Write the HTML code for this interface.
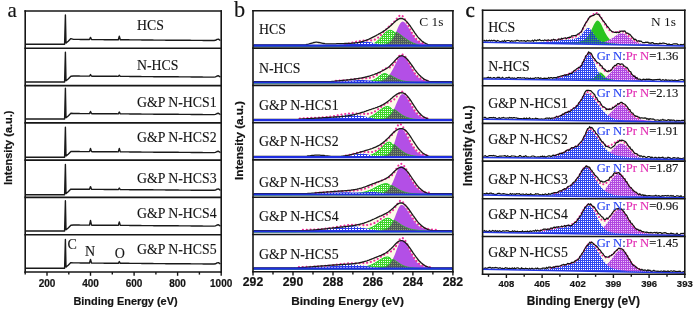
<!DOCTYPE html>
<html><head><meta charset="utf-8"><style>html,body{margin:0;padding:0;background:#fff;overflow:hidden;}svg{display:block;will-change:transform;}</style></head>
<body>
<svg width="695" height="310" viewBox="0 0 695 310">
<defs>
<pattern id="pb" width="3" height="2" patternUnits="userSpaceOnUse"><rect width="3" height="2" fill="#2a3cec"/><rect x="1" y="1" width="2" height="1" fill="#ffffff"/></pattern>
<pattern id="pbc" width="2" height="2" patternUnits="userSpaceOnUse"><rect width="2" height="2" fill="#3048f0"/><rect x="1" y="1" width="1" height="1" fill="#ffffff"/></pattern>
<pattern id="pm" width="2" height="2" patternUnits="userSpaceOnUse"><rect width="2" height="2" fill="#b048e0"/><rect x="1" y="1" width="1" height="1" fill="#f0c4f8"/></pattern>
<pattern id="pg" width="2" height="2" patternUnits="userSpaceOnUse"><rect width="2" height="2" fill="#3cd428"/><rect x="1" y="1" width="1" height="1" fill="#f4fff0"/></pattern>
<pattern id="pk" width="2" height="2" patternUnits="userSpaceOnUse"><rect width="2" height="2" fill="#4e5a5a"/><rect x="1" y="1" width="1" height="1" fill="#8aa070"/></pattern>
<pattern id="pgo" width="2" height="2" patternUnits="userSpaceOnUse"><rect width="2" height="2" fill="#1f4fb0"/><rect x="1" y="1" width="1" height="1" fill="#3fc03a"/></pattern>
</defs>
<rect width="695" height="310" fill="#ffffff"/>
<path d="M26.0,44.3 L64.6,44.3 L65.4,14.9 L66.0,43.1 L66.7,42.5 L68.2,41.3 L70.9,38.6 L73.5,39.4 L74.5,39.4 L76.0,39.4 L77.5,39.4 L79.0,39.4 L80.5,39.5 L82.0,39.5 L83.5,39.5 L85.0,39.5 L86.5,39.5 L88.0,39.5 L89.5,39.5 L89.5,39.5 L90.5,37.4 L91.5,39.5 L92.5,39.6 L94.0,39.6 L95.5,39.6 L97.0,39.6 L98.5,39.6 L100.0,39.6 L101.5,39.6 L103.0,39.6 L104.5,39.7 L106.0,39.7 L107.5,39.7 L109.0,39.7 L110.5,39.7 L112.0,39.7 L113.5,39.7 L115.0,39.7 L116.5,39.7 L118.0,39.8 L118.3,39.8 L119.3,36.2 L120.3,39.8 L121.0,39.8 L122.5,39.8 L124.0,39.8 L125.5,39.8 L127.0,39.8 L128.5,39.8 L130.0,39.9 L131.5,39.9 L133.0,39.9 L134.5,39.9 L136.0,39.9 L137.5,39.9 L139.0,39.9 L140.5,39.9 L142.0,40.0 L143.5,40.0 L145.0,40.0 L146.5,40.0 L148.0,40.0 L149.5,40.0 L151.0,40.0 L152.5,40.0 L154.0,40.1 L155.5,40.1 L157.0,40.1 L158.5,40.1 L160.0,40.1 L161.5,40.1 L163.0,40.1 L164.5,40.1 L166.0,40.2 L167.5,40.2 L169.0,40.2 L170.5,40.2 L172.0,40.2 L173.5,40.2 L175.0,40.2 L176.5,40.2 L178.0,40.2 L179.5,40.3 L181.0,40.3 L182.5,40.3 L184.0,40.3 L185.5,40.3 L187.0,40.3 L188.5,40.3 L190.0,40.3 L191.5,40.4 L193.0,40.4 L194.5,40.4 L196.0,40.4 L197.5,40.4 L199.0,40.4 L200.5,40.4 L202.0,40.4 L203.5,40.5 L205.0,40.5 L206.5,40.5 L208.0,40.5 L209.5,40.5 L211.0,40.5 L212.5,40.5 L214.0,40.5 L215.5,40.3 L217.0,39.4 L218.5,39.1 L220.0,40.2 L220.4,40.6" fill="none" stroke="#1a1a1a" stroke-width="1.4" stroke-linejoin="round"/>
<path d="M26.0,82.0 L64.6,82.0 L65.4,52.2 L66.0,80.8 L66.7,80.2 L68.2,79.0 L70.9,76.3 L73.5,76.0 L74.5,76.0 L76.0,76.0 L77.5,76.0 L79.0,76.0 L80.5,76.1 L82.0,76.1 L83.5,76.1 L85.0,76.1 L86.5,76.1 L88.0,76.1 L89.5,76.1 L89.5,76.1 L90.5,74.6 L91.5,76.1 L92.5,76.2 L94.0,76.2 L95.5,76.2 L97.0,76.2 L98.5,76.2 L100.0,76.2 L101.5,76.2 L103.0,76.2 L104.5,76.3 L106.0,76.3 L107.5,76.3 L109.0,76.3 L110.5,76.3 L112.0,76.3 L113.5,76.3 L115.0,76.3 L116.5,76.3 L118.0,76.4 L118.3,76.4 L119.3,75.2 L120.3,76.4 L121.0,76.4 L122.5,76.4 L124.0,76.4 L125.5,76.4 L127.0,76.4 L128.5,76.4 L130.0,76.5 L131.5,76.5 L133.0,76.5 L134.5,76.5 L136.0,76.5 L137.5,76.5 L139.0,76.5 L140.5,76.5 L142.0,76.6 L143.5,76.6 L145.0,76.6 L146.5,76.6 L148.0,76.6 L149.5,76.6 L151.0,76.6 L152.5,76.6 L154.0,76.7 L155.5,76.7 L157.0,76.7 L158.5,76.7 L160.0,76.7 L161.5,76.7 L163.0,76.7 L164.5,76.7 L166.0,76.8 L167.5,76.8 L169.0,76.8 L170.5,76.8 L172.0,76.8 L173.5,76.8 L175.0,76.8 L176.5,76.8 L178.0,76.8 L179.5,76.9 L181.0,76.9 L182.5,76.9 L184.0,76.9 L185.5,76.9 L187.0,76.9 L188.5,76.9 L190.0,76.9 L191.5,77.0 L193.0,77.0 L194.5,77.0 L196.0,77.0 L197.5,77.0 L199.0,77.0 L200.5,77.0 L202.0,77.0 L203.5,77.1 L205.0,77.1 L206.5,77.1 L208.0,77.1 L209.5,77.1 L211.0,77.1 L212.5,77.1 L214.0,77.1 L215.5,76.9 L217.0,76.0 L218.5,75.7 L220.0,76.8 L220.4,77.2" fill="none" stroke="#1a1a1a" stroke-width="1.4" stroke-linejoin="round"/>
<path d="M26.0,119.0 L64.6,119.0 L65.4,88.2 L66.0,117.8 L66.7,117.2 L68.2,116.0 L70.9,113.3 L73.5,113.5 L74.5,113.5 L76.0,113.5 L77.5,113.5 L79.0,113.5 L80.5,113.6 L82.0,113.6 L83.5,113.6 L85.0,113.6 L86.5,113.6 L88.0,113.6 L89.5,113.6 L89.5,113.6 L90.5,111.5 L91.5,113.6 L92.5,113.7 L94.0,113.7 L95.5,113.7 L97.0,113.7 L98.5,113.7 L100.0,113.7 L101.5,113.7 L103.0,113.7 L104.5,113.8 L106.0,113.8 L107.5,113.8 L109.0,113.8 L110.5,113.8 L112.0,113.8 L113.5,113.8 L115.0,113.8 L116.5,113.8 L118.0,113.9 L118.3,113.9 L119.3,112.0 L120.3,113.9 L121.0,113.9 L122.5,113.9 L124.0,113.9 L125.5,113.9 L127.0,113.9 L128.5,113.9 L130.0,114.0 L131.5,114.0 L133.0,114.0 L134.5,114.0 L136.0,114.0 L137.5,114.0 L139.0,114.0 L140.5,114.0 L142.0,114.1 L143.5,114.1 L145.0,114.1 L146.5,114.1 L148.0,114.1 L149.5,114.1 L151.0,114.1 L152.5,114.1 L154.0,114.2 L155.5,114.2 L157.0,114.2 L158.5,114.2 L160.0,114.2 L161.5,114.2 L163.0,114.2 L164.5,114.2 L166.0,114.3 L167.5,114.3 L169.0,114.3 L170.5,114.3 L172.0,114.3 L173.5,114.3 L175.0,114.3 L176.5,114.3 L178.0,114.3 L179.5,114.4 L181.0,114.4 L182.5,114.4 L184.0,114.4 L185.5,114.4 L187.0,114.4 L188.5,114.4 L190.0,114.4 L191.5,114.5 L193.0,114.5 L194.5,114.5 L196.0,114.5 L197.5,114.5 L199.0,114.5 L200.5,114.5 L202.0,114.5 L203.5,114.6 L205.0,114.6 L206.5,114.6 L208.0,114.6 L209.5,114.6 L211.0,114.6 L212.5,114.6 L214.0,114.6 L215.5,114.4 L217.0,113.5 L218.5,113.2 L220.0,114.3 L220.4,114.7" fill="none" stroke="#1a1a1a" stroke-width="1.4" stroke-linejoin="round"/>
<path d="M26.0,157.2 L64.6,157.2 L65.4,127.2 L66.0,156.0 L66.7,155.4 L68.2,154.2 L70.9,151.5 L73.5,151.5 L74.5,151.5 L76.0,151.5 L77.5,151.5 L79.0,151.5 L80.5,151.6 L82.0,151.6 L83.5,151.6 L85.0,151.6 L86.5,151.6 L88.0,151.6 L89.5,151.6 L89.5,151.6 L90.5,148.5 L91.5,151.6 L92.5,151.7 L94.0,151.7 L95.5,151.7 L97.0,151.7 L98.5,151.7 L100.0,151.7 L101.5,151.7 L103.0,151.7 L104.5,151.8 L106.0,151.8 L107.5,151.8 L109.0,151.8 L110.5,151.8 L112.0,151.8 L113.5,151.8 L115.0,151.8 L116.5,151.8 L118.0,151.9 L118.3,151.9 L119.3,148.5 L120.3,151.9 L121.0,151.9 L122.5,151.9 L124.0,151.9 L125.5,151.9 L127.0,151.9 L128.5,151.9 L130.0,152.0 L131.5,152.0 L133.0,152.0 L134.5,152.0 L136.0,152.0 L137.5,152.0 L139.0,152.0 L140.5,152.0 L142.0,152.1 L143.5,152.1 L145.0,152.1 L146.5,152.1 L148.0,152.1 L149.5,152.1 L151.0,152.1 L152.5,152.1 L154.0,152.2 L155.5,152.2 L157.0,152.2 L158.5,152.2 L160.0,152.2 L161.5,152.2 L163.0,152.2 L164.5,152.2 L166.0,152.3 L167.5,152.3 L169.0,152.3 L170.5,152.3 L172.0,152.3 L173.5,152.3 L175.0,152.3 L176.5,152.3 L178.0,152.3 L179.5,152.4 L181.0,152.4 L182.5,152.4 L184.0,152.4 L185.5,152.4 L187.0,152.4 L188.5,152.4 L190.0,152.4 L191.5,152.5 L193.0,152.5 L194.5,152.5 L196.0,152.5 L197.5,152.5 L199.0,152.5 L200.5,152.5 L202.0,152.5 L203.5,152.6 L205.0,152.6 L206.5,152.6 L208.0,152.6 L209.5,152.6 L211.0,152.6 L212.5,152.6 L214.0,152.6 L215.5,152.4 L217.0,151.5 L218.5,151.2 L220.0,152.3 L220.4,152.7" fill="none" stroke="#1a1a1a" stroke-width="1.4" stroke-linejoin="round"/>
<path d="M26.0,194.8 L64.6,194.8 L65.4,164.4 L66.0,193.6 L66.7,193.0 L68.2,191.8 L70.9,189.1 L73.5,189.2 L74.5,189.2 L76.0,189.2 L77.5,189.2 L79.0,189.2 L80.5,189.3 L82.0,189.3 L83.5,189.3 L85.0,189.3 L86.5,189.3 L88.0,189.3 L89.5,189.3 L89.5,189.3 L90.5,186.6 L91.5,189.3 L92.5,189.4 L94.0,189.4 L95.5,189.4 L97.0,189.4 L98.5,189.4 L100.0,189.4 L101.5,189.4 L103.0,189.4 L104.5,189.5 L106.0,189.5 L107.5,189.5 L109.0,189.5 L110.5,189.5 L112.0,189.5 L113.5,189.5 L115.0,189.5 L116.5,189.5 L118.0,189.6 L118.3,189.6 L119.3,188.0 L120.3,189.6 L121.0,189.6 L122.5,189.6 L124.0,189.6 L125.5,189.6 L127.0,189.6 L128.5,189.6 L130.0,189.7 L131.5,189.7 L133.0,189.7 L134.5,189.7 L136.0,189.7 L137.5,189.7 L139.0,189.7 L140.5,189.7 L142.0,189.8 L143.5,189.8 L145.0,189.8 L146.5,189.8 L148.0,189.8 L149.5,189.8 L151.0,189.8 L152.5,189.8 L154.0,189.9 L155.5,189.9 L157.0,189.9 L158.5,189.9 L160.0,189.9 L161.5,189.9 L163.0,189.9 L164.5,189.9 L166.0,190.0 L167.5,190.0 L169.0,190.0 L170.5,190.0 L172.0,190.0 L173.5,190.0 L175.0,190.0 L176.5,190.0 L178.0,190.0 L179.5,190.1 L181.0,190.1 L182.5,190.1 L184.0,190.1 L185.5,190.1 L187.0,190.1 L188.5,190.1 L190.0,190.1 L191.5,190.2 L193.0,190.2 L194.5,190.2 L196.0,190.2 L197.5,190.2 L199.0,190.2 L200.5,190.2 L202.0,190.2 L203.5,190.3 L205.0,190.3 L206.5,190.3 L208.0,190.3 L209.5,190.3 L211.0,190.3 L212.5,190.3 L214.0,190.3 L215.5,190.1 L217.0,189.2 L218.5,188.9 L220.0,190.0 L220.4,190.4" fill="none" stroke="#1a1a1a" stroke-width="1.4" stroke-linejoin="round"/>
<path d="M26.0,231.0 L64.6,231.0 L65.4,200.7 L66.0,229.8 L66.7,229.2 L68.2,228.0 L70.9,225.3 L73.5,225.0 L74.5,225.0 L76.0,225.0 L77.5,225.0 L79.0,225.0 L80.5,225.1 L82.0,225.1 L83.5,225.1 L85.0,225.1 L86.5,225.1 L88.0,225.1 L89.5,225.1 L89.5,225.1 L90.5,220.5 L91.5,225.1 L92.5,225.2 L94.0,225.2 L95.5,225.2 L97.0,225.2 L98.5,225.2 L100.0,225.2 L101.5,225.2 L103.0,225.2 L104.5,225.3 L106.0,225.3 L107.5,225.3 L109.0,225.3 L110.5,225.3 L112.0,225.3 L113.5,225.3 L115.0,225.3 L116.5,225.3 L118.0,225.4 L118.3,225.4 L119.3,222.0 L120.3,225.4 L121.0,225.4 L122.5,225.4 L124.0,225.4 L125.5,225.4 L127.0,225.4 L128.5,225.4 L130.0,225.5 L131.5,225.5 L133.0,225.5 L134.5,225.5 L136.0,225.5 L137.5,225.5 L139.0,225.5 L140.5,225.5 L142.0,225.6 L143.5,225.6 L145.0,225.6 L146.5,225.6 L148.0,225.6 L149.5,225.6 L151.0,225.6 L152.5,225.6 L154.0,225.7 L155.5,225.7 L157.0,225.7 L158.5,225.7 L160.0,225.7 L161.5,225.7 L163.0,225.7 L164.5,225.7 L166.0,225.8 L167.5,225.8 L169.0,225.8 L170.5,225.8 L172.0,225.8 L173.5,225.8 L175.0,225.8 L176.5,225.8 L178.0,225.8 L179.5,225.9 L181.0,225.9 L182.5,225.9 L184.0,225.9 L185.5,225.9 L187.0,225.9 L188.5,225.9 L190.0,225.9 L191.5,226.0 L193.0,226.0 L194.5,226.0 L196.0,226.0 L197.5,226.0 L199.0,226.0 L200.5,226.0 L202.0,226.0 L203.5,226.1 L205.0,226.1 L206.5,226.1 L208.0,226.1 L209.5,226.1 L211.0,226.1 L212.5,226.1 L214.0,226.1 L215.5,225.9 L217.0,225.0 L218.5,224.7 L220.0,225.8 L220.4,226.2" fill="none" stroke="#1a1a1a" stroke-width="1.4" stroke-linejoin="round"/>
<path d="M26.0,268.3 L64.6,268.3 L65.4,239.4 L66.0,267.1 L66.7,266.5 L68.2,265.3 L70.9,262.6 L73.5,262.9 L74.5,262.9 L76.0,262.9 L77.5,262.9 L79.0,262.9 L80.5,263.0 L82.0,263.0 L83.5,263.0 L85.0,263.0 L86.5,263.0 L88.0,263.0 L89.5,263.0 L89.5,263.0 L90.5,259.5 L91.5,263.0 L92.5,263.1 L94.0,263.1 L95.5,263.1 L97.0,263.1 L98.5,263.1 L100.0,263.1 L101.5,263.1 L103.0,263.1 L104.5,263.2 L106.0,263.2 L107.5,263.2 L109.0,263.2 L110.5,263.2 L112.0,263.2 L113.5,263.2 L115.0,263.2 L116.5,263.2 L118.0,263.3 L118.3,263.3 L119.3,261.6 L120.3,263.3 L121.0,263.3 L122.5,263.3 L124.0,263.3 L125.5,263.3 L127.0,263.3 L128.5,263.3 L130.0,263.4 L131.5,263.4 L133.0,263.4 L134.5,263.4 L136.0,263.4 L137.5,263.4 L139.0,263.4 L140.5,263.4 L142.0,263.5 L143.5,263.5 L145.0,263.5 L146.5,263.5 L148.0,263.5 L149.5,263.5 L151.0,263.5 L152.5,263.5 L154.0,263.6 L155.5,263.6 L157.0,263.6 L158.5,263.6 L160.0,263.6 L161.5,263.6 L163.0,263.6 L164.5,263.6 L166.0,263.7 L167.5,263.7 L169.0,263.7 L170.5,263.7 L172.0,263.7 L173.5,263.7 L175.0,263.7 L176.5,263.7 L178.0,263.7 L179.5,263.8 L181.0,263.8 L182.5,263.8 L184.0,263.8 L185.5,263.8 L187.0,263.8 L188.5,263.8 L190.0,263.8 L191.5,263.9 L193.0,263.9 L194.5,263.9 L196.0,263.9 L197.5,263.9 L199.0,263.9 L200.5,263.9 L202.0,263.9 L203.5,264.0 L205.0,264.0 L206.5,264.0 L208.0,264.0 L209.5,264.0 L211.0,264.0 L212.5,264.0 L214.0,264.0 L215.5,263.8 L217.0,262.9 L218.5,262.6 L220.0,263.7 L220.4,264.1" fill="none" stroke="#1a1a1a" stroke-width="1.4" stroke-linejoin="round"/>
<path d="M253.8,46.0 L253.8,44.9 L254.8,44.9 L255.8,44.9 L256.8,44.9 L257.8,44.9 L258.8,44.9 L259.8,44.9 L260.8,44.9 L261.8,44.9 L262.8,44.9 L263.8,44.9 L264.8,44.9 L265.8,44.9 L266.8,44.9 L267.8,44.9 L268.8,44.9 L269.8,44.9 L270.8,44.9 L271.8,44.9 L272.8,44.9 L273.8,44.9 L274.8,44.9 L275.8,44.9 L276.8,44.9 L277.8,44.9 L278.8,44.9 L279.8,44.9 L280.8,44.9 L281.8,44.9 L282.8,44.9 L283.8,44.9 L284.8,44.9 L285.8,44.9 L286.9,44.9 L287.9,44.9 L288.9,44.9 L289.9,44.9 L290.9,44.9 L291.9,44.9 L292.9,44.9 L293.9,44.9 L294.9,44.9 L295.9,44.9 L296.9,44.9 L297.9,44.9 L298.9,44.9 L299.9,44.9 L300.9,44.9 L301.9,44.9 L302.9,44.9 L303.9,44.9 L304.9,44.8 L305.9,44.7 L306.9,44.5 L307.9,44.3 L308.9,44.0 L309.9,43.7 L310.9,43.4 L311.9,43.1 L312.9,42.8 L313.9,42.5 L314.9,42.3 L315.9,42.2 L316.9,42.2 L317.9,42.3 L318.9,42.5 L319.9,42.7 L320.9,42.9 L321.9,43.1 L322.9,43.3 L323.9,43.5 L324.9,43.7 L325.9,43.8 L326.9,43.9 L327.9,43.9 L328.9,43.9 L329.9,43.9 L330.9,43.9 L331.9,43.9 L332.9,43.9 L333.9,43.8 L334.9,43.8 L335.9,43.8 L336.9,43.7 L337.9,43.7 L338.9,43.7 L339.9,43.7 L340.9,43.6 L341.9,43.6 L342.9,43.6 L343.9,43.6 L344.9,43.5 L345.9,43.5 L346.9,43.5 L347.9,43.4 L348.9,43.4 L349.9,43.3 L350.9,43.3 L351.9,43.2 L352.9,43.1 L354.0,43.0 L355.0,42.9 L356.0,42.8 L357.0,42.6 L358.0,42.5 L359.0,42.3 L360.0,42.1 L361.0,41.9 L362.0,41.6 L363.0,41.3 L364.0,41.0 L365.0,40.7 L366.0,40.3 L367.0,39.9 L368.0,39.5 L369.0,39.1 L370.0,38.6 L371.0,38.2 L372.0,37.7 L373.0,37.2 L374.0,36.7 L375.0,36.1 L376.0,35.6 L377.0,35.0 L378.0,34.5 L379.0,33.9 L380.0,33.4 L381.0,32.8 L382.0,32.2 L383.0,31.6 L384.0,30.9 L385.0,30.3 L386.0,29.6 L387.0,28.8 L388.0,28.0 L389.0,27.2 L390.0,26.3 L391.0,25.4 L392.0,24.5 L393.0,23.6 L394.0,22.6 L395.0,21.7 L396.0,20.8 L397.0,20.1 L398.0,19.4 L399.0,18.9 L400.0,18.5 L401.0,18.4 L402.0,18.5 L403.0,18.8 L404.0,19.3 L405.0,20.0 L406.0,20.9 L407.0,21.9 L408.0,23.1 L409.0,24.3 L410.0,25.7 L411.0,27.2 L412.0,28.6 L413.0,30.1 L414.0,31.6 L415.0,33.1 L416.0,34.5 L417.0,35.8 L418.0,37.1 L419.0,38.2 L420.1,39.3 L421.1,40.3 L422.1,41.2 L423.1,41.9 L424.1,42.6 L425.1,43.2 L426.1,43.7 L427.1,44.1 L428.1,44.5 L429.1,44.8 L430.1,44.9 L431.1,44.9 L432.1,44.9 L433.1,44.9 L434.1,44.9 L435.1,44.9 L436.1,44.9 L437.1,44.9 L438.1,44.9 L439.1,44.9 L440.1,44.9 L441.1,44.9 L442.1,44.9 L443.1,44.9 L444.1,44.9 L445.1,44.9 L446.1,44.9 L447.1,44.9 L448.1,44.9 L449.1,44.9 L450.1,44.9 L451.1,44.9 L452.1,44.9 L452.1,46.0 Z" fill="#fcfae8"/>
<path d="M253.8,46.0 L253.8,46.0 L254.8,46.0 L255.8,46.0 L256.8,46.0 L257.8,46.0 L258.8,46.0 L259.8,46.0 L260.8,46.0 L261.8,46.0 L262.8,46.0 L263.8,46.0 L264.8,46.0 L265.8,46.0 L266.8,46.0 L267.8,46.0 L268.8,46.0 L269.8,46.0 L270.8,46.0 L271.8,46.0 L272.8,46.0 L273.8,46.0 L274.8,46.0 L275.8,46.0 L276.8,46.0 L277.8,46.0 L278.8,46.0 L279.8,46.0 L280.8,46.0 L281.8,46.0 L282.8,46.0 L283.8,46.0 L284.8,46.0 L285.8,46.0 L286.9,46.0 L287.9,46.0 L288.9,46.0 L289.9,46.0 L290.9,46.0 L291.9,46.0 L292.9,46.0 L293.9,46.0 L294.9,46.0 L295.9,45.9 L296.9,45.9 L297.9,45.9 L298.9,45.9 L299.9,45.9 L300.9,45.9 L301.9,45.9 L302.9,45.9 L303.9,45.9 L304.9,45.9 L305.9,45.9 L306.9,45.9 L307.9,45.9 L308.9,45.9 L309.9,45.9 L310.9,45.9 L311.9,45.9 L312.9,45.9 L313.9,45.9 L314.9,45.9 L315.9,45.9 L316.9,45.9 L317.9,45.9 L318.9,45.9 L319.9,45.9 L320.9,45.9 L321.9,45.9 L322.9,45.9 L323.9,45.9 L324.9,45.9 L325.9,45.9 L326.9,45.9 L327.9,45.9 L328.9,45.9 L329.9,45.9 L330.9,45.9 L331.9,45.9 L332.9,45.9 L333.9,45.9 L334.9,45.9 L335.9,45.9 L336.9,45.9 L337.9,45.9 L338.9,45.9 L339.9,45.9 L340.9,45.8 L341.9,45.8 L342.9,45.8 L343.9,45.8 L344.9,45.8 L345.9,45.8 L346.9,45.8 L347.9,45.8 L348.9,45.8 L349.9,45.8 L350.9,45.8 L351.9,45.8 L352.9,45.8 L354.0,45.8 L355.0,45.8 L356.0,45.7 L357.0,45.7 L358.0,45.7 L359.0,45.7 L360.0,45.7 L361.0,45.7 L362.0,45.7 L363.0,45.6 L364.0,45.6 L365.0,45.6 L366.0,45.6 L367.0,45.6 L368.0,45.5 L369.0,45.5 L370.0,45.5 L371.0,45.5 L372.0,45.4 L373.0,45.4 L374.0,45.3 L375.0,45.3 L376.0,45.2 L377.0,45.2 L378.0,45.1 L379.0,45.1 L380.0,45.0 L381.0,44.9 L382.0,44.8 L383.0,44.6 L384.0,44.5 L385.0,44.3 L386.0,44.0 L387.0,43.7 L388.0,43.2 L389.0,42.6 L390.0,41.8 L391.0,40.8 L392.0,39.6 L393.0,38.1 L394.0,36.4 L395.0,34.4 L396.0,32.2 L397.0,29.9 L398.0,27.6 L399.0,25.5 L400.0,23.7 L401.0,22.4 L402.0,21.7 L403.0,21.6 L404.0,22.0 L405.0,22.8 L406.0,23.9 L407.0,25.3 L408.0,26.9 L409.0,28.6 L410.0,30.3 L411.0,32.0 L412.0,33.7 L413.0,35.3 L414.0,36.7 L415.0,38.0 L416.0,39.2 L417.0,40.2 L418.0,41.0 L419.0,41.8 L420.1,42.4 L421.1,42.9 L422.1,43.3 L423.1,43.6 L424.1,43.9 L425.1,44.1 L426.1,44.3 L427.1,44.5 L428.1,44.6 L429.1,44.7 L430.1,44.8 L431.1,44.9 L432.1,45.0 L433.1,45.0 L434.1,45.1 L435.1,45.1 L436.1,45.2 L437.1,45.2 L438.1,45.3 L439.1,45.3 L440.1,45.3 L441.1,45.4 L442.1,45.4 L443.1,45.4 L444.1,45.4 L445.1,45.5 L446.1,45.5 L447.1,45.5 L448.1,45.5 L449.1,45.6 L450.1,45.6 L451.1,45.6 L452.1,45.6 L452.1,46.0 Z" fill="#b34fe6"/>
<path d="M253.8,46.0 L253.8,46.0 L254.8,46.0 L255.8,46.0 L256.8,46.0 L257.8,46.0 L258.8,46.0 L259.8,46.0 L260.8,46.0 L261.8,46.0 L262.8,46.0 L263.8,46.0 L264.8,46.0 L265.8,46.0 L266.8,46.0 L267.8,46.0 L268.8,46.0 L269.8,46.0 L270.8,46.0 L271.8,46.0 L272.8,46.0 L273.8,46.0 L274.8,46.0 L275.8,46.0 L276.8,46.0 L277.8,46.0 L278.8,46.0 L279.8,46.0 L280.8,46.0 L281.8,46.0 L282.8,46.0 L283.8,46.0 L284.8,46.0 L285.8,46.0 L286.9,46.0 L287.9,46.0 L288.9,46.0 L289.9,46.0 L290.9,46.0 L291.9,46.0 L292.9,46.0 L293.9,46.0 L294.9,46.0 L295.9,46.0 L296.9,46.0 L297.9,46.0 L298.9,46.0 L299.9,46.0 L300.9,46.0 L301.9,46.0 L302.9,46.0 L303.9,46.0 L304.9,46.0 L305.9,46.0 L306.9,46.0 L307.9,46.0 L308.9,46.0 L309.9,46.0 L310.9,46.0 L311.9,46.0 L312.9,46.0 L313.9,46.0 L314.9,46.0 L315.9,46.0 L316.9,46.0 L317.9,46.0 L318.9,46.0 L319.9,46.0 L320.9,46.0 L321.9,46.0 L322.9,46.0 L323.9,46.0 L324.9,46.0 L325.9,46.0 L326.9,46.0 L327.9,46.0 L328.9,46.0 L329.9,46.0 L330.9,46.0 L331.9,46.0 L332.9,46.0 L333.9,46.0 L334.9,46.0 L335.9,46.0 L336.9,46.0 L337.9,46.0 L338.9,46.0 L339.9,46.0 L340.9,46.0 L341.9,46.0 L342.9,46.0 L343.9,46.0 L344.9,46.0 L345.9,46.0 L346.9,46.0 L347.9,46.0 L348.9,46.0 L349.9,46.0 L350.9,46.0 L351.9,46.0 L352.9,46.0 L354.0,46.0 L355.0,46.0 L356.0,46.0 L357.0,46.0 L358.0,46.0 L359.0,46.0 L360.0,46.0 L361.0,46.0 L362.0,46.0 L363.0,45.9 L364.0,45.9 L365.0,45.8 L366.0,45.8 L367.0,45.7 L368.0,45.6 L369.0,45.4 L370.0,45.2 L371.0,44.9 L372.0,44.6 L373.0,44.2 L374.0,43.6 L375.0,43.0 L376.0,42.3 L377.0,41.5 L378.0,40.6 L379.0,39.6 L380.0,38.5 L381.0,37.4 L382.0,36.3 L383.0,35.1 L384.0,34.0 L385.0,33.0 L386.0,32.1 L387.0,31.4 L388.0,30.8 L389.0,30.5 L390.0,30.3 L391.0,30.4 L392.0,30.8 L393.0,31.3 L394.0,32.0 L395.0,32.8 L396.0,33.8 L397.0,34.8 L398.0,36.0 L399.0,37.1 L400.0,38.2 L401.0,39.3 L402.0,40.3 L403.0,41.2 L404.0,42.0 L405.0,42.7 L406.0,43.4 L407.0,43.9 L408.0,44.4 L409.0,44.7 L410.0,45.0 L411.0,45.3 L412.0,45.5 L413.0,45.6 L414.0,45.7 L415.0,45.8 L416.0,45.9 L417.0,45.9 L418.0,45.9 L419.0,46.0 L420.1,46.0 L421.1,46.0 L422.1,46.0 L423.1,46.0 L424.1,46.0 L425.1,46.0 L426.1,46.0 L427.1,46.0 L428.1,46.0 L429.1,46.0 L430.1,46.0 L431.1,46.0 L432.1,46.0 L433.1,46.0 L434.1,46.0 L435.1,46.0 L436.1,46.0 L437.1,46.0 L438.1,46.0 L439.1,46.0 L440.1,46.0 L441.1,46.0 L442.1,46.0 L443.1,46.0 L444.1,46.0 L445.1,46.0 L446.1,46.0 L447.1,46.0 L448.1,46.0 L449.1,46.0 L450.1,46.0 L451.1,46.0 L452.1,46.0 L452.1,46.0 Z" fill="url(#pg)" stroke="#22cc22" stroke-width="1.0"/>
<path d="M253.8,46.0 L253.8,46.0 L254.8,46.0 L255.8,46.0 L256.8,46.0 L257.8,46.0 L258.8,46.0 L259.8,46.0 L260.8,46.0 L261.8,46.0 L262.8,46.0 L263.8,46.0 L264.8,46.0 L265.8,46.0 L266.8,46.0 L267.8,46.0 L268.8,46.0 L269.8,46.0 L270.8,46.0 L271.8,46.0 L272.8,46.0 L273.8,46.0 L274.8,46.0 L275.8,46.0 L276.8,46.0 L277.8,46.0 L278.8,46.0 L279.8,46.0 L280.8,46.0 L281.8,46.0 L282.8,46.0 L283.8,46.0 L284.8,46.0 L285.8,46.0 L286.9,46.0 L287.9,46.0 L288.9,46.0 L289.9,46.0 L290.9,46.0 L291.9,46.0 L292.9,46.0 L293.9,46.0 L294.9,46.0 L295.9,46.0 L296.9,46.0 L297.9,46.0 L298.9,46.0 L299.9,46.0 L300.9,46.0 L301.9,46.0 L302.9,46.0 L303.9,46.0 L304.9,46.0 L305.9,46.0 L306.9,46.0 L307.9,46.0 L308.9,46.0 L309.9,46.0 L310.9,46.0 L311.9,46.0 L312.9,46.0 L313.9,46.0 L314.9,46.0 L315.9,46.0 L316.9,46.0 L317.9,46.0 L318.9,46.0 L319.9,46.0 L320.9,46.0 L321.9,46.0 L322.9,46.0 L323.9,46.0 L324.9,46.0 L325.9,46.0 L326.9,46.0 L327.9,46.0 L328.9,46.0 L329.9,46.0 L330.9,46.0 L331.9,46.0 L332.9,46.0 L333.9,46.0 L334.9,46.0 L335.9,46.0 L336.9,46.0 L337.9,46.0 L338.9,46.0 L339.9,46.0 L340.9,46.0 L341.9,46.0 L342.9,46.0 L343.9,46.0 L344.9,46.0 L345.9,46.0 L346.9,46.0 L347.9,46.0 L348.9,46.0 L349.9,46.0 L350.9,46.0 L351.9,46.0 L352.9,46.0 L354.0,46.0 L355.0,46.0 L356.0,46.0 L357.0,46.0 L358.0,46.0 L359.0,46.0 L360.0,46.0 L361.0,46.0 L362.0,46.0 L363.0,45.9 L364.0,45.9 L365.0,45.8 L366.0,45.8 L367.0,45.7 L368.0,45.6 L369.0,45.5 L370.0,45.5 L371.0,45.5 L372.0,45.4 L373.0,45.4 L374.0,45.3 L375.0,45.3 L376.0,45.2 L377.0,45.2 L378.0,45.1 L379.0,45.1 L380.0,45.0 L381.0,44.9 L382.0,44.8 L383.0,44.6 L384.0,44.5 L385.0,44.3 L386.0,44.0 L387.0,43.7 L388.0,43.2 L389.0,42.6 L390.0,41.8 L391.0,40.8 L392.0,39.6 L393.0,38.1 L394.0,36.4 L395.0,34.4 L396.0,32.2 L397.0,32.5 L398.0,33.1 L399.0,33.8 L400.0,34.5 L401.0,35.2 L402.0,36.0 L403.0,36.7 L404.0,37.5 L405.0,38.2 L406.0,38.9 L407.0,39.6 L408.0,40.3 L409.0,40.9 L410.0,41.5 L411.0,42.0 L412.0,42.5 L413.0,43.0 L414.0,43.4 L415.0,43.8 L416.0,44.1 L417.0,44.4 L418.0,44.6 L419.0,44.9 L420.1,45.0 L421.1,45.2 L422.1,45.4 L423.1,45.5 L424.1,45.6 L425.1,45.7 L426.1,45.7 L427.1,45.8 L428.1,45.8 L429.1,45.9 L430.1,45.9 L431.1,45.9 L432.1,45.9 L433.1,46.0 L434.1,46.0 L435.1,46.0 L436.1,46.0 L437.1,46.0 L438.1,46.0 L439.1,46.0 L440.1,46.0 L441.1,46.0 L442.1,46.0 L443.1,46.0 L444.1,46.0 L445.1,46.0 L446.1,46.0 L447.1,46.0 L448.1,46.0 L449.1,46.0 L450.1,46.0 L451.1,46.0 L452.1,46.0 L452.1,46.0 Z" fill="url(#pk)" stroke="#30b030" stroke-width="0.8"/>
<path d="M253.8,46.0 L253.8,46.0 L254.8,46.0 L255.8,46.0 L256.8,46.0 L257.8,46.0 L258.8,46.0 L259.8,46.0 L260.8,46.0 L261.8,46.0 L262.8,46.0 L263.8,46.0 L264.8,46.0 L265.8,46.0 L266.8,46.0 L267.8,46.0 L268.8,45.9 L269.8,45.9 L270.8,45.9 L271.8,45.9 L272.8,45.9 L273.8,45.9 L274.8,45.9 L275.8,45.9 L276.8,45.9 L277.8,45.9 L278.8,45.9 L279.8,45.9 L280.8,45.9 L281.8,45.8 L282.8,45.8 L283.8,45.8 L284.8,45.8 L285.8,45.8 L286.9,45.8 L287.9,45.8 L288.9,45.7 L289.9,45.7 L290.9,45.7 L291.9,45.7 L292.9,45.7 L293.9,45.6 L294.9,45.6 L295.9,45.6 L296.9,45.6 L297.9,45.6 L298.9,45.5 L299.9,45.5 L300.9,45.5 L301.9,45.5 L302.9,45.4 L303.9,45.4 L304.9,45.4 L305.9,45.4 L306.9,45.3 L307.9,45.3 L308.9,45.3 L309.9,45.3 L310.9,45.3 L311.9,45.2 L312.9,45.2 L313.9,45.2 L314.9,45.2 L315.9,45.1 L316.9,45.1 L317.9,45.1 L318.9,45.1 L319.9,45.1 L320.9,45.1 L321.9,45.1 L322.9,45.0 L323.9,45.0 L324.9,45.0 L325.9,45.0 L326.9,45.0 L327.9,45.0 L328.9,45.0 L329.9,45.0 L330.9,45.0 L331.9,45.0 L332.9,45.0 L333.9,45.0 L334.9,45.0 L335.9,44.9 L336.9,44.9 L337.9,44.9 L338.9,44.9 L339.9,44.8 L340.9,44.8 L341.9,44.7 L342.9,44.7 L343.9,44.6 L344.9,44.5 L345.9,44.3 L346.9,44.2 L347.9,44.0 L348.9,43.9 L349.9,43.7 L350.9,43.5 L351.9,43.2 L352.9,43.0 L354.0,42.8 L355.0,42.5 L356.0,42.3 L357.0,42.1 L358.0,41.9 L359.0,41.7 L360.0,41.5 L361.0,41.4 L362.0,41.3 L363.0,41.3 L364.0,41.3 L365.0,41.3 L366.0,41.4 L367.0,41.6 L368.0,41.7 L369.0,41.9 L370.0,42.1 L371.0,42.4 L372.0,42.6 L373.0,42.9 L374.0,43.2 L375.0,43.4 L376.0,43.7 L377.0,44.0 L378.0,44.2 L379.0,44.5 L380.0,44.7 L381.0,44.9 L382.0,45.0 L383.0,45.2 L384.0,45.3 L385.0,45.4 L386.0,45.5 L387.0,45.6 L388.0,45.7 L389.0,45.7 L390.0,45.8 L391.0,45.8 L392.0,45.9 L393.0,45.9 L394.0,45.9 L395.0,45.9 L396.0,45.9 L397.0,46.0 L398.0,46.0 L399.0,46.0 L400.0,46.0 L401.0,46.0 L402.0,46.0 L403.0,46.0 L404.0,46.0 L405.0,46.0 L406.0,46.0 L407.0,46.0 L408.0,46.0 L409.0,46.0 L410.0,46.0 L411.0,46.0 L412.0,46.0 L413.0,46.0 L414.0,46.0 L415.0,46.0 L416.0,46.0 L417.0,46.0 L418.0,46.0 L419.0,46.0 L420.1,46.0 L421.1,46.0 L422.1,46.0 L423.1,46.0 L424.1,46.0 L425.1,46.0 L426.1,46.0 L427.1,46.0 L428.1,46.0 L429.1,46.0 L430.1,46.0 L431.1,46.0 L432.1,46.0 L433.1,46.0 L434.1,46.0 L435.1,46.0 L436.1,46.0 L437.1,46.0 L438.1,46.0 L439.1,46.0 L440.1,46.0 L441.1,46.0 L442.1,46.0 L443.1,46.0 L444.1,46.0 L445.1,46.0 L446.1,46.0 L447.1,46.0 L448.1,46.0 L449.1,46.0 L450.1,46.0 L451.1,46.0 L452.1,46.0 L452.1,46.0 Z" fill="url(#pb)"/>
<path d="M344.9,44.0 L345.9,43.9 L346.9,43.7 L347.9,43.6 L348.9,43.4 L349.9,43.2 L350.9,42.9 L351.9,42.7 L352.9,42.5 L354.0,42.2 L355.0,42.0 L356.0,41.7 L357.0,41.5 L358.0,41.3 L359.0,41.1 L360.0,40.9 L361.0,40.8 L362.0,40.7 L363.0,40.6 L364.0,40.5 L365.0,40.5 L366.0,40.5 L367.0,40.5 L368.0,40.5 L369.0,40.5 L370.0,40.5 L371.0,40.4 L372.0,40.3 L373.0,40.1 L374.0,39.9 L375.0,39.5 L376.0,39.0 L377.0,38.4 L378.0,37.7 L379.0,36.8 L380.0,35.9 L381.0,34.9 L382.0,33.8 L383.0,32.7 L384.0,31.5 L385.0,30.4 L386.0,29.4 L387.0,28.3 L388.0,27.4 L389.0,26.5 L390.0,25.7 L391.0,24.8 L392.0,23.9 L393.0,23.0 L394.0,21.9 L395.0,20.8 L396.0,19.6 L397.0,18.4 L398.0,17.2 L399.0,16.2 L400.0,15.5 L401.0,15.3 L402.0,15.6 L403.0,16.5 L404.0,17.7 L405.0,19.3 L406.0,21.0 L407.0,22.9 L408.0,24.9 L409.0,27.0 L410.0,29.0 L411.0,31.0 L412.0,32.9 L413.0,34.6 L414.0,36.1 L415.0,37.5 L416.0,38.7 L417.0,39.8 L418.0,40.7 L419.0,41.4 L420.1,42.0 L421.1,42.6 L422.1,43.0 L423.1,43.3 L424.1,43.6 L425.1,43.8 L426.1,44.0" fill="none" stroke="#f0309c" stroke-width="2.1" stroke-linecap="round" stroke-dasharray="0.1,3.7"/>
<path d="M253.8,44.9 L254.8,44.9 L255.8,44.9 L256.8,44.9 L257.8,44.9 L258.8,44.9 L259.8,44.9 L260.8,44.9 L261.8,44.9 L262.8,44.9 L263.8,44.9 L264.8,44.9 L265.8,44.9 L266.8,44.9 L267.8,44.9 L268.8,44.9 L269.8,44.9 L270.8,44.9 L271.8,44.9 L272.8,44.9 L273.8,44.9 L274.8,44.9 L275.8,44.9 L276.8,44.9 L277.8,44.9 L278.8,44.9 L279.8,44.9 L280.8,44.9 L281.8,44.9 L282.8,44.9 L283.8,44.9 L284.8,44.9 L285.8,44.9 L286.9,44.9 L287.9,44.9 L288.9,44.9 L289.9,44.9 L290.9,44.9 L291.9,44.9 L292.9,44.9 L293.9,44.9 L294.9,44.9 L295.9,44.9 L296.9,44.9 L297.9,44.9 L298.9,44.9 L299.9,44.9 L300.9,44.9 L301.9,44.9 L302.9,44.9 L303.9,44.9 L304.9,44.8 L305.9,44.7 L306.9,44.5 L307.9,44.3 L308.9,44.0 L309.9,43.7 L310.9,43.4 L311.9,43.1 L312.9,42.8 L313.9,42.5 L314.9,42.3 L315.9,42.2 L316.9,42.2 L317.9,42.3 L318.9,42.5 L319.9,42.7 L320.9,42.9 L321.9,43.1 L322.9,43.3 L323.9,43.5 L324.9,43.7 L325.9,43.8 L326.9,43.9 L327.9,43.9 L328.9,43.9 L329.9,43.9 L330.9,43.9 L331.9,43.9 L332.9,43.9 L333.9,43.8 L334.9,43.8 L335.9,43.8 L336.9,43.7 L337.9,43.7 L338.9,43.7 L339.9,43.7 L340.9,43.6 L341.9,43.6 L342.9,43.6 L343.9,43.6 L344.9,43.5 L345.9,43.5 L346.9,43.5 L347.9,43.4 L348.9,43.4 L349.9,43.3 L350.9,43.3 L351.9,43.2 L352.9,43.1 L354.0,43.0 L355.0,42.9 L356.0,42.8 L357.0,42.6 L358.0,42.5 L359.0,42.3 L360.0,42.1 L361.0,41.9 L362.0,41.6 L363.0,41.3 L364.0,41.0 L365.0,40.7 L366.0,40.3 L367.0,39.9 L368.0,39.5 L369.0,39.1 L370.0,38.6 L371.0,38.2 L372.0,37.7 L373.0,37.2 L374.0,36.7 L375.0,36.1 L376.0,35.6 L377.0,35.0 L378.0,34.5 L379.0,33.9 L380.0,33.4 L381.0,32.8 L382.0,32.2 L383.0,31.6 L384.0,30.9 L385.0,30.3 L386.0,29.6 L387.0,28.8 L388.0,28.0 L389.0,27.2 L390.0,26.3 L391.0,25.4 L392.0,24.5 L393.0,23.6 L394.0,22.6 L395.0,21.7 L396.0,20.8 L397.0,20.1 L398.0,19.4 L399.0,18.9 L400.0,18.5 L401.0,18.4 L402.0,18.5 L403.0,18.8 L404.0,19.3 L405.0,20.0 L406.0,20.9 L407.0,21.9 L408.0,23.1 L409.0,24.3 L410.0,25.7 L411.0,27.2 L412.0,28.6 L413.0,30.1 L414.0,31.6 L415.0,33.1 L416.0,34.5 L417.0,35.8 L418.0,37.1 L419.0,38.2 L420.1,39.3 L421.1,40.3 L422.1,41.2 L423.1,41.9 L424.1,42.6 L425.1,43.2 L426.1,43.7 L427.1,44.1 L428.1,44.5 L429.1,44.8 L430.1,44.9 L431.1,44.9 L432.1,44.9 L433.1,44.9 L434.1,44.9 L435.1,44.9 L436.1,44.9 L437.1,44.9 L438.1,44.9 L439.1,44.9 L440.1,44.9 L441.1,44.9 L442.1,44.9 L443.1,44.9 L444.1,44.9 L445.1,44.9 L446.1,44.9 L447.1,44.9 L448.1,44.9 L449.1,44.9 L450.1,44.9 L451.1,44.9 L452.1,44.9" fill="none" stroke="#1a1a1a" stroke-width="1.3"/>
<line x1="253.0" y1="45.7" x2="452.9" y2="45.7" stroke="#1f2ee0" stroke-width="2.2"/>
<path d="M253.8,82.8 L253.8,81.7 L254.8,81.7 L255.8,81.7 L256.8,81.7 L257.8,81.7 L258.8,81.7 L259.8,81.7 L260.8,81.7 L261.8,81.7 L262.8,81.7 L263.8,81.7 L264.8,81.7 L265.8,81.7 L266.8,81.7 L267.8,81.7 L268.8,81.7 L269.8,81.7 L270.8,81.7 L271.8,81.7 L272.8,81.7 L273.8,81.7 L274.8,81.7 L275.8,81.7 L276.8,81.7 L277.8,81.7 L278.8,81.7 L279.8,81.7 L280.8,81.7 L281.8,81.7 L282.8,81.7 L283.8,81.7 L284.8,81.7 L285.8,81.7 L286.9,81.7 L287.9,81.7 L288.9,81.7 L289.9,81.7 L290.9,81.7 L291.9,81.7 L292.9,81.7 L293.9,81.7 L294.9,81.7 L295.9,81.7 L296.9,81.7 L297.9,81.7 L298.9,81.7 L299.9,81.7 L300.9,81.7 L301.9,81.7 L302.9,81.7 L303.9,81.7 L304.9,81.7 L305.9,81.7 L306.9,81.7 L307.9,81.7 L308.9,81.7 L309.9,81.7 L310.9,81.7 L311.9,81.7 L312.9,81.7 L313.9,81.7 L314.9,81.7 L315.9,81.7 L316.9,81.7 L317.9,81.7 L318.9,81.7 L319.9,81.7 L320.9,81.7 L321.9,81.7 L322.9,81.7 L323.9,81.7 L324.9,81.7 L325.9,81.7 L326.9,81.7 L327.9,81.7 L328.9,81.7 L329.9,81.6 L330.9,81.6 L331.9,81.5 L332.9,81.4 L333.9,81.3 L334.9,81.2 L335.9,81.1 L336.9,81.0 L337.9,80.9 L338.9,80.8 L339.9,80.7 L340.9,80.6 L341.9,80.5 L342.9,80.4 L343.9,80.3 L344.9,80.2 L345.9,80.1 L346.9,80.0 L347.9,79.9 L348.9,79.8 L349.9,79.6 L350.9,79.5 L351.9,79.4 L352.9,79.3 L354.0,79.1 L355.0,79.0 L356.0,78.9 L357.0,78.7 L358.0,78.6 L359.0,78.4 L360.0,78.2 L361.0,78.1 L362.0,77.9 L363.0,77.7 L364.0,77.5 L365.0,77.2 L366.0,77.0 L367.0,76.7 L368.0,76.5 L369.0,76.2 L370.0,75.9 L371.0,75.5 L372.0,75.2 L373.0,74.8 L374.0,74.5 L375.0,74.1 L376.0,73.7 L377.0,73.3 L378.0,72.8 L379.0,72.4 L380.0,72.0 L381.0,71.5 L382.0,71.0 L383.0,70.5 L384.0,70.0 L385.0,69.4 L386.0,68.8 L387.0,68.2 L388.0,67.5 L389.0,66.7 L390.0,65.8 L391.0,64.8 L392.0,63.8 L393.0,62.8 L394.0,61.6 L395.0,60.5 L396.0,59.4 L397.0,58.4 L398.0,57.5 L399.0,56.7 L400.0,56.1 L401.0,55.8 L402.0,55.7 L403.0,56.0 L404.0,56.5 L405.0,57.2 L406.0,58.1 L407.0,59.0 L408.0,60.2 L409.0,61.4 L410.0,62.7 L411.0,64.1 L412.0,65.5 L413.0,66.9 L414.0,68.4 L415.0,69.8 L416.0,71.1 L417.0,72.4 L418.0,73.6 L419.0,74.8 L420.1,75.8 L421.1,76.8 L422.1,77.6 L423.1,78.4 L424.1,79.1 L425.1,79.7 L426.1,80.2 L427.1,80.7 L428.1,81.0 L429.1,81.4 L430.1,81.6 L431.1,81.7 L432.1,81.7 L433.1,81.7 L434.1,81.7 L435.1,81.7 L436.1,81.7 L437.1,81.7 L438.1,81.7 L439.1,81.7 L440.1,81.7 L441.1,81.7 L442.1,81.7 L443.1,81.7 L444.1,81.7 L445.1,81.7 L446.1,81.7 L447.1,81.7 L448.1,81.7 L449.1,81.7 L450.1,81.7 L451.1,81.7 L452.1,81.7 L452.1,82.8 Z" fill="#fcfae8"/>
<path d="M253.8,82.8 L253.8,82.8 L254.8,82.8 L255.8,82.8 L256.8,82.8 L257.8,82.8 L258.8,82.7 L259.8,82.7 L260.8,82.7 L261.8,82.7 L262.8,82.7 L263.8,82.7 L264.8,82.7 L265.8,82.7 L266.8,82.7 L267.8,82.7 L268.8,82.7 L269.8,82.7 L270.8,82.7 L271.8,82.7 L272.8,82.7 L273.8,82.7 L274.8,82.7 L275.8,82.7 L276.8,82.7 L277.8,82.7 L278.8,82.7 L279.8,82.7 L280.8,82.7 L281.8,82.7 L282.8,82.7 L283.8,82.7 L284.8,82.7 L285.8,82.7 L286.9,82.7 L287.9,82.7 L288.9,82.7 L289.9,82.7 L290.9,82.7 L291.9,82.7 L292.9,82.7 L293.9,82.7 L294.9,82.7 L295.9,82.7 L296.9,82.7 L297.9,82.7 L298.9,82.7 L299.9,82.7 L300.9,82.7 L301.9,82.7 L302.9,82.7 L303.9,82.7 L304.9,82.7 L305.9,82.7 L306.9,82.7 L307.9,82.7 L308.9,82.7 L309.9,82.7 L310.9,82.7 L311.9,82.7 L312.9,82.7 L313.9,82.7 L314.9,82.7 L315.9,82.7 L316.9,82.7 L317.9,82.7 L318.9,82.7 L319.9,82.6 L320.9,82.6 L321.9,82.6 L322.9,82.6 L323.9,82.6 L324.9,82.6 L325.9,82.6 L326.9,82.6 L327.9,82.6 L328.9,82.6 L329.9,82.6 L330.9,82.6 L331.9,82.6 L332.9,82.6 L333.9,82.6 L334.9,82.6 L335.9,82.6 L336.9,82.6 L337.9,82.6 L338.9,82.5 L339.9,82.5 L340.9,82.5 L341.9,82.5 L342.9,82.5 L343.9,82.5 L344.9,82.5 L345.9,82.5 L346.9,82.5 L347.9,82.5 L348.9,82.4 L349.9,82.4 L350.9,82.4 L351.9,82.4 L352.9,82.4 L354.0,82.4 L355.0,82.4 L356.0,82.3 L357.0,82.3 L358.0,82.3 L359.0,82.3 L360.0,82.2 L361.0,82.2 L362.0,82.2 L363.0,82.2 L364.0,82.1 L365.0,82.1 L366.0,82.1 L367.0,82.0 L368.0,82.0 L369.0,81.9 L370.0,81.9 L371.0,81.8 L372.0,81.8 L373.0,81.7 L374.0,81.6 L375.0,81.5 L376.0,81.4 L377.0,81.3 L378.0,81.2 L379.0,81.0 L380.0,80.9 L381.0,80.6 L382.0,80.3 L383.0,80.0 L384.0,79.5 L385.0,79.0 L386.0,78.3 L387.0,77.5 L388.0,76.5 L389.0,75.4 L390.0,74.1 L391.0,72.5 L392.0,70.8 L393.0,69.0 L394.0,67.0 L395.0,65.0 L396.0,62.9 L397.0,61.0 L398.0,59.2 L399.0,57.6 L400.0,56.4 L401.0,55.6 L402.0,55.4 L403.0,55.6 L404.0,56.2 L405.0,57.2 L406.0,58.5 L407.0,60.1 L408.0,61.9 L409.0,63.7 L410.0,65.6 L411.0,67.5 L412.0,69.3 L413.0,71.0 L414.0,72.6 L415.0,74.0 L416.0,75.3 L417.0,76.4 L418.0,77.3 L419.0,78.1 L420.1,78.7 L421.1,79.3 L422.1,79.8 L423.1,80.1 L424.1,80.4 L425.1,80.7 L426.1,80.9 L427.1,81.1 L428.1,81.2 L429.1,81.3 L430.1,81.4 L431.1,81.5 L432.1,81.6 L433.1,81.7 L434.1,81.7 L435.1,81.8 L436.1,81.9 L437.1,81.9 L438.1,82.0 L439.1,82.0 L440.1,82.0 L441.1,82.1 L442.1,82.1 L443.1,82.1 L444.1,82.2 L445.1,82.2 L446.1,82.2 L447.1,82.2 L448.1,82.3 L449.1,82.3 L450.1,82.3 L451.1,82.3 L452.1,82.3 L452.1,82.8 Z" fill="#b34fe6"/>
<path d="M253.8,82.8 L253.8,82.8 L254.8,82.8 L255.8,82.8 L256.8,82.8 L257.8,82.8 L258.8,82.8 L259.8,82.8 L260.8,82.8 L261.8,82.8 L262.8,82.8 L263.8,82.8 L264.8,82.8 L265.8,82.8 L266.8,82.8 L267.8,82.8 L268.8,82.8 L269.8,82.8 L270.8,82.8 L271.8,82.8 L272.8,82.8 L273.8,82.8 L274.8,82.8 L275.8,82.8 L276.8,82.8 L277.8,82.8 L278.8,82.8 L279.8,82.8 L280.8,82.8 L281.8,82.8 L282.8,82.8 L283.8,82.8 L284.8,82.8 L285.8,82.8 L286.9,82.8 L287.9,82.8 L288.9,82.8 L289.9,82.8 L290.9,82.8 L291.9,82.8 L292.9,82.8 L293.9,82.8 L294.9,82.8 L295.9,82.8 L296.9,82.8 L297.9,82.8 L298.9,82.8 L299.9,82.7 L300.9,82.7 L301.9,82.7 L302.9,82.7 L303.9,82.7 L304.9,82.7 L305.9,82.7 L306.9,82.7 L307.9,82.7 L308.9,82.7 L309.9,82.7 L310.9,82.7 L311.9,82.7 L312.9,82.7 L313.9,82.7 L314.9,82.7 L315.9,82.7 L316.9,82.7 L317.9,82.7 L318.9,82.7 L319.9,82.7 L320.9,82.7 L321.9,82.7 L322.9,82.7 L323.9,82.7 L324.9,82.7 L325.9,82.7 L326.9,82.7 L327.9,82.7 L328.9,82.7 L329.9,82.7 L330.9,82.7 L331.9,82.7 L332.9,82.7 L333.9,82.7 L334.9,82.7 L335.9,82.6 L336.9,82.6 L337.9,82.6 L338.9,82.6 L339.9,82.6 L340.9,82.6 L341.9,82.6 L342.9,82.6 L343.9,82.6 L344.9,82.6 L345.9,82.6 L346.9,82.6 L347.9,82.5 L348.9,82.5 L349.9,82.5 L350.9,82.5 L351.9,82.5 L352.9,82.5 L354.0,82.4 L355.0,82.4 L356.0,82.4 L357.0,82.4 L358.0,82.3 L359.0,82.3 L360.0,82.3 L361.0,82.2 L362.0,82.2 L363.0,82.1 L364.0,82.1 L365.0,82.0 L366.0,81.9 L367.0,81.8 L368.0,81.7 L369.0,81.5 L370.0,81.3 L371.0,81.0 L372.0,80.7 L373.0,80.4 L374.0,79.9 L375.0,79.4 L376.0,78.8 L377.0,78.1 L378.0,77.4 L379.0,76.6 L380.0,75.9 L381.0,75.1 L382.0,74.5 L383.0,74.0 L384.0,73.7 L385.0,73.6 L386.0,73.8 L387.0,74.3 L388.0,75.0 L389.0,75.9 L390.0,76.8 L391.0,77.8 L392.0,78.6 L393.0,79.4 L394.0,80.0 L395.0,80.5 L396.0,81.0 L397.0,81.3 L398.0,81.5 L399.0,81.7 L400.0,81.9 L401.0,82.0 L402.0,82.1 L403.0,82.1 L404.0,82.2 L405.0,82.3 L406.0,82.3 L407.0,82.3 L408.0,82.4 L409.0,82.4 L410.0,82.4 L411.0,82.5 L412.0,82.5 L413.0,82.5 L414.0,82.5 L415.0,82.5 L416.0,82.6 L417.0,82.6 L418.0,82.6 L419.0,82.6 L420.1,82.6 L421.1,82.6 L422.1,82.6 L423.1,82.6 L424.1,82.6 L425.1,82.7 L426.1,82.7 L427.1,82.7 L428.1,82.7 L429.1,82.7 L430.1,82.7 L431.1,82.7 L432.1,82.7 L433.1,82.7 L434.1,82.7 L435.1,82.7 L436.1,82.7 L437.1,82.7 L438.1,82.7 L439.1,82.7 L440.1,82.7 L441.1,82.7 L442.1,82.7 L443.1,82.7 L444.1,82.7 L445.1,82.7 L446.1,82.7 L447.1,82.7 L448.1,82.7 L449.1,82.7 L450.1,82.7 L451.1,82.7 L452.1,82.7 L452.1,82.8 Z" fill="url(#pg)" stroke="#22cc22" stroke-width="1.0"/>
<path d="M253.8,82.8 L253.8,82.8 L254.8,82.8 L255.8,82.8 L256.8,82.8 L257.8,82.8 L258.8,82.8 L259.8,82.8 L260.8,82.8 L261.8,82.8 L262.8,82.8 L263.8,82.8 L264.8,82.8 L265.8,82.8 L266.8,82.8 L267.8,82.8 L268.8,82.8 L269.8,82.8 L270.8,82.8 L271.8,82.8 L272.8,82.8 L273.8,82.8 L274.8,82.8 L275.8,82.8 L276.8,82.8 L277.8,82.8 L278.8,82.8 L279.8,82.8 L280.8,82.8 L281.8,82.8 L282.8,82.8 L283.8,82.8 L284.8,82.8 L285.8,82.8 L286.9,82.8 L287.9,82.8 L288.9,82.8 L289.9,82.8 L290.9,82.8 L291.9,82.8 L292.9,82.8 L293.9,82.8 L294.9,82.8 L295.9,82.8 L296.9,82.8 L297.9,82.8 L298.9,82.8 L299.9,82.7 L300.9,82.7 L301.9,82.7 L302.9,82.7 L303.9,82.7 L304.9,82.7 L305.9,82.7 L306.9,82.7 L307.9,82.7 L308.9,82.7 L309.9,82.7 L310.9,82.7 L311.9,82.7 L312.9,82.7 L313.9,82.7 L314.9,82.7 L315.9,82.7 L316.9,82.7 L317.9,82.7 L318.9,82.7 L319.9,82.7 L320.9,82.7 L321.9,82.7 L322.9,82.7 L323.9,82.7 L324.9,82.7 L325.9,82.7 L326.9,82.7 L327.9,82.7 L328.9,82.7 L329.9,82.7 L330.9,82.7 L331.9,82.7 L332.9,82.7 L333.9,82.7 L334.9,82.7 L335.9,82.6 L336.9,82.6 L337.9,82.6 L338.9,82.6 L339.9,82.6 L340.9,82.6 L341.9,82.6 L342.9,82.6 L343.9,82.6 L344.9,82.6 L345.9,82.6 L346.9,82.6 L347.9,82.5 L348.9,82.5 L349.9,82.5 L350.9,82.5 L351.9,82.5 L352.9,82.5 L354.0,82.4 L355.0,82.4 L356.0,82.4 L357.0,82.4 L358.0,82.3 L359.0,82.3 L360.0,82.3 L361.0,82.2 L362.0,82.2 L363.0,82.2 L364.0,82.1 L365.0,82.1 L366.0,82.1 L367.0,82.0 L368.0,82.0 L369.0,81.9 L370.0,81.9 L371.0,81.8 L372.0,81.8 L373.0,81.7 L374.0,81.6 L375.0,81.5 L376.0,81.4 L377.0,81.3 L378.0,81.2 L379.0,81.0 L380.0,80.9 L381.0,80.6 L382.0,80.3 L383.0,80.0 L384.0,79.5 L385.0,79.0 L386.0,78.3 L387.0,77.5 L388.0,76.5 L389.0,75.4 L390.0,75.0 L391.0,75.5 L392.0,76.1 L393.0,76.7 L394.0,77.2 L395.0,77.8 L396.0,78.3 L397.0,78.8 L398.0,79.3 L399.0,79.7 L400.0,80.0 L401.0,80.4 L402.0,80.7 L403.0,80.9 L404.0,81.1 L405.0,81.3 L406.0,81.5 L407.0,81.6 L408.0,81.7 L409.0,81.8 L410.0,81.9 L411.0,81.9 L412.0,82.0 L413.0,82.1 L414.0,82.1 L415.0,82.2 L416.0,82.2 L417.0,82.2 L418.0,82.3 L419.0,82.3 L420.1,82.3 L421.1,82.3 L422.1,82.4 L423.1,82.4 L424.1,82.4 L425.1,82.4 L426.1,82.4 L427.1,82.5 L428.1,82.5 L429.1,82.5 L430.1,82.5 L431.1,82.5 L432.1,82.5 L433.1,82.5 L434.1,82.5 L435.1,82.5 L436.1,82.6 L437.1,82.6 L438.1,82.6 L439.1,82.6 L440.1,82.6 L441.1,82.6 L442.1,82.6 L443.1,82.6 L444.1,82.6 L445.1,82.6 L446.1,82.6 L447.1,82.6 L448.1,82.6 L449.1,82.6 L450.1,82.6 L451.1,82.7 L452.1,82.7 L452.1,82.8 Z" fill="url(#pk)" stroke="#30b030" stroke-width="0.8"/>
<path d="M253.8,82.8 L253.8,82.8 L254.8,82.8 L255.8,82.8 L256.8,82.8 L257.8,82.8 L258.8,82.7 L259.8,82.7 L260.8,82.7 L261.8,82.7 L262.8,82.7 L263.8,82.7 L264.8,82.7 L265.8,82.7 L266.8,82.7 L267.8,82.7 L268.8,82.7 L269.8,82.7 L270.8,82.7 L271.8,82.6 L272.8,82.6 L273.8,82.6 L274.8,82.6 L275.8,82.6 L276.8,82.6 L277.8,82.6 L278.8,82.5 L279.8,82.5 L280.8,82.5 L281.8,82.5 L282.8,82.5 L283.8,82.4 L284.8,82.4 L285.8,82.4 L286.9,82.4 L287.9,82.4 L288.9,82.3 L289.9,82.3 L290.9,82.3 L291.9,82.3 L292.9,82.2 L293.9,82.2 L294.9,82.2 L295.9,82.2 L296.9,82.1 L297.9,82.1 L298.9,82.1 L299.9,82.1 L300.9,82.1 L301.9,82.0 L302.9,82.0 L303.9,82.0 L304.9,82.0 L305.9,81.9 L306.9,81.9 L307.9,81.9 L308.9,81.9 L309.9,81.9 L310.9,81.9 L311.9,81.8 L312.9,81.8 L313.9,81.8 L314.9,81.8 L315.9,81.8 L316.9,81.8 L317.9,81.8 L318.9,81.8 L319.9,81.8 L320.9,81.8 L321.9,81.8 L322.9,81.8 L323.9,81.8 L324.9,81.7 L325.9,81.7 L326.9,81.7 L327.9,81.7 L328.9,81.7 L329.9,81.7 L330.9,81.7 L331.9,81.7 L332.9,81.6 L333.9,81.6 L334.9,81.6 L335.9,81.5 L336.9,81.5 L337.9,81.5 L338.9,81.4 L339.9,81.4 L340.9,81.3 L341.9,81.2 L342.9,81.2 L343.9,81.1 L344.9,81.0 L345.9,80.9 L346.9,80.8 L347.9,80.8 L348.9,80.7 L349.9,80.6 L350.9,80.5 L351.9,80.4 L352.9,80.4 L354.0,80.3 L355.0,80.2 L356.0,80.2 L357.0,80.1 L358.0,80.1 L359.0,80.1 L360.0,80.0 L361.0,80.0 L362.0,80.1 L363.0,80.1 L364.0,80.1 L365.0,80.2 L366.0,80.2 L367.0,80.3 L368.0,80.4 L369.0,80.4 L370.0,80.5 L371.0,80.6 L372.0,80.7 L373.0,80.9 L374.0,81.0 L375.0,81.1 L376.0,81.2 L377.0,81.3 L378.0,81.4 L379.0,81.5 L380.0,81.6 L381.0,81.8 L382.0,81.9 L383.0,81.9 L384.0,82.0 L385.0,82.1 L386.0,82.2 L387.0,82.3 L388.0,82.3 L389.0,82.4 L390.0,82.4 L391.0,82.5 L392.0,82.5 L393.0,82.6 L394.0,82.6 L395.0,82.6 L396.0,82.7 L397.0,82.7 L398.0,82.7 L399.0,82.7 L400.0,82.7 L401.0,82.7 L402.0,82.8 L403.0,82.8 L404.0,82.8 L405.0,82.8 L406.0,82.8 L407.0,82.8 L408.0,82.8 L409.0,82.8 L410.0,82.8 L411.0,82.8 L412.0,82.8 L413.0,82.8 L414.0,82.8 L415.0,82.8 L416.0,82.8 L417.0,82.8 L418.0,82.8 L419.0,82.8 L420.1,82.8 L421.1,82.8 L422.1,82.8 L423.1,82.8 L424.1,82.8 L425.1,82.8 L426.1,82.8 L427.1,82.8 L428.1,82.8 L429.1,82.8 L430.1,82.8 L431.1,82.8 L432.1,82.8 L433.1,82.8 L434.1,82.8 L435.1,82.8 L436.1,82.8 L437.1,82.8 L438.1,82.8 L439.1,82.8 L440.1,82.8 L441.1,82.8 L442.1,82.8 L443.1,82.8 L444.1,82.8 L445.1,82.8 L446.1,82.8 L447.1,82.8 L448.1,82.8 L449.1,82.8 L450.1,82.8 L451.1,82.8 L452.1,82.8 L452.1,82.8 Z" fill="url(#pb)"/>
<path d="M335.9,80.9 L336.9,80.8 L337.9,80.7 L338.9,80.7 L339.9,80.6 L340.9,80.5 L341.9,80.5 L342.9,80.4 L343.9,80.3 L344.9,80.2 L345.9,80.1 L346.9,80.0 L347.9,79.9 L348.9,79.7 L349.9,79.6 L350.9,79.5 L351.9,79.4 L352.9,79.3 L354.0,79.2 L355.0,79.1 L356.0,79.0 L357.0,78.9 L358.0,78.8 L359.0,78.7 L360.0,78.7 L361.0,78.6 L362.0,78.5 L363.0,78.5 L364.0,78.4 L365.0,78.3 L366.0,78.3 L367.0,78.2 L368.0,78.1 L369.0,78.0 L370.0,77.8 L371.0,77.6 L372.0,77.3 L373.0,77.0 L374.0,76.6 L375.0,76.1 L376.0,75.5 L377.0,74.9 L378.0,74.1 L379.0,73.3 L380.0,72.5 L381.0,71.6 L382.0,70.8 L383.0,70.0 L384.0,69.3 L385.0,68.8 L386.0,68.4 L387.0,68.1 L388.0,68.0 L389.0,67.8 L390.0,67.4 L391.0,66.9 L392.0,66.1 L393.0,65.0 L394.0,63.7 L395.0,62.2 L396.0,60.6 L397.0,59.0 L398.0,57.5 L399.0,56.1 L400.0,55.1 L401.0,54.5 L402.0,54.3 L403.0,54.6 L404.0,55.3 L405.0,56.3 L406.0,57.7 L407.0,59.3 L408.0,61.1 L409.0,63.0 L410.0,65.0 L411.0,66.9 L412.0,68.7 L413.0,70.4 L414.0,72.0 L415.0,73.5 L416.0,74.7 L417.0,75.8 L418.0,76.8 L419.0,77.6 L420.1,78.3 L421.1,78.8 L422.1,79.3 L423.1,79.7 L424.1,80.0 L425.1,80.2 L426.1,80.5 L427.1,80.6 L428.1,80.8" fill="none" stroke="#f0309c" stroke-width="2.1" stroke-linecap="round" stroke-dasharray="0.1,3.7"/>
<path d="M253.8,81.7 L254.8,81.7 L255.8,81.7 L256.8,81.7 L257.8,81.7 L258.8,81.7 L259.8,81.7 L260.8,81.7 L261.8,81.7 L262.8,81.7 L263.8,81.7 L264.8,81.7 L265.8,81.7 L266.8,81.7 L267.8,81.7 L268.8,81.7 L269.8,81.7 L270.8,81.7 L271.8,81.7 L272.8,81.7 L273.8,81.7 L274.8,81.7 L275.8,81.7 L276.8,81.7 L277.8,81.7 L278.8,81.7 L279.8,81.7 L280.8,81.7 L281.8,81.7 L282.8,81.7 L283.8,81.7 L284.8,81.7 L285.8,81.7 L286.9,81.7 L287.9,81.7 L288.9,81.7 L289.9,81.7 L290.9,81.7 L291.9,81.7 L292.9,81.7 L293.9,81.7 L294.9,81.7 L295.9,81.7 L296.9,81.7 L297.9,81.7 L298.9,81.7 L299.9,81.7 L300.9,81.7 L301.9,81.7 L302.9,81.7 L303.9,81.7 L304.9,81.7 L305.9,81.7 L306.9,81.7 L307.9,81.7 L308.9,81.7 L309.9,81.7 L310.9,81.7 L311.9,81.7 L312.9,81.7 L313.9,81.7 L314.9,81.7 L315.9,81.7 L316.9,81.7 L317.9,81.7 L318.9,81.7 L319.9,81.7 L320.9,81.7 L321.9,81.7 L322.9,81.7 L323.9,81.7 L324.9,81.7 L325.9,81.7 L326.9,81.7 L327.9,81.7 L328.9,81.7 L329.9,81.6 L330.9,81.6 L331.9,81.5 L332.9,81.4 L333.9,81.3 L334.9,81.2 L335.9,81.1 L336.9,81.0 L337.9,80.9 L338.9,80.8 L339.9,80.7 L340.9,80.6 L341.9,80.5 L342.9,80.4 L343.9,80.3 L344.9,80.2 L345.9,80.1 L346.9,80.0 L347.9,79.9 L348.9,79.8 L349.9,79.6 L350.9,79.5 L351.9,79.4 L352.9,79.3 L354.0,79.1 L355.0,79.0 L356.0,78.9 L357.0,78.7 L358.0,78.6 L359.0,78.4 L360.0,78.2 L361.0,78.1 L362.0,77.9 L363.0,77.7 L364.0,77.5 L365.0,77.2 L366.0,77.0 L367.0,76.7 L368.0,76.5 L369.0,76.2 L370.0,75.9 L371.0,75.5 L372.0,75.2 L373.0,74.8 L374.0,74.5 L375.0,74.1 L376.0,73.7 L377.0,73.3 L378.0,72.8 L379.0,72.4 L380.0,72.0 L381.0,71.5 L382.0,71.0 L383.0,70.5 L384.0,70.0 L385.0,69.4 L386.0,68.8 L387.0,68.2 L388.0,67.5 L389.0,66.7 L390.0,65.8 L391.0,64.8 L392.0,63.8 L393.0,62.8 L394.0,61.6 L395.0,60.5 L396.0,59.4 L397.0,58.4 L398.0,57.5 L399.0,56.7 L400.0,56.1 L401.0,55.8 L402.0,55.7 L403.0,56.0 L404.0,56.5 L405.0,57.2 L406.0,58.1 L407.0,59.0 L408.0,60.2 L409.0,61.4 L410.0,62.7 L411.0,64.1 L412.0,65.5 L413.0,66.9 L414.0,68.4 L415.0,69.8 L416.0,71.1 L417.0,72.4 L418.0,73.6 L419.0,74.8 L420.1,75.8 L421.1,76.8 L422.1,77.6 L423.1,78.4 L424.1,79.1 L425.1,79.7 L426.1,80.2 L427.1,80.7 L428.1,81.0 L429.1,81.4 L430.1,81.6 L431.1,81.7 L432.1,81.7 L433.1,81.7 L434.1,81.7 L435.1,81.7 L436.1,81.7 L437.1,81.7 L438.1,81.7 L439.1,81.7 L440.1,81.7 L441.1,81.7 L442.1,81.7 L443.1,81.7 L444.1,81.7 L445.1,81.7 L446.1,81.7 L447.1,81.7 L448.1,81.7 L449.1,81.7 L450.1,81.7 L451.1,81.7 L452.1,81.7" fill="none" stroke="#1a1a1a" stroke-width="1.3"/>
<line x1="253.0" y1="82.5" x2="452.9" y2="82.5" stroke="#1f2ee0" stroke-width="2.2"/>
<path d="M253.8,120.4 L253.8,119.3 L254.8,119.3 L255.8,119.3 L256.8,119.3 L257.8,119.3 L258.8,119.3 L259.8,119.3 L260.8,119.3 L261.8,119.3 L262.8,119.3 L263.8,119.3 L264.8,119.3 L265.8,119.3 L266.8,119.3 L267.8,119.3 L268.8,119.3 L269.8,119.3 L270.8,119.3 L271.8,119.3 L272.8,119.3 L273.8,119.3 L274.8,119.3 L275.8,119.3 L276.8,119.3 L277.8,119.3 L278.8,119.3 L279.8,119.3 L280.8,119.3 L281.8,119.3 L282.8,119.3 L283.8,119.3 L284.8,119.3 L285.8,119.3 L286.9,119.3 L287.9,119.3 L288.9,119.3 L289.9,119.3 L290.9,119.3 L291.9,119.3 L292.9,119.3 L293.9,119.3 L294.9,119.3 L295.9,119.3 L296.9,119.3 L297.9,119.3 L298.9,119.2 L299.9,119.2 L300.9,119.1 L301.9,119.0 L302.9,119.0 L303.9,118.9 L304.9,118.9 L305.9,118.8 L306.9,118.7 L307.9,118.7 L308.9,118.6 L309.9,118.6 L310.9,118.5 L311.9,118.4 L312.9,118.4 L313.9,118.3 L314.9,118.2 L315.9,118.2 L316.9,118.1 L317.9,118.1 L318.9,118.0 L319.9,117.9 L320.9,117.9 L321.9,117.8 L322.9,117.7 L323.9,117.7 L324.9,117.6 L325.9,117.6 L326.9,117.5 L327.9,117.5 L328.9,117.4 L329.9,117.3 L330.9,117.3 L331.9,117.2 L332.9,117.2 L333.9,117.1 L334.9,117.0 L335.9,117.0 L336.9,116.9 L337.9,116.8 L338.9,116.8 L339.9,116.7 L340.9,116.6 L341.9,116.5 L342.9,116.4 L343.9,116.3 L344.9,116.2 L345.9,116.1 L346.9,115.9 L347.9,115.8 L348.9,115.6 L349.9,115.5 L350.9,115.3 L351.9,115.1 L352.9,114.9 L354.0,114.7 L355.0,114.4 L356.0,114.2 L357.0,113.9 L358.0,113.6 L359.0,113.3 L360.0,113.0 L361.0,112.7 L362.0,112.4 L363.0,112.1 L364.0,111.8 L365.0,111.4 L366.0,111.1 L367.0,110.7 L368.0,110.4 L369.0,110.0 L370.0,109.7 L371.0,109.4 L372.0,109.0 L373.0,108.7 L374.0,108.3 L375.0,108.0 L376.0,107.6 L377.0,107.3 L378.0,106.9 L379.0,106.5 L380.0,106.1 L381.0,105.6 L382.0,105.1 L383.0,104.6 L384.0,104.0 L385.0,103.4 L386.0,102.7 L387.0,102.0 L388.0,101.3 L389.0,100.5 L390.0,99.7 L391.0,98.8 L392.0,98.0 L393.0,97.1 L394.0,96.3 L395.0,95.5 L396.0,94.8 L397.0,94.1 L398.0,93.6 L399.0,93.2 L400.0,92.9 L401.0,92.7 L402.0,92.8 L403.0,92.9 L404.0,93.3 L405.0,93.9 L406.0,94.7 L407.0,95.6 L408.0,96.8 L409.0,98.1 L410.0,99.5 L411.0,100.9 L412.0,102.5 L413.0,104.1 L414.0,105.7 L415.0,107.2 L416.0,108.7 L417.0,110.1 L418.0,111.4 L419.0,112.7 L420.1,113.8 L421.1,114.8 L422.1,115.7 L423.1,116.5 L424.1,117.2 L425.1,117.7 L426.1,118.2 L427.1,118.7 L428.1,119.0 L429.1,119.3 L430.1,119.3 L431.1,119.3 L432.1,119.3 L433.1,119.3 L434.1,119.3 L435.1,119.3 L436.1,119.3 L437.1,119.3 L438.1,119.3 L439.1,119.3 L440.1,119.3 L441.1,119.3 L442.1,119.3 L443.1,119.3 L444.1,119.3 L445.1,119.3 L446.1,119.3 L447.1,119.3 L448.1,119.3 L449.1,119.3 L450.1,119.3 L451.1,119.3 L452.1,119.3 L452.1,120.4 Z" fill="#fcfae8"/>
<path d="M253.8,120.4 L253.8,120.4 L254.8,120.4 L255.8,120.4 L256.8,120.4 L257.8,120.4 L258.8,120.4 L259.8,120.4 L260.8,120.4 L261.8,120.4 L262.8,120.4 L263.8,120.4 L264.8,120.4 L265.8,120.4 L266.8,120.4 L267.8,120.4 L268.8,120.4 L269.8,120.4 L270.8,120.4 L271.8,120.4 L272.8,120.4 L273.8,120.4 L274.8,120.4 L275.8,120.4 L276.8,120.4 L277.8,120.4 L278.8,120.4 L279.8,120.4 L280.8,120.4 L281.8,120.4 L282.8,120.4 L283.8,120.4 L284.8,120.3 L285.8,120.3 L286.9,120.3 L287.9,120.3 L288.9,120.3 L289.9,120.3 L290.9,120.3 L291.9,120.3 L292.9,120.3 L293.9,120.3 L294.9,120.3 L295.9,120.3 L296.9,120.3 L297.9,120.3 L298.9,120.3 L299.9,120.3 L300.9,120.3 L301.9,120.3 L302.9,120.3 L303.9,120.3 L304.9,120.3 L305.9,120.3 L306.9,120.3 L307.9,120.3 L308.9,120.3 L309.9,120.3 L310.9,120.3 L311.9,120.3 L312.9,120.3 L313.9,120.3 L314.9,120.3 L315.9,120.3 L316.9,120.3 L317.9,120.3 L318.9,120.3 L319.9,120.3 L320.9,120.3 L321.9,120.3 L322.9,120.3 L323.9,120.3 L324.9,120.3 L325.9,120.3 L326.9,120.3 L327.9,120.3 L328.9,120.3 L329.9,120.3 L330.9,120.3 L331.9,120.3 L332.9,120.3 L333.9,120.3 L334.9,120.2 L335.9,120.2 L336.9,120.2 L337.9,120.2 L338.9,120.2 L339.9,120.2 L340.9,120.2 L341.9,120.2 L342.9,120.2 L343.9,120.2 L344.9,120.2 L345.9,120.2 L346.9,120.2 L347.9,120.2 L348.9,120.2 L349.9,120.2 L350.9,120.1 L351.9,120.1 L352.9,120.1 L354.0,120.1 L355.0,120.1 L356.0,120.1 L357.0,120.1 L358.0,120.1 L359.0,120.0 L360.0,120.0 L361.0,120.0 L362.0,120.0 L363.0,120.0 L364.0,119.9 L365.0,119.9 L366.0,119.9 L367.0,119.9 L368.0,119.8 L369.0,119.8 L370.0,119.8 L371.0,119.7 L372.0,119.7 L373.0,119.7 L374.0,119.6 L375.0,119.6 L376.0,119.5 L377.0,119.4 L378.0,119.4 L379.0,119.3 L380.0,119.2 L381.0,119.1 L382.0,118.9 L383.0,118.7 L384.0,118.5 L385.0,118.2 L386.0,117.9 L387.0,117.4 L388.0,116.8 L389.0,116.1 L390.0,115.1 L391.0,114.0 L392.0,112.6 L393.0,110.9 L394.0,109.0 L395.0,106.9 L396.0,104.6 L397.0,102.2 L398.0,99.9 L399.0,97.9 L400.0,96.1 L401.0,94.8 L402.0,94.2 L403.0,94.1 L404.0,94.6 L405.0,95.4 L406.0,96.6 L407.0,98.0 L408.0,99.7 L409.0,101.5 L410.0,103.4 L411.0,105.2 L412.0,107.0 L413.0,108.7 L414.0,110.2 L415.0,111.6 L416.0,112.9 L417.0,114.0 L418.0,114.9 L419.0,115.7 L420.1,116.4 L421.1,117.0 L422.1,117.4 L423.1,117.8 L424.1,118.1 L425.1,118.3 L426.1,118.6 L427.1,118.7 L428.1,118.9 L429.1,119.0 L430.1,119.1 L431.1,119.2 L432.1,119.3 L433.1,119.3 L434.1,119.4 L435.1,119.4 L436.1,119.5 L437.1,119.5 L438.1,119.6 L439.1,119.6 L440.1,119.7 L441.1,119.7 L442.1,119.7 L443.1,119.8 L444.1,119.8 L445.1,119.8 L446.1,119.8 L447.1,119.9 L448.1,119.9 L449.1,119.9 L450.1,119.9 L451.1,119.9 L452.1,120.0 L452.1,120.4 Z" fill="#b34fe6"/>
<path d="M253.8,120.4 L253.8,120.4 L254.8,120.4 L255.8,120.3 L256.8,120.3 L257.8,120.3 L258.8,120.3 L259.8,120.3 L260.8,120.3 L261.8,120.3 L262.8,120.3 L263.8,120.3 L264.8,120.3 L265.8,120.3 L266.8,120.3 L267.8,120.3 L268.8,120.3 L269.8,120.3 L270.8,120.3 L271.8,120.3 L272.8,120.3 L273.8,120.3 L274.8,120.3 L275.8,120.3 L276.8,120.3 L277.8,120.3 L278.8,120.3 L279.8,120.3 L280.8,120.3 L281.8,120.3 L282.8,120.3 L283.8,120.3 L284.8,120.3 L285.8,120.3 L286.9,120.3 L287.9,120.3 L288.9,120.3 L289.9,120.3 L290.9,120.3 L291.9,120.3 L292.9,120.3 L293.9,120.3 L294.9,120.3 L295.9,120.3 L296.9,120.3 L297.9,120.3 L298.9,120.3 L299.9,120.3 L300.9,120.3 L301.9,120.3 L302.9,120.3 L303.9,120.3 L304.9,120.3 L305.9,120.3 L306.9,120.3 L307.9,120.3 L308.9,120.3 L309.9,120.3 L310.9,120.3 L311.9,120.3 L312.9,120.2 L313.9,120.2 L314.9,120.2 L315.9,120.2 L316.9,120.2 L317.9,120.2 L318.9,120.2 L319.9,120.2 L320.9,120.2 L321.9,120.2 L322.9,120.2 L323.9,120.2 L324.9,120.2 L325.9,120.2 L326.9,120.2 L327.9,120.2 L328.9,120.2 L329.9,120.1 L330.9,120.1 L331.9,120.1 L332.9,120.1 L333.9,120.1 L334.9,120.1 L335.9,120.1 L336.9,120.1 L337.9,120.1 L338.9,120.1 L339.9,120.0 L340.9,120.0 L341.9,120.0 L342.9,120.0 L343.9,120.0 L344.9,120.0 L345.9,119.9 L346.9,119.9 L347.9,119.9 L348.9,119.9 L349.9,119.8 L350.9,119.8 L351.9,119.8 L352.9,119.8 L354.0,119.7 L355.0,119.7 L356.0,119.6 L357.0,119.6 L358.0,119.5 L359.0,119.4 L360.0,119.3 L361.0,119.2 L362.0,119.1 L363.0,119.0 L364.0,118.8 L365.0,118.6 L366.0,118.4 L367.0,118.1 L368.0,117.8 L369.0,117.4 L370.0,117.0 L371.0,116.5 L372.0,116.0 L373.0,115.4 L374.0,114.8 L375.0,114.1 L376.0,113.4 L377.0,112.6 L378.0,111.8 L379.0,111.0 L380.0,110.3 L381.0,109.5 L382.0,108.8 L383.0,108.1 L384.0,107.6 L385.0,107.1 L386.0,106.8 L387.0,106.6 L388.0,106.6 L389.0,106.9 L390.0,107.4 L391.0,108.2 L392.0,109.2 L393.0,110.3 L394.0,111.5 L395.0,112.6 L396.0,113.7 L397.0,114.7 L398.0,115.7 L399.0,116.4 L400.0,117.1 L401.0,117.7 L402.0,118.2 L403.0,118.5 L404.0,118.8 L405.0,119.1 L406.0,119.2 L407.0,119.4 L408.0,119.5 L409.0,119.6 L410.0,119.7 L411.0,119.7 L412.0,119.8 L413.0,119.8 L414.0,119.9 L415.0,119.9 L416.0,119.9 L417.0,120.0 L418.0,120.0 L419.0,120.0 L420.1,120.0 L421.1,120.1 L422.1,120.1 L423.1,120.1 L424.1,120.1 L425.1,120.1 L426.1,120.1 L427.1,120.1 L428.1,120.2 L429.1,120.2 L430.1,120.2 L431.1,120.2 L432.1,120.2 L433.1,120.2 L434.1,120.2 L435.1,120.2 L436.1,120.2 L437.1,120.2 L438.1,120.2 L439.1,120.2 L440.1,120.3 L441.1,120.3 L442.1,120.3 L443.1,120.3 L444.1,120.3 L445.1,120.3 L446.1,120.3 L447.1,120.3 L448.1,120.3 L449.1,120.3 L450.1,120.3 L451.1,120.3 L452.1,120.3 L452.1,120.4 Z" fill="url(#pg)" stroke="#22cc22" stroke-width="1.0"/>
<path d="M253.8,120.4 L253.8,120.4 L254.8,120.4 L255.8,120.4 L256.8,120.4 L257.8,120.4 L258.8,120.4 L259.8,120.4 L260.8,120.4 L261.8,120.4 L262.8,120.4 L263.8,120.4 L264.8,120.4 L265.8,120.4 L266.8,120.4 L267.8,120.4 L268.8,120.4 L269.8,120.4 L270.8,120.4 L271.8,120.4 L272.8,120.4 L273.8,120.4 L274.8,120.4 L275.8,120.4 L276.8,120.4 L277.8,120.4 L278.8,120.4 L279.8,120.4 L280.8,120.4 L281.8,120.4 L282.8,120.4 L283.8,120.4 L284.8,120.3 L285.8,120.3 L286.9,120.3 L287.9,120.3 L288.9,120.3 L289.9,120.3 L290.9,120.3 L291.9,120.3 L292.9,120.3 L293.9,120.3 L294.9,120.3 L295.9,120.3 L296.9,120.3 L297.9,120.3 L298.9,120.3 L299.9,120.3 L300.9,120.3 L301.9,120.3 L302.9,120.3 L303.9,120.3 L304.9,120.3 L305.9,120.3 L306.9,120.3 L307.9,120.3 L308.9,120.3 L309.9,120.3 L310.9,120.3 L311.9,120.3 L312.9,120.3 L313.9,120.3 L314.9,120.3 L315.9,120.3 L316.9,120.3 L317.9,120.3 L318.9,120.3 L319.9,120.3 L320.9,120.3 L321.9,120.3 L322.9,120.3 L323.9,120.3 L324.9,120.3 L325.9,120.3 L326.9,120.3 L327.9,120.3 L328.9,120.3 L329.9,120.3 L330.9,120.3 L331.9,120.3 L332.9,120.3 L333.9,120.3 L334.9,120.2 L335.9,120.2 L336.9,120.2 L337.9,120.2 L338.9,120.2 L339.9,120.2 L340.9,120.2 L341.9,120.2 L342.9,120.2 L343.9,120.2 L344.9,120.2 L345.9,120.2 L346.9,120.2 L347.9,120.2 L348.9,120.2 L349.9,120.2 L350.9,120.1 L351.9,120.1 L352.9,120.1 L354.0,120.1 L355.0,120.1 L356.0,120.1 L357.0,120.1 L358.0,120.1 L359.0,120.0 L360.0,120.0 L361.0,120.0 L362.0,120.0 L363.0,120.0 L364.0,119.9 L365.0,119.9 L366.0,119.9 L367.0,119.9 L368.0,119.8 L369.0,119.8 L370.0,119.8 L371.0,119.7 L372.0,119.7 L373.0,119.7 L374.0,119.6 L375.0,119.6 L376.0,119.5 L377.0,119.4 L378.0,119.4 L379.0,119.3 L380.0,119.2 L381.0,119.1 L382.0,118.9 L383.0,118.7 L384.0,118.5 L385.0,118.2 L386.0,117.9 L387.0,117.4 L388.0,116.8 L389.0,116.1 L390.0,115.1 L391.0,114.0 L392.0,112.6 L393.0,110.9 L394.0,109.1 L395.0,109.8 L396.0,110.6 L397.0,111.3 L398.0,112.1 L399.0,112.9 L400.0,113.6 L401.0,114.3 L402.0,115.0 L403.0,115.6 L404.0,116.1 L405.0,116.6 L406.0,117.1 L407.0,117.5 L408.0,117.8 L409.0,118.1 L410.0,118.4 L411.0,118.6 L412.0,118.8 L413.0,119.0 L414.0,119.1 L415.0,119.2 L416.0,119.3 L417.0,119.4 L418.0,119.5 L419.0,119.6 L420.1,119.6 L421.1,119.7 L422.1,119.7 L423.1,119.7 L424.1,119.8 L425.1,119.8 L426.1,119.8 L427.1,119.9 L428.1,119.9 L429.1,119.9 L430.1,119.9 L431.1,120.0 L432.1,120.0 L433.1,120.0 L434.1,120.0 L435.1,120.0 L436.1,120.0 L437.1,120.0 L438.1,120.1 L439.1,120.1 L440.1,120.1 L441.1,120.1 L442.1,120.1 L443.1,120.1 L444.1,120.1 L445.1,120.1 L446.1,120.1 L447.1,120.2 L448.1,120.2 L449.1,120.2 L450.1,120.2 L451.1,120.2 L452.1,120.2 L452.1,120.4 Z" fill="url(#pk)" stroke="#30b030" stroke-width="0.8"/>
<path d="M253.8,120.4 L253.8,120.3 L254.8,120.3 L255.8,120.3 L256.8,120.3 L257.8,120.3 L258.8,120.3 L259.8,120.3 L260.8,120.3 L261.8,120.3 L262.8,120.3 L263.8,120.2 L264.8,120.2 L265.8,120.2 L266.8,120.2 L267.8,120.2 L268.8,120.2 L269.8,120.1 L270.8,120.1 L271.8,120.1 L272.8,120.1 L273.8,120.0 L274.8,120.0 L275.8,120.0 L276.8,119.9 L277.8,119.9 L278.8,119.9 L279.8,119.8 L280.8,119.8 L281.8,119.8 L282.8,119.7 L283.8,119.7 L284.8,119.7 L285.8,119.6 L286.9,119.6 L287.9,119.5 L288.9,119.5 L289.9,119.4 L290.9,119.4 L291.9,119.3 L292.9,119.3 L293.9,119.2 L294.9,119.2 L295.9,119.1 L296.9,119.1 L297.9,119.0 L298.9,119.0 L299.9,119.0 L300.9,118.9 L301.9,118.9 L302.9,118.8 L303.9,118.8 L304.9,118.7 L305.9,118.7 L306.9,118.6 L307.9,118.6 L308.9,118.6 L309.9,118.5 L310.9,118.5 L311.9,118.4 L312.9,118.4 L313.9,118.4 L314.9,118.3 L315.9,118.3 L316.9,118.2 L317.9,118.2 L318.9,118.1 L319.9,118.1 L320.9,118.0 L321.9,118.0 L322.9,117.9 L323.9,117.8 L324.9,117.8 L325.9,117.7 L326.9,117.6 L327.9,117.5 L328.9,117.4 L329.9,117.3 L330.9,117.1 L331.9,117.0 L332.9,116.9 L333.9,116.7 L334.9,116.6 L335.9,116.4 L336.9,116.2 L337.9,116.1 L338.9,115.9 L339.9,115.7 L340.9,115.5 L341.9,115.4 L342.9,115.2 L343.9,115.1 L344.9,114.9 L345.9,114.8 L346.9,114.7 L347.9,114.6 L348.9,114.6 L349.9,114.5 L350.9,114.5 L351.9,114.5 L352.9,114.6 L354.0,114.6 L355.0,114.7 L356.0,114.8 L357.0,114.9 L358.0,115.1 L359.0,115.2 L360.0,115.4 L361.0,115.6 L362.0,115.8 L363.0,116.1 L364.0,116.3 L365.0,116.5 L366.0,116.8 L367.0,117.0 L368.0,117.3 L369.0,117.5 L370.0,117.7 L371.0,118.0 L372.0,118.2 L373.0,118.4 L374.0,118.6 L375.0,118.8 L376.0,118.9 L377.0,119.1 L378.0,119.2 L379.0,119.4 L380.0,119.5 L381.0,119.6 L382.0,119.7 L383.0,119.8 L384.0,119.9 L385.0,120.0 L386.0,120.0 L387.0,120.1 L388.0,120.1 L389.0,120.2 L390.0,120.2 L391.0,120.2 L392.0,120.3 L393.0,120.3 L394.0,120.3 L395.0,120.3 L396.0,120.3 L397.0,120.3 L398.0,120.4 L399.0,120.4 L400.0,120.4 L401.0,120.4 L402.0,120.4 L403.0,120.4 L404.0,120.4 L405.0,120.4 L406.0,120.4 L407.0,120.4 L408.0,120.4 L409.0,120.4 L410.0,120.4 L411.0,120.4 L412.0,120.4 L413.0,120.4 L414.0,120.4 L415.0,120.4 L416.0,120.4 L417.0,120.4 L418.0,120.4 L419.0,120.4 L420.1,120.4 L421.1,120.4 L422.1,120.4 L423.1,120.4 L424.1,120.4 L425.1,120.4 L426.1,120.4 L427.1,120.4 L428.1,120.4 L429.1,120.4 L430.1,120.4 L431.1,120.4 L432.1,120.4 L433.1,120.4 L434.1,120.4 L435.1,120.4 L436.1,120.4 L437.1,120.4 L438.1,120.4 L439.1,120.4 L440.1,120.4 L441.1,120.4 L442.1,120.4 L443.1,120.4 L444.1,120.4 L445.1,120.4 L446.1,120.4 L447.1,120.4 L448.1,120.4 L449.1,120.4 L450.1,120.4 L451.1,120.4 L452.1,120.4 L452.1,120.4 Z" fill="url(#pb)"/>
<path d="M299.9,118.5 L300.9,118.4 L301.9,118.4 L302.9,118.3 L303.9,118.3 L304.9,118.2 L305.9,118.2 L306.9,118.1 L307.9,118.1 L308.9,118.0 L309.9,118.0 L310.9,117.9 L311.9,117.9 L312.9,117.9 L313.9,117.8 L314.9,117.8 L315.9,117.7 L316.9,117.7 L317.9,117.6 L318.9,117.6 L319.9,117.5 L320.9,117.4 L321.9,117.4 L322.9,117.3 L323.9,117.2 L324.9,117.1 L325.9,117.0 L326.9,116.9 L327.9,116.8 L328.9,116.7 L329.9,116.6 L330.9,116.4 L331.9,116.3 L332.9,116.1 L333.9,116.0 L334.9,115.8 L335.9,115.6 L336.9,115.4 L337.9,115.3 L338.9,115.1 L339.9,114.9 L340.9,114.7 L341.9,114.5 L342.9,114.3 L343.9,114.2 L344.9,114.0 L345.9,113.9 L346.9,113.7 L347.9,113.6 L348.9,113.5 L349.9,113.4 L350.9,113.4 L351.9,113.3 L352.9,113.3 L354.0,113.3 L355.0,113.4 L356.0,113.4 L357.0,113.5 L358.0,113.5 L359.0,113.6 L360.0,113.7 L361.0,113.8 L362.0,113.8 L363.0,113.9 L364.0,113.9 L365.0,114.0 L366.0,113.9 L367.0,113.9 L368.0,113.8 L369.0,113.6 L370.0,113.4 L371.0,113.1 L372.0,112.8 L373.0,112.4 L374.0,111.9 L375.0,111.3 L376.0,110.7 L377.0,110.1 L378.0,109.3 L379.0,108.6 L380.0,107.8 L381.0,107.1 L382.0,106.3 L383.0,105.6 L384.0,104.9 L385.0,104.2 L386.0,103.6 L387.0,103.0 L388.0,102.5 L389.0,102.0 L390.0,101.6 L391.0,101.3 L392.0,100.9 L393.0,100.4 L394.0,99.6 L395.0,98.7 L396.0,97.5 L397.0,96.2 L398.0,94.9 L399.0,93.6 L400.0,92.5 L401.0,91.8 L402.0,91.6 L403.0,92.0 L404.0,92.7 L405.0,93.8 L406.0,95.1 L407.0,96.7 L408.0,98.5 L409.0,100.4 L410.0,102.3 L411.0,104.2 L412.0,106.1 L413.0,107.8 L414.0,109.4 L415.0,110.8 L416.0,112.1 L417.0,113.2 L418.0,114.2 L419.0,115.0 L420.1,115.7 L421.1,116.3 L422.1,116.8 L423.1,117.2 L424.1,117.5 L425.1,117.8 L426.1,118.0 L427.1,118.2 L428.1,118.3 L429.1,118.5" fill="none" stroke="#f0309c" stroke-width="2.1" stroke-linecap="round" stroke-dasharray="0.1,3.7"/>
<path d="M253.8,119.3 L254.8,119.3 L255.8,119.3 L256.8,119.3 L257.8,119.3 L258.8,119.3 L259.8,119.3 L260.8,119.3 L261.8,119.3 L262.8,119.3 L263.8,119.3 L264.8,119.3 L265.8,119.3 L266.8,119.3 L267.8,119.3 L268.8,119.3 L269.8,119.3 L270.8,119.3 L271.8,119.3 L272.8,119.3 L273.8,119.3 L274.8,119.3 L275.8,119.3 L276.8,119.3 L277.8,119.3 L278.8,119.3 L279.8,119.3 L280.8,119.3 L281.8,119.3 L282.8,119.3 L283.8,119.3 L284.8,119.3 L285.8,119.3 L286.9,119.3 L287.9,119.3 L288.9,119.3 L289.9,119.3 L290.9,119.3 L291.9,119.3 L292.9,119.3 L293.9,119.3 L294.9,119.3 L295.9,119.3 L296.9,119.3 L297.9,119.3 L298.9,119.2 L299.9,119.2 L300.9,119.1 L301.9,119.0 L302.9,119.0 L303.9,118.9 L304.9,118.9 L305.9,118.8 L306.9,118.7 L307.9,118.7 L308.9,118.6 L309.9,118.6 L310.9,118.5 L311.9,118.4 L312.9,118.4 L313.9,118.3 L314.9,118.2 L315.9,118.2 L316.9,118.1 L317.9,118.1 L318.9,118.0 L319.9,117.9 L320.9,117.9 L321.9,117.8 L322.9,117.7 L323.9,117.7 L324.9,117.6 L325.9,117.6 L326.9,117.5 L327.9,117.5 L328.9,117.4 L329.9,117.3 L330.9,117.3 L331.9,117.2 L332.9,117.2 L333.9,117.1 L334.9,117.0 L335.9,117.0 L336.9,116.9 L337.9,116.8 L338.9,116.8 L339.9,116.7 L340.9,116.6 L341.9,116.5 L342.9,116.4 L343.9,116.3 L344.9,116.2 L345.9,116.1 L346.9,115.9 L347.9,115.8 L348.9,115.6 L349.9,115.5 L350.9,115.3 L351.9,115.1 L352.9,114.9 L354.0,114.7 L355.0,114.4 L356.0,114.2 L357.0,113.9 L358.0,113.6 L359.0,113.3 L360.0,113.0 L361.0,112.7 L362.0,112.4 L363.0,112.1 L364.0,111.8 L365.0,111.4 L366.0,111.1 L367.0,110.7 L368.0,110.4 L369.0,110.0 L370.0,109.7 L371.0,109.4 L372.0,109.0 L373.0,108.7 L374.0,108.3 L375.0,108.0 L376.0,107.6 L377.0,107.3 L378.0,106.9 L379.0,106.5 L380.0,106.1 L381.0,105.6 L382.0,105.1 L383.0,104.6 L384.0,104.0 L385.0,103.4 L386.0,102.7 L387.0,102.0 L388.0,101.3 L389.0,100.5 L390.0,99.7 L391.0,98.8 L392.0,98.0 L393.0,97.1 L394.0,96.3 L395.0,95.5 L396.0,94.8 L397.0,94.1 L398.0,93.6 L399.0,93.2 L400.0,92.9 L401.0,92.7 L402.0,92.8 L403.0,92.9 L404.0,93.3 L405.0,93.9 L406.0,94.7 L407.0,95.6 L408.0,96.8 L409.0,98.1 L410.0,99.5 L411.0,100.9 L412.0,102.5 L413.0,104.1 L414.0,105.7 L415.0,107.2 L416.0,108.7 L417.0,110.1 L418.0,111.4 L419.0,112.7 L420.1,113.8 L421.1,114.8 L422.1,115.7 L423.1,116.5 L424.1,117.2 L425.1,117.7 L426.1,118.2 L427.1,118.7 L428.1,119.0 L429.1,119.3 L430.1,119.3 L431.1,119.3 L432.1,119.3 L433.1,119.3 L434.1,119.3 L435.1,119.3 L436.1,119.3 L437.1,119.3 L438.1,119.3 L439.1,119.3 L440.1,119.3 L441.1,119.3 L442.1,119.3 L443.1,119.3 L444.1,119.3 L445.1,119.3 L446.1,119.3 L447.1,119.3 L448.1,119.3 L449.1,119.3 L450.1,119.3 L451.1,119.3 L452.1,119.3" fill="none" stroke="#1a1a1a" stroke-width="1.3"/>
<line x1="253.0" y1="120.1" x2="452.9" y2="120.1" stroke="#1f2ee0" stroke-width="2.2"/>
<path d="M253.8,157.5 L253.8,156.4 L254.8,156.4 L255.8,156.4 L256.8,156.4 L257.8,156.4 L258.8,156.4 L259.8,156.4 L260.8,156.4 L261.8,156.4 L262.8,156.4 L263.8,156.4 L264.8,156.4 L265.8,156.4 L266.8,156.4 L267.8,156.4 L268.8,156.4 L269.8,156.4 L270.8,156.4 L271.8,156.4 L272.8,156.4 L273.8,156.4 L274.8,156.4 L275.8,156.4 L276.8,156.4 L277.8,156.4 L278.8,156.4 L279.8,156.4 L280.8,156.4 L281.8,156.4 L282.8,156.4 L283.8,156.4 L284.8,156.4 L285.8,156.4 L286.9,156.4 L287.9,156.4 L288.9,156.4 L289.9,156.4 L290.9,156.4 L291.9,156.4 L292.9,156.4 L293.9,156.4 L294.9,156.4 L295.9,156.4 L296.9,156.4 L297.9,156.4 L298.9,156.4 L299.9,156.4 L300.9,156.4 L301.9,156.4 L302.9,156.4 L303.9,156.4 L304.9,156.4 L305.9,156.3 L306.9,156.2 L307.9,156.0 L308.9,155.9 L309.9,155.8 L310.9,155.6 L311.9,155.5 L312.9,155.4 L313.9,155.3 L314.9,155.2 L315.9,155.2 L316.9,155.2 L317.9,155.2 L318.9,155.2 L319.9,155.2 L320.9,155.3 L321.9,155.4 L322.9,155.4 L323.9,155.5 L324.9,155.7 L325.9,155.8 L326.9,155.9 L327.9,156.0 L328.9,156.1 L329.9,156.2 L330.9,156.3 L331.9,156.4 L332.9,156.4 L333.9,156.4 L334.9,156.4 L335.9,156.4 L336.9,156.4 L337.9,156.4 L338.9,156.4 L339.9,156.4 L340.9,156.3 L341.9,156.2 L342.9,156.1 L343.9,155.9 L344.9,155.8 L345.9,155.6 L346.9,155.5 L347.9,155.3 L348.9,155.1 L349.9,154.9 L350.9,154.6 L351.9,154.4 L352.9,154.2 L354.0,153.9 L355.0,153.6 L356.0,153.4 L357.0,153.1 L358.0,152.8 L359.0,152.5 L360.0,152.2 L361.0,151.9 L362.0,151.6 L363.0,151.3 L364.0,151.0 L365.0,150.7 L366.0,150.4 L367.0,150.1 L368.0,149.8 L369.0,149.5 L370.0,149.2 L371.0,148.8 L372.0,148.5 L373.0,148.1 L374.0,147.7 L375.0,147.3 L376.0,146.9 L377.0,146.4 L378.0,145.9 L379.0,145.4 L380.0,144.8 L381.0,144.1 L382.0,143.4 L383.0,142.6 L384.0,141.8 L385.0,141.0 L386.0,140.0 L387.0,139.1 L388.0,138.1 L389.0,137.1 L390.0,136.0 L391.0,135.0 L392.0,134.0 L393.0,133.0 L394.0,132.1 L395.0,131.3 L396.0,130.5 L397.0,129.8 L398.0,129.3 L399.0,128.9 L400.0,128.7 L401.0,128.6 L402.0,128.6 L403.0,128.9 L404.0,129.3 L405.0,130.0 L406.0,130.8 L407.0,131.9 L408.0,133.1 L409.0,134.4 L410.0,135.9 L411.0,137.4 L412.0,139.0 L413.0,140.6 L414.0,142.1 L415.0,143.7 L416.0,145.2 L417.0,146.6 L418.0,148.0 L419.0,149.2 L420.1,150.4 L421.1,151.4 L422.1,152.4 L423.1,153.2 L424.1,153.9 L425.1,154.5 L426.1,155.1 L427.1,155.5 L428.1,155.9 L429.1,156.2 L430.1,156.4 L431.1,156.4 L432.1,156.4 L433.1,156.4 L434.1,156.4 L435.1,156.4 L436.1,156.4 L437.1,156.4 L438.1,156.4 L439.1,156.4 L440.1,156.4 L441.1,156.4 L442.1,156.4 L443.1,156.4 L444.1,156.4 L445.1,156.4 L446.1,156.4 L447.1,156.4 L448.1,156.4 L449.1,156.4 L450.1,156.4 L451.1,156.4 L452.1,156.4 L452.1,157.5 Z" fill="#fcfae8"/>
<path d="M253.8,157.5 L253.8,157.5 L254.8,157.5 L255.8,157.5 L256.8,157.5 L257.8,157.5 L258.8,157.5 L259.8,157.5 L260.8,157.5 L261.8,157.5 L262.8,157.5 L263.8,157.5 L264.8,157.5 L265.8,157.5 L266.8,157.5 L267.8,157.5 L268.8,157.5 L269.8,157.5 L270.8,157.5 L271.8,157.5 L272.8,157.5 L273.8,157.5 L274.8,157.5 L275.8,157.5 L276.8,157.5 L277.8,157.5 L278.8,157.5 L279.8,157.5 L280.8,157.5 L281.8,157.5 L282.8,157.5 L283.8,157.5 L284.8,157.5 L285.8,157.5 L286.9,157.5 L287.9,157.5 L288.9,157.5 L289.9,157.5 L290.9,157.5 L291.9,157.5 L292.9,157.5 L293.9,157.5 L294.9,157.5 L295.9,157.5 L296.9,157.5 L297.9,157.5 L298.9,157.5 L299.9,157.5 L300.9,157.5 L301.9,157.4 L302.9,157.4 L303.9,157.4 L304.9,157.4 L305.9,157.4 L306.9,157.4 L307.9,157.4 L308.9,157.4 L309.9,157.4 L310.9,157.4 L311.9,157.4 L312.9,157.4 L313.9,157.4 L314.9,157.4 L315.9,157.4 L316.9,157.4 L317.9,157.4 L318.9,157.4 L319.9,157.4 L320.9,157.4 L321.9,157.4 L322.9,157.4 L323.9,157.4 L324.9,157.4 L325.9,157.4 L326.9,157.4 L327.9,157.4 L328.9,157.4 L329.9,157.4 L330.9,157.4 L331.9,157.4 L332.9,157.4 L333.9,157.4 L334.9,157.4 L335.9,157.4 L336.9,157.4 L337.9,157.4 L338.9,157.4 L339.9,157.4 L340.9,157.4 L341.9,157.4 L342.9,157.4 L343.9,157.3 L344.9,157.3 L345.9,157.3 L346.9,157.3 L347.9,157.3 L348.9,157.3 L349.9,157.3 L350.9,157.3 L351.9,157.3 L352.9,157.3 L354.0,157.3 L355.0,157.3 L356.0,157.3 L357.0,157.2 L358.0,157.2 L359.0,157.2 L360.0,157.2 L361.0,157.2 L362.0,157.2 L363.0,157.2 L364.0,157.1 L365.0,157.1 L366.0,157.1 L367.0,157.1 L368.0,157.1 L369.0,157.0 L370.0,157.0 L371.0,157.0 L372.0,156.9 L373.0,156.9 L374.0,156.8 L375.0,156.8 L376.0,156.7 L377.0,156.7 L378.0,156.6 L379.0,156.5 L380.0,156.4 L381.0,156.3 L382.0,156.2 L383.0,156.1 L384.0,155.9 L385.0,155.7 L386.0,155.4 L387.0,154.9 L388.0,154.4 L389.0,153.6 L390.0,152.5 L391.0,151.0 L392.0,149.2 L393.0,146.8 L394.0,144.1 L395.0,141.0 L396.0,137.7 L397.0,134.5 L398.0,131.6 L399.0,129.5 L400.0,128.3 L401.0,128.3 L402.0,128.7 L403.0,129.6 L404.0,130.9 L405.0,132.4 L406.0,134.2 L407.0,136.1 L408.0,138.1 L409.0,140.1 L410.0,142.0 L411.0,143.9 L412.0,145.6 L413.0,147.2 L414.0,148.6 L415.0,149.8 L416.0,150.9 L417.0,151.9 L418.0,152.7 L419.0,153.3 L420.1,153.9 L421.1,154.3 L422.1,154.7 L423.1,155.0 L424.1,155.3 L425.1,155.5 L426.1,155.7 L427.1,155.8 L428.1,155.9 L429.1,156.1 L430.1,156.1 L431.1,156.2 L432.1,156.3 L433.1,156.4 L434.1,156.4 L435.1,156.5 L436.1,156.5 L437.1,156.6 L438.1,156.6 L439.1,156.7 L440.1,156.7 L441.1,156.7 L442.1,156.8 L443.1,156.8 L444.1,156.8 L445.1,156.9 L446.1,156.9 L447.1,156.9 L448.1,156.9 L449.1,157.0 L450.1,157.0 L451.1,157.0 L452.1,157.0 L452.1,157.5 Z" fill="#b34fe6"/>
<path d="M253.8,157.5 L253.8,157.5 L254.8,157.5 L255.8,157.5 L256.8,157.5 L257.8,157.5 L258.8,157.4 L259.8,157.4 L260.8,157.4 L261.8,157.4 L262.8,157.4 L263.8,157.4 L264.8,157.4 L265.8,157.4 L266.8,157.4 L267.8,157.4 L268.8,157.4 L269.8,157.4 L270.8,157.4 L271.8,157.4 L272.8,157.4 L273.8,157.4 L274.8,157.4 L275.8,157.4 L276.8,157.4 L277.8,157.4 L278.8,157.4 L279.8,157.4 L280.8,157.4 L281.8,157.4 L282.8,157.4 L283.8,157.4 L284.8,157.4 L285.8,157.4 L286.9,157.4 L287.9,157.4 L288.9,157.4 L289.9,157.4 L290.9,157.4 L291.9,157.4 L292.9,157.4 L293.9,157.4 L294.9,157.4 L295.9,157.4 L296.9,157.4 L297.9,157.4 L298.9,157.4 L299.9,157.4 L300.9,157.4 L301.9,157.4 L302.9,157.4 L303.9,157.4 L304.9,157.4 L305.9,157.4 L306.9,157.4 L307.9,157.4 L308.9,157.4 L309.9,157.4 L310.9,157.4 L311.9,157.4 L312.9,157.4 L313.9,157.4 L314.9,157.3 L315.9,157.3 L316.9,157.3 L317.9,157.3 L318.9,157.3 L319.9,157.3 L320.9,157.3 L321.9,157.3 L322.9,157.3 L323.9,157.3 L324.9,157.3 L325.9,157.3 L326.9,157.3 L327.9,157.3 L328.9,157.3 L329.9,157.3 L330.9,157.3 L331.9,157.2 L332.9,157.2 L333.9,157.2 L334.9,157.2 L335.9,157.2 L336.9,157.2 L337.9,157.2 L338.9,157.2 L339.9,157.2 L340.9,157.1 L341.9,157.1 L342.9,157.1 L343.9,157.1 L344.9,157.1 L345.9,157.1 L346.9,157.0 L347.9,157.0 L348.9,157.0 L349.9,157.0 L350.9,157.0 L351.9,156.9 L352.9,156.9 L354.0,156.9 L355.0,156.8 L356.0,156.8 L357.0,156.8 L358.0,156.7 L359.0,156.7 L360.0,156.6 L361.0,156.6 L362.0,156.5 L363.0,156.4 L364.0,156.3 L365.0,156.2 L366.0,156.1 L367.0,156.0 L368.0,155.8 L369.0,155.6 L370.0,155.4 L371.0,155.1 L372.0,154.7 L373.0,154.3 L374.0,153.8 L375.0,153.3 L376.0,152.6 L377.0,151.9 L378.0,151.1 L379.0,150.2 L380.0,149.2 L381.0,148.2 L382.0,147.2 L383.0,146.2 L384.0,145.2 L385.0,144.2 L386.0,143.4 L387.0,142.8 L388.0,142.4 L389.0,142.2 L390.0,142.3 L391.0,142.8 L392.0,143.7 L393.0,144.9 L394.0,146.2 L395.0,147.6 L396.0,148.9 L397.0,150.2 L398.0,151.4 L399.0,152.4 L400.0,153.3 L401.0,154.0 L402.0,154.6 L403.0,155.1 L404.0,155.4 L405.0,155.7 L406.0,156.0 L407.0,156.1 L408.0,156.3 L409.0,156.4 L410.0,156.5 L411.0,156.6 L412.0,156.7 L413.0,156.7 L414.0,156.8 L415.0,156.8 L416.0,156.9 L417.0,156.9 L418.0,157.0 L419.0,157.0 L420.1,157.0 L421.1,157.0 L422.1,157.1 L423.1,157.1 L424.1,157.1 L425.1,157.1 L426.1,157.2 L427.1,157.2 L428.1,157.2 L429.1,157.2 L430.1,157.2 L431.1,157.2 L432.1,157.2 L433.1,157.3 L434.1,157.3 L435.1,157.3 L436.1,157.3 L437.1,157.3 L438.1,157.3 L439.1,157.3 L440.1,157.3 L441.1,157.3 L442.1,157.3 L443.1,157.3 L444.1,157.3 L445.1,157.3 L446.1,157.4 L447.1,157.4 L448.1,157.4 L449.1,157.4 L450.1,157.4 L451.1,157.4 L452.1,157.4 L452.1,157.5 Z" fill="url(#pg)" stroke="#22cc22" stroke-width="1.0"/>
<path d="M253.8,157.5 L253.8,157.5 L254.8,157.5 L255.8,157.5 L256.8,157.5 L257.8,157.5 L258.8,157.5 L259.8,157.5 L260.8,157.5 L261.8,157.5 L262.8,157.5 L263.8,157.5 L264.8,157.5 L265.8,157.5 L266.8,157.5 L267.8,157.5 L268.8,157.5 L269.8,157.5 L270.8,157.5 L271.8,157.5 L272.8,157.5 L273.8,157.5 L274.8,157.5 L275.8,157.5 L276.8,157.5 L277.8,157.5 L278.8,157.5 L279.8,157.5 L280.8,157.5 L281.8,157.5 L282.8,157.5 L283.8,157.5 L284.8,157.5 L285.8,157.5 L286.9,157.5 L287.9,157.5 L288.9,157.5 L289.9,157.5 L290.9,157.5 L291.9,157.5 L292.9,157.5 L293.9,157.5 L294.9,157.5 L295.9,157.5 L296.9,157.5 L297.9,157.5 L298.9,157.5 L299.9,157.5 L300.9,157.5 L301.9,157.4 L302.9,157.4 L303.9,157.4 L304.9,157.4 L305.9,157.4 L306.9,157.4 L307.9,157.4 L308.9,157.4 L309.9,157.4 L310.9,157.4 L311.9,157.4 L312.9,157.4 L313.9,157.4 L314.9,157.4 L315.9,157.4 L316.9,157.4 L317.9,157.4 L318.9,157.4 L319.9,157.4 L320.9,157.4 L321.9,157.4 L322.9,157.4 L323.9,157.4 L324.9,157.4 L325.9,157.4 L326.9,157.4 L327.9,157.4 L328.9,157.4 L329.9,157.4 L330.9,157.4 L331.9,157.4 L332.9,157.4 L333.9,157.4 L334.9,157.4 L335.9,157.4 L336.9,157.4 L337.9,157.4 L338.9,157.4 L339.9,157.4 L340.9,157.4 L341.9,157.4 L342.9,157.4 L343.9,157.3 L344.9,157.3 L345.9,157.3 L346.9,157.3 L347.9,157.3 L348.9,157.3 L349.9,157.3 L350.9,157.3 L351.9,157.3 L352.9,157.3 L354.0,157.3 L355.0,157.3 L356.0,157.3 L357.0,157.2 L358.0,157.2 L359.0,157.2 L360.0,157.2 L361.0,157.2 L362.0,157.2 L363.0,157.2 L364.0,157.1 L365.0,157.1 L366.0,157.1 L367.0,157.1 L368.0,157.1 L369.0,157.0 L370.0,157.0 L371.0,157.0 L372.0,156.9 L373.0,156.9 L374.0,156.8 L375.0,156.8 L376.0,156.7 L377.0,156.7 L378.0,156.6 L379.0,156.5 L380.0,156.4 L381.0,156.3 L382.0,156.2 L383.0,156.1 L384.0,155.9 L385.0,155.7 L386.0,155.4 L387.0,154.9 L388.0,154.4 L389.0,153.6 L390.0,152.5 L391.0,151.0 L392.0,149.2 L393.0,146.8 L394.0,144.2 L395.0,145.0 L396.0,145.8 L397.0,146.8 L398.0,147.7 L399.0,148.6 L400.0,149.5 L401.0,150.3 L402.0,151.1 L403.0,151.8 L404.0,152.5 L405.0,153.1 L406.0,153.6 L407.0,154.1 L408.0,154.5 L409.0,154.8 L410.0,155.1 L411.0,155.4 L412.0,155.6 L413.0,155.7 L414.0,155.9 L415.0,156.0 L416.0,156.2 L417.0,156.3 L418.0,156.3 L419.0,156.4 L420.1,156.5 L421.1,156.5 L422.1,156.6 L423.1,156.6 L424.1,156.7 L425.1,156.7 L426.1,156.8 L427.1,156.8 L428.1,156.8 L429.1,156.9 L430.1,156.9 L431.1,156.9 L432.1,156.9 L433.1,157.0 L434.1,157.0 L435.1,157.0 L436.1,157.0 L437.1,157.0 L438.1,157.1 L439.1,157.1 L440.1,157.1 L441.1,157.1 L442.1,157.1 L443.1,157.1 L444.1,157.2 L445.1,157.2 L446.1,157.2 L447.1,157.2 L448.1,157.2 L449.1,157.2 L450.1,157.2 L451.1,157.2 L452.1,157.2 L452.1,157.5 Z" fill="url(#pk)" stroke="#30b030" stroke-width="0.8"/>
<path d="M253.8,157.5 L253.8,157.5 L254.8,157.5 L255.8,157.5 L256.8,157.5 L257.8,157.5 L258.8,157.4 L259.8,157.4 L260.8,157.4 L261.8,157.4 L262.8,157.4 L263.8,157.4 L264.8,157.4 L265.8,157.4 L266.8,157.4 L267.8,157.4 L268.8,157.4 L269.8,157.4 L270.8,157.4 L271.8,157.3 L272.8,157.3 L273.8,157.3 L274.8,157.3 L275.8,157.3 L276.8,157.3 L277.8,157.3 L278.8,157.2 L279.8,157.2 L280.8,157.2 L281.8,157.2 L282.8,157.2 L283.8,157.1 L284.8,157.1 L285.8,157.1 L286.9,157.1 L287.9,157.1 L288.9,157.0 L289.9,157.0 L290.9,157.0 L291.9,157.0 L292.9,156.9 L293.9,156.9 L294.9,156.9 L295.9,156.9 L296.9,156.8 L297.9,156.8 L298.9,156.8 L299.9,156.8 L300.9,156.8 L301.9,156.7 L302.9,156.7 L303.9,156.7 L304.9,156.7 L305.9,156.6 L306.9,156.6 L307.9,156.6 L308.9,156.6 L309.9,156.6 L310.9,156.6 L311.9,156.6 L312.9,156.5 L313.9,156.5 L314.9,156.5 L315.9,156.5 L316.9,156.5 L317.9,156.5 L318.9,156.5 L319.9,156.5 L320.9,156.5 L321.9,156.5 L322.9,156.5 L323.9,156.5 L324.9,156.5 L325.9,156.5 L326.9,156.5 L327.9,156.5 L328.9,156.6 L329.9,156.6 L330.9,156.6 L331.9,156.6 L332.9,156.6 L333.9,156.6 L334.9,156.7 L335.9,156.7 L336.9,156.7 L337.9,156.7 L338.9,156.7 L339.9,156.7 L340.9,156.7 L341.9,156.7 L342.9,156.6 L343.9,156.6 L344.9,156.5 L345.9,156.4 L346.9,156.3 L347.9,156.2 L348.9,156.0 L349.9,155.8 L350.9,155.6 L351.9,155.4 L352.9,155.1 L354.0,154.9 L355.0,154.6 L356.0,154.4 L357.0,154.1 L358.0,153.9 L359.0,153.8 L360.0,153.6 L361.0,153.6 L362.0,153.6 L363.0,153.6 L364.0,153.7 L365.0,153.8 L366.0,154.0 L367.0,154.3 L368.0,154.5 L369.0,154.8 L370.0,155.1 L371.0,155.4 L372.0,155.7 L373.0,156.0 L374.0,156.2 L375.0,156.4 L376.0,156.6 L377.0,156.8 L378.0,156.9 L379.0,157.1 L380.0,157.1 L381.0,157.2 L382.0,157.3 L383.0,157.3 L384.0,157.4 L385.0,157.4 L386.0,157.4 L387.0,157.4 L388.0,157.5 L389.0,157.5 L390.0,157.5 L391.0,157.5 L392.0,157.5 L393.0,157.5 L394.0,157.5 L395.0,157.5 L396.0,157.5 L397.0,157.5 L398.0,157.5 L399.0,157.5 L400.0,157.5 L401.0,157.5 L402.0,157.5 L403.0,157.5 L404.0,157.5 L405.0,157.5 L406.0,157.5 L407.0,157.5 L408.0,157.5 L409.0,157.5 L410.0,157.5 L411.0,157.5 L412.0,157.5 L413.0,157.5 L414.0,157.5 L415.0,157.5 L416.0,157.5 L417.0,157.5 L418.0,157.5 L419.0,157.5 L420.1,157.5 L421.1,157.5 L422.1,157.5 L423.1,157.5 L424.1,157.5 L425.1,157.5 L426.1,157.5 L427.1,157.5 L428.1,157.5 L429.1,157.5 L430.1,157.5 L431.1,157.5 L432.1,157.5 L433.1,157.5 L434.1,157.5 L435.1,157.5 L436.1,157.5 L437.1,157.5 L438.1,157.5 L439.1,157.5 L440.1,157.5 L441.1,157.5 L442.1,157.5 L443.1,157.5 L444.1,157.5 L445.1,157.5 L446.1,157.5 L447.1,157.5 L448.1,157.5 L449.1,157.5 L450.1,157.5 L451.1,157.5 L452.1,157.5 L452.1,157.5 Z" fill="url(#pb)"/>
<path d="M345.9,155.5 L346.9,155.4 L347.9,155.2 L348.9,155.0 L349.9,154.8 L350.9,154.6 L351.9,154.3 L352.9,154.0 L354.0,153.7 L355.0,153.4 L356.0,153.1 L357.0,152.8 L358.0,152.6 L359.0,152.3 L360.0,152.2 L361.0,152.0 L362.0,151.9 L363.0,151.9 L364.0,151.9 L365.0,151.9 L366.0,151.9 L367.0,152.0 L368.0,152.1 L369.0,152.1 L370.0,152.2 L371.0,152.1 L372.0,152.0 L373.0,151.9 L374.0,151.6 L375.0,151.2 L376.0,150.7 L377.0,150.1 L378.0,149.3 L379.0,148.5 L380.0,147.5 L381.0,146.5 L382.0,145.4 L383.0,144.3 L384.0,143.1 L385.0,142.0 L386.0,140.9 L387.0,139.9 L388.0,138.9 L389.0,137.9 L390.0,136.9 L391.0,136.0 L392.0,135.0 L393.0,133.9 L394.0,132.5 L395.0,130.7 L396.0,128.8 L397.0,126.9 L398.0,125.2 L399.0,124.1 L400.0,123.8 L401.0,124.5 L402.0,125.5 L403.0,126.9 L404.0,128.5 L405.0,130.3 L406.0,132.3 L407.0,134.4 L408.0,136.6 L409.0,138.7 L410.0,140.7 L411.0,142.6 L412.0,144.4 L413.0,146.1 L414.0,147.6 L415.0,148.9 L416.0,150.0 L417.0,151.0 L418.0,151.8 L419.0,152.5 L420.1,153.1 L421.1,153.6 L422.1,154.0 L423.1,154.3 L424.1,154.6 L425.1,154.8 L426.1,155.0 L427.1,155.2 L428.1,155.3 L429.1,155.5 L430.1,155.6" fill="none" stroke="#f0309c" stroke-width="2.1" stroke-linecap="round" stroke-dasharray="0.1,3.7"/>
<path d="M253.8,156.4 L254.8,156.4 L255.8,156.4 L256.8,156.4 L257.8,156.4 L258.8,156.4 L259.8,156.4 L260.8,156.4 L261.8,156.4 L262.8,156.4 L263.8,156.4 L264.8,156.4 L265.8,156.4 L266.8,156.4 L267.8,156.4 L268.8,156.4 L269.8,156.4 L270.8,156.4 L271.8,156.4 L272.8,156.4 L273.8,156.4 L274.8,156.4 L275.8,156.4 L276.8,156.4 L277.8,156.4 L278.8,156.4 L279.8,156.4 L280.8,156.4 L281.8,156.4 L282.8,156.4 L283.8,156.4 L284.8,156.4 L285.8,156.4 L286.9,156.4 L287.9,156.4 L288.9,156.4 L289.9,156.4 L290.9,156.4 L291.9,156.4 L292.9,156.4 L293.9,156.4 L294.9,156.4 L295.9,156.4 L296.9,156.4 L297.9,156.4 L298.9,156.4 L299.9,156.4 L300.9,156.4 L301.9,156.4 L302.9,156.4 L303.9,156.4 L304.9,156.4 L305.9,156.3 L306.9,156.2 L307.9,156.0 L308.9,155.9 L309.9,155.8 L310.9,155.6 L311.9,155.5 L312.9,155.4 L313.9,155.3 L314.9,155.2 L315.9,155.2 L316.9,155.2 L317.9,155.2 L318.9,155.2 L319.9,155.2 L320.9,155.3 L321.9,155.4 L322.9,155.4 L323.9,155.5 L324.9,155.7 L325.9,155.8 L326.9,155.9 L327.9,156.0 L328.9,156.1 L329.9,156.2 L330.9,156.3 L331.9,156.4 L332.9,156.4 L333.9,156.4 L334.9,156.4 L335.9,156.4 L336.9,156.4 L337.9,156.4 L338.9,156.4 L339.9,156.4 L340.9,156.3 L341.9,156.2 L342.9,156.1 L343.9,155.9 L344.9,155.8 L345.9,155.6 L346.9,155.5 L347.9,155.3 L348.9,155.1 L349.9,154.9 L350.9,154.6 L351.9,154.4 L352.9,154.2 L354.0,153.9 L355.0,153.6 L356.0,153.4 L357.0,153.1 L358.0,152.8 L359.0,152.5 L360.0,152.2 L361.0,151.9 L362.0,151.6 L363.0,151.3 L364.0,151.0 L365.0,150.7 L366.0,150.4 L367.0,150.1 L368.0,149.8 L369.0,149.5 L370.0,149.2 L371.0,148.8 L372.0,148.5 L373.0,148.1 L374.0,147.7 L375.0,147.3 L376.0,146.9 L377.0,146.4 L378.0,145.9 L379.0,145.4 L380.0,144.8 L381.0,144.1 L382.0,143.4 L383.0,142.6 L384.0,141.8 L385.0,141.0 L386.0,140.0 L387.0,139.1 L388.0,138.1 L389.0,137.1 L390.0,136.0 L391.0,135.0 L392.0,134.0 L393.0,133.0 L394.0,132.1 L395.0,131.3 L396.0,130.5 L397.0,129.8 L398.0,129.3 L399.0,128.9 L400.0,128.7 L401.0,128.6 L402.0,128.6 L403.0,128.9 L404.0,129.3 L405.0,130.0 L406.0,130.8 L407.0,131.9 L408.0,133.1 L409.0,134.4 L410.0,135.9 L411.0,137.4 L412.0,139.0 L413.0,140.6 L414.0,142.1 L415.0,143.7 L416.0,145.2 L417.0,146.6 L418.0,148.0 L419.0,149.2 L420.1,150.4 L421.1,151.4 L422.1,152.4 L423.1,153.2 L424.1,153.9 L425.1,154.5 L426.1,155.1 L427.1,155.5 L428.1,155.9 L429.1,156.2 L430.1,156.4 L431.1,156.4 L432.1,156.4 L433.1,156.4 L434.1,156.4 L435.1,156.4 L436.1,156.4 L437.1,156.4 L438.1,156.4 L439.1,156.4 L440.1,156.4 L441.1,156.4 L442.1,156.4 L443.1,156.4 L444.1,156.4 L445.1,156.4 L446.1,156.4 L447.1,156.4 L448.1,156.4 L449.1,156.4 L450.1,156.4 L451.1,156.4 L452.1,156.4" fill="none" stroke="#1a1a1a" stroke-width="1.3"/>
<line x1="253.0" y1="157.2" x2="452.9" y2="157.2" stroke="#1f2ee0" stroke-width="2.2"/>
<path d="M253.8,194.8 L253.8,193.7 L254.8,193.7 L255.8,193.7 L256.8,193.7 L257.8,193.7 L258.8,193.7 L259.8,193.7 L260.8,193.7 L261.8,193.7 L262.8,193.7 L263.8,193.7 L264.8,193.7 L265.8,193.7 L266.8,193.7 L267.8,193.7 L268.8,193.7 L269.8,193.7 L270.8,193.7 L271.8,193.7 L272.8,193.7 L273.8,193.7 L274.8,193.7 L275.8,193.7 L276.8,193.7 L277.8,193.7 L278.8,193.7 L279.8,193.7 L280.8,193.7 L281.8,193.7 L282.8,193.7 L283.8,193.7 L284.8,193.7 L285.8,193.7 L286.9,193.7 L287.9,193.7 L288.9,193.7 L289.9,193.7 L290.9,193.7 L291.9,193.7 L292.9,193.7 L293.9,193.7 L294.9,193.7 L295.9,193.7 L296.9,193.7 L297.9,193.7 L298.9,193.7 L299.9,193.7 L300.9,193.7 L301.9,193.7 L302.9,193.7 L303.9,193.7 L304.9,193.7 L305.9,193.6 L306.9,193.6 L307.9,193.5 L308.9,193.4 L309.9,193.4 L310.9,193.3 L311.9,193.2 L312.9,193.1 L313.9,193.1 L314.9,193.0 L315.9,192.9 L316.9,192.8 L317.9,192.7 L318.9,192.7 L319.9,192.6 L320.9,192.5 L321.9,192.4 L322.9,192.3 L323.9,192.3 L324.9,192.2 L325.9,192.1 L326.9,192.0 L327.9,191.9 L328.9,191.9 L329.9,191.8 L330.9,191.7 L331.9,191.6 L332.9,191.6 L333.9,191.5 L334.9,191.4 L335.9,191.4 L336.9,191.3 L337.9,191.2 L338.9,191.2 L339.9,191.1 L340.9,191.0 L341.9,191.0 L342.9,190.9 L343.9,190.8 L344.9,190.7 L345.9,190.7 L346.9,190.6 L347.9,190.5 L348.9,190.4 L349.9,190.3 L350.9,190.2 L351.9,190.0 L352.9,189.9 L354.0,189.7 L355.0,189.6 L356.0,189.4 L357.0,189.2 L358.0,188.9 L359.0,188.7 L360.0,188.4 L361.0,188.2 L362.0,187.9 L363.0,187.5 L364.0,187.2 L365.0,186.9 L366.0,186.5 L367.0,186.1 L368.0,185.7 L369.0,185.3 L370.0,184.9 L371.0,184.5 L372.0,184.1 L373.0,183.7 L374.0,183.4 L375.0,183.0 L376.0,182.6 L377.0,182.2 L378.0,181.9 L379.0,181.5 L380.0,181.2 L381.0,180.8 L382.0,180.4 L383.0,180.0 L384.0,179.5 L385.0,179.0 L386.0,178.5 L387.0,177.9 L388.0,177.2 L389.0,176.4 L390.0,175.6 L391.0,174.7 L392.0,173.8 L393.0,172.8 L394.0,171.8 L395.0,170.8 L396.0,169.9 L397.0,169.1 L398.0,168.4 L399.0,167.8 L400.0,167.5 L401.0,167.3 L402.0,167.4 L403.0,167.8 L404.0,168.4 L405.0,169.1 L406.0,170.0 L407.0,171.1 L408.0,172.3 L409.0,173.6 L410.0,175.0 L411.0,176.5 L412.0,178.0 L413.0,179.5 L414.0,181.0 L415.0,182.4 L416.0,183.8 L417.0,185.2 L418.0,186.4 L419.0,187.5 L420.1,188.6 L421.1,189.5 L422.1,190.3 L423.1,191.1 L424.1,191.7 L425.1,192.3 L426.1,192.7 L427.1,193.1 L428.1,193.5 L429.1,193.7 L430.1,193.7 L431.1,193.7 L432.1,193.7 L433.1,193.7 L434.1,193.7 L435.1,193.7 L436.1,193.7 L437.1,193.7 L438.1,193.7 L439.1,193.7 L440.1,193.7 L441.1,193.7 L442.1,193.7 L443.1,193.7 L444.1,193.7 L445.1,193.7 L446.1,193.7 L447.1,193.7 L448.1,193.7 L449.1,193.7 L450.1,193.7 L451.1,193.7 L452.1,193.7 L452.1,194.8 Z" fill="#fcfae8"/>
<path d="M253.8,194.8 L253.8,194.8 L254.8,194.8 L255.8,194.8 L256.8,194.8 L257.8,194.8 L258.8,194.8 L259.8,194.8 L260.8,194.8 L261.8,194.8 L262.8,194.8 L263.8,194.8 L264.8,194.8 L265.8,194.8 L266.8,194.8 L267.8,194.8 L268.8,194.8 L269.8,194.8 L270.8,194.8 L271.8,194.8 L272.8,194.8 L273.8,194.8 L274.8,194.8 L275.8,194.8 L276.8,194.7 L277.8,194.7 L278.8,194.7 L279.8,194.7 L280.8,194.7 L281.8,194.7 L282.8,194.7 L283.8,194.7 L284.8,194.7 L285.8,194.7 L286.9,194.7 L287.9,194.7 L288.9,194.7 L289.9,194.7 L290.9,194.7 L291.9,194.7 L292.9,194.7 L293.9,194.7 L294.9,194.7 L295.9,194.7 L296.9,194.7 L297.9,194.7 L298.9,194.7 L299.9,194.7 L300.9,194.7 L301.9,194.7 L302.9,194.7 L303.9,194.7 L304.9,194.7 L305.9,194.7 L306.9,194.7 L307.9,194.7 L308.9,194.7 L309.9,194.7 L310.9,194.7 L311.9,194.7 L312.9,194.7 L313.9,194.7 L314.9,194.7 L315.9,194.7 L316.9,194.7 L317.9,194.7 L318.9,194.7 L319.9,194.7 L320.9,194.7 L321.9,194.7 L322.9,194.7 L323.9,194.7 L324.9,194.7 L325.9,194.7 L326.9,194.7 L327.9,194.7 L328.9,194.7 L329.9,194.6 L330.9,194.6 L331.9,194.6 L332.9,194.6 L333.9,194.6 L334.9,194.6 L335.9,194.6 L336.9,194.6 L337.9,194.6 L338.9,194.6 L339.9,194.6 L340.9,194.6 L341.9,194.6 L342.9,194.6 L343.9,194.6 L344.9,194.6 L345.9,194.6 L346.9,194.5 L347.9,194.5 L348.9,194.5 L349.9,194.5 L350.9,194.5 L351.9,194.5 L352.9,194.5 L354.0,194.5 L355.0,194.4 L356.0,194.4 L357.0,194.4 L358.0,194.4 L359.0,194.4 L360.0,194.4 L361.0,194.3 L362.0,194.3 L363.0,194.3 L364.0,194.3 L365.0,194.2 L366.0,194.2 L367.0,194.2 L368.0,194.1 L369.0,194.1 L370.0,194.1 L371.0,194.0 L372.0,194.0 L373.0,193.9 L374.0,193.8 L375.0,193.8 L376.0,193.7 L377.0,193.6 L378.0,193.5 L379.0,193.4 L380.0,193.3 L381.0,193.1 L382.0,192.9 L383.0,192.6 L384.0,192.3 L385.0,191.9 L386.0,191.3 L387.0,190.7 L388.0,189.8 L389.0,188.7 L390.0,187.3 L391.0,185.7 L392.0,183.8 L393.0,181.7 L394.0,179.3 L395.0,176.8 L396.0,174.3 L397.0,171.8 L398.0,169.6 L399.0,167.8 L400.0,166.6 L401.0,166.0 L402.0,166.1 L403.0,166.6 L404.0,167.5 L405.0,168.7 L406.0,170.2 L407.0,171.9 L408.0,173.7 L409.0,175.6 L410.0,177.5 L411.0,179.3 L412.0,181.1 L413.0,182.8 L414.0,184.3 L415.0,185.7 L416.0,186.9 L417.0,188.0 L418.0,189.0 L419.0,189.8 L420.1,190.4 L421.1,191.0 L422.1,191.5 L423.1,191.9 L424.1,192.2 L425.1,192.5 L426.1,192.7 L427.1,192.9 L428.1,193.0 L429.1,193.2 L430.1,193.3 L431.1,193.4 L432.1,193.5 L433.1,193.6 L434.1,193.6 L435.1,193.7 L436.1,193.8 L437.1,193.8 L438.1,193.9 L439.1,193.9 L440.1,193.9 L441.1,194.0 L442.1,194.0 L443.1,194.1 L444.1,194.1 L445.1,194.1 L446.1,194.1 L447.1,194.2 L448.1,194.2 L449.1,194.2 L450.1,194.2 L451.1,194.3 L452.1,194.3 L452.1,194.8 Z" fill="#b34fe6"/>
<path d="M253.8,194.8 L253.8,194.7 L254.8,194.7 L255.8,194.7 L256.8,194.7 L257.8,194.7 L258.8,194.7 L259.8,194.7 L260.8,194.7 L261.8,194.7 L262.8,194.7 L263.8,194.7 L264.8,194.7 L265.8,194.7 L266.8,194.7 L267.8,194.7 L268.8,194.7 L269.8,194.7 L270.8,194.7 L271.8,194.7 L272.8,194.7 L273.8,194.7 L274.8,194.7 L275.8,194.7 L276.8,194.7 L277.8,194.7 L278.8,194.7 L279.8,194.7 L280.8,194.7 L281.8,194.7 L282.8,194.7 L283.8,194.7 L284.8,194.7 L285.8,194.7 L286.9,194.7 L287.9,194.7 L288.9,194.7 L289.9,194.7 L290.9,194.7 L291.9,194.7 L292.9,194.6 L293.9,194.6 L294.9,194.6 L295.9,194.6 L296.9,194.6 L297.9,194.6 L298.9,194.6 L299.9,194.6 L300.9,194.6 L301.9,194.6 L302.9,194.6 L303.9,194.6 L304.9,194.6 L305.9,194.6 L306.9,194.6 L307.9,194.6 L308.9,194.6 L309.9,194.6 L310.9,194.6 L311.9,194.6 L312.9,194.6 L313.9,194.6 L314.9,194.5 L315.9,194.5 L316.9,194.5 L317.9,194.5 L318.9,194.5 L319.9,194.5 L320.9,194.5 L321.9,194.5 L322.9,194.5 L323.9,194.5 L324.9,194.5 L325.9,194.4 L326.9,194.4 L327.9,194.4 L328.9,194.4 L329.9,194.4 L330.9,194.4 L331.9,194.4 L332.9,194.4 L333.9,194.3 L334.9,194.3 L335.9,194.3 L336.9,194.3 L337.9,194.3 L338.9,194.3 L339.9,194.2 L340.9,194.2 L341.9,194.2 L342.9,194.2 L343.9,194.1 L344.9,194.1 L345.9,194.1 L346.9,194.0 L347.9,194.0 L348.9,193.9 L349.9,193.9 L350.9,193.9 L351.9,193.8 L352.9,193.7 L354.0,193.7 L355.0,193.6 L356.0,193.5 L357.0,193.4 L358.0,193.3 L359.0,193.2 L360.0,193.0 L361.0,192.9 L362.0,192.7 L363.0,192.5 L364.0,192.2 L365.0,192.0 L366.0,191.7 L367.0,191.4 L368.0,191.0 L369.0,190.7 L370.0,190.3 L371.0,189.8 L372.0,189.4 L373.0,188.9 L374.0,188.4 L375.0,187.8 L376.0,187.3 L377.0,186.8 L378.0,186.3 L379.0,185.8 L380.0,185.3 L381.0,184.9 L382.0,184.5 L383.0,184.2 L384.0,183.9 L385.0,183.7 L386.0,183.7 L387.0,183.7 L388.0,184.1 L389.0,184.6 L390.0,185.4 L391.0,186.3 L392.0,187.2 L393.0,188.1 L394.0,189.0 L395.0,189.9 L396.0,190.6 L397.0,191.3 L398.0,191.8 L399.0,192.3 L400.0,192.7 L401.0,193.0 L402.0,193.2 L403.0,193.4 L404.0,193.6 L405.0,193.7 L406.0,193.8 L407.0,193.9 L408.0,194.0 L409.0,194.1 L410.0,194.1 L411.0,194.2 L412.0,194.2 L413.0,194.3 L414.0,194.3 L415.0,194.3 L416.0,194.4 L417.0,194.4 L418.0,194.4 L419.0,194.4 L420.1,194.4 L421.1,194.5 L422.1,194.5 L423.1,194.5 L424.1,194.5 L425.1,194.5 L426.1,194.5 L427.1,194.6 L428.1,194.6 L429.1,194.6 L430.1,194.6 L431.1,194.6 L432.1,194.6 L433.1,194.6 L434.1,194.6 L435.1,194.6 L436.1,194.6 L437.1,194.6 L438.1,194.6 L439.1,194.6 L440.1,194.7 L441.1,194.7 L442.1,194.7 L443.1,194.7 L444.1,194.7 L445.1,194.7 L446.1,194.7 L447.1,194.7 L448.1,194.7 L449.1,194.7 L450.1,194.7 L451.1,194.7 L452.1,194.7 L452.1,194.8 Z" fill="url(#pg)" stroke="#22cc22" stroke-width="1.0"/>
<path d="M253.8,194.8 L253.8,194.8 L254.8,194.8 L255.8,194.8 L256.8,194.8 L257.8,194.8 L258.8,194.8 L259.8,194.8 L260.8,194.8 L261.8,194.8 L262.8,194.8 L263.8,194.8 L264.8,194.8 L265.8,194.8 L266.8,194.8 L267.8,194.8 L268.8,194.8 L269.8,194.8 L270.8,194.8 L271.8,194.8 L272.8,194.8 L273.8,194.8 L274.8,194.8 L275.8,194.8 L276.8,194.7 L277.8,194.7 L278.8,194.7 L279.8,194.7 L280.8,194.7 L281.8,194.7 L282.8,194.7 L283.8,194.7 L284.8,194.7 L285.8,194.7 L286.9,194.7 L287.9,194.7 L288.9,194.7 L289.9,194.7 L290.9,194.7 L291.9,194.7 L292.9,194.7 L293.9,194.7 L294.9,194.7 L295.9,194.7 L296.9,194.7 L297.9,194.7 L298.9,194.7 L299.9,194.7 L300.9,194.7 L301.9,194.7 L302.9,194.7 L303.9,194.7 L304.9,194.7 L305.9,194.7 L306.9,194.7 L307.9,194.7 L308.9,194.7 L309.9,194.7 L310.9,194.7 L311.9,194.7 L312.9,194.7 L313.9,194.7 L314.9,194.7 L315.9,194.7 L316.9,194.7 L317.9,194.7 L318.9,194.7 L319.9,194.7 L320.9,194.7 L321.9,194.7 L322.9,194.7 L323.9,194.7 L324.9,194.7 L325.9,194.7 L326.9,194.7 L327.9,194.7 L328.9,194.7 L329.9,194.6 L330.9,194.6 L331.9,194.6 L332.9,194.6 L333.9,194.6 L334.9,194.6 L335.9,194.6 L336.9,194.6 L337.9,194.6 L338.9,194.6 L339.9,194.6 L340.9,194.6 L341.9,194.6 L342.9,194.6 L343.9,194.6 L344.9,194.6 L345.9,194.6 L346.9,194.5 L347.9,194.5 L348.9,194.5 L349.9,194.5 L350.9,194.5 L351.9,194.5 L352.9,194.5 L354.0,194.5 L355.0,194.4 L356.0,194.4 L357.0,194.4 L358.0,194.4 L359.0,194.4 L360.0,194.4 L361.0,194.3 L362.0,194.3 L363.0,194.3 L364.0,194.3 L365.0,194.2 L366.0,194.2 L367.0,194.2 L368.0,194.1 L369.0,194.1 L370.0,194.1 L371.0,194.0 L372.0,194.0 L373.0,193.9 L374.0,193.8 L375.0,193.8 L376.0,193.7 L377.0,193.6 L378.0,193.5 L379.0,193.4 L380.0,193.3 L381.0,193.1 L382.0,192.9 L383.0,192.6 L384.0,192.3 L385.0,191.9 L386.0,191.3 L387.0,190.7 L388.0,189.8 L389.0,188.7 L390.0,187.3 L391.0,185.7 L392.0,185.5 L393.0,186.1 L394.0,186.7 L395.0,187.3 L396.0,187.9 L397.0,188.5 L398.0,189.1 L399.0,189.7 L400.0,190.2 L401.0,190.7 L402.0,191.1 L403.0,191.5 L404.0,191.9 L405.0,192.2 L406.0,192.5 L407.0,192.7 L408.0,192.9 L409.0,193.1 L410.0,193.3 L411.0,193.4 L412.0,193.5 L413.0,193.6 L414.0,193.7 L415.0,193.8 L416.0,193.8 L417.0,193.9 L418.0,194.0 L419.0,194.0 L420.1,194.1 L421.1,194.1 L422.1,194.1 L423.1,194.2 L424.1,194.2 L425.1,194.2 L426.1,194.2 L427.1,194.3 L428.1,194.3 L429.1,194.3 L430.1,194.3 L431.1,194.4 L432.1,194.4 L433.1,194.4 L434.1,194.4 L435.1,194.4 L436.1,194.4 L437.1,194.4 L438.1,194.5 L439.1,194.5 L440.1,194.5 L441.1,194.5 L442.1,194.5 L443.1,194.5 L444.1,194.5 L445.1,194.5 L446.1,194.5 L447.1,194.5 L448.1,194.6 L449.1,194.6 L450.1,194.6 L451.1,194.6 L452.1,194.6 L452.1,194.8 Z" fill="url(#pk)" stroke="#30b030" stroke-width="0.8"/>
<path d="M253.8,194.8 L253.8,194.8 L254.8,194.8 L255.8,194.8 L256.8,194.8 L257.8,194.8 L258.8,194.8 L259.8,194.8 L260.8,194.8 L261.8,194.8 L262.8,194.8 L263.8,194.8 L264.8,194.8 L265.8,194.8 L266.8,194.8 L267.8,194.8 L268.8,194.8 L269.8,194.8 L270.8,194.8 L271.8,194.8 L272.8,194.8 L273.8,194.8 L274.8,194.8 L275.8,194.7 L276.8,194.7 L277.8,194.7 L278.8,194.7 L279.8,194.7 L280.8,194.7 L281.8,194.7 L282.8,194.7 L283.8,194.7 L284.8,194.7 L285.8,194.6 L286.9,194.6 L287.9,194.6 L288.9,194.6 L289.9,194.6 L290.9,194.6 L291.9,194.5 L292.9,194.5 L293.9,194.5 L294.9,194.5 L295.9,194.4 L296.9,194.4 L297.9,194.4 L298.9,194.3 L299.9,194.3 L300.9,194.3 L301.9,194.2 L302.9,194.2 L303.9,194.2 L304.9,194.1 L305.9,194.1 L306.9,194.0 L307.9,194.0 L308.9,193.9 L309.9,193.9 L310.9,193.8 L311.9,193.8 L312.9,193.7 L313.9,193.6 L314.9,193.6 L315.9,193.5 L316.9,193.5 L317.9,193.4 L318.9,193.4 L319.9,193.3 L320.9,193.2 L321.9,193.2 L322.9,193.1 L323.9,193.0 L324.9,193.0 L325.9,192.9 L326.9,192.9 L327.9,192.8 L328.9,192.8 L329.9,192.7 L330.9,192.7 L331.9,192.6 L332.9,192.6 L333.9,192.5 L334.9,192.5 L335.9,192.5 L336.9,192.4 L337.9,192.4 L338.9,192.4 L339.9,192.4 L340.9,192.3 L341.9,192.3 L342.9,192.3 L343.9,192.3 L344.9,192.3 L345.9,192.3 L346.9,192.3 L347.9,192.3 L348.9,192.3 L349.9,192.3 L350.9,192.4 L351.9,192.4 L352.9,192.4 L354.0,192.4 L355.0,192.4 L356.0,192.4 L357.0,192.5 L358.0,192.5 L359.0,192.5 L360.0,192.5 L361.0,192.4 L362.0,192.4 L363.0,192.4 L364.0,192.3 L365.0,192.3 L366.0,192.2 L367.0,192.2 L368.0,192.1 L369.0,192.1 L370.0,192.1 L371.0,192.0 L372.0,192.0 L373.0,192.0 L374.0,192.0 L375.0,192.1 L376.0,192.2 L377.0,192.2 L378.0,192.4 L379.0,192.5 L380.0,192.6 L381.0,192.8 L382.0,192.9 L383.0,193.1 L384.0,193.3 L385.0,193.4 L386.0,193.6 L387.0,193.7 L388.0,193.8 L389.0,193.9 L390.0,194.0 L391.0,194.1 L392.0,194.2 L393.0,194.3 L394.0,194.3 L395.0,194.4 L396.0,194.4 L397.0,194.5 L398.0,194.5 L399.0,194.5 L400.0,194.6 L401.0,194.6 L402.0,194.6 L403.0,194.6 L404.0,194.6 L405.0,194.7 L406.0,194.7 L407.0,194.7 L408.0,194.7 L409.0,194.7 L410.0,194.7 L411.0,194.7 L412.0,194.7 L413.0,194.7 L414.0,194.7 L415.0,194.8 L416.0,194.8 L417.0,194.8 L418.0,194.8 L419.0,194.8 L420.1,194.8 L421.1,194.8 L422.1,194.8 L423.1,194.8 L424.1,194.8 L425.1,194.8 L426.1,194.8 L427.1,194.8 L428.1,194.8 L429.1,194.8 L430.1,194.8 L431.1,194.8 L432.1,194.8 L433.1,194.8 L434.1,194.8 L435.1,194.8 L436.1,194.8 L437.1,194.8 L438.1,194.8 L439.1,194.8 L440.1,194.8 L441.1,194.8 L442.1,194.8 L443.1,194.8 L444.1,194.8 L445.1,194.8 L446.1,194.8 L447.1,194.8 L448.1,194.8 L449.1,194.8 L450.1,194.8 L451.1,194.8 L452.1,194.8 L452.1,194.8 Z" fill="url(#pb)"/>
<path d="M315.9,192.9 L316.9,192.8 L317.9,192.7 L318.9,192.7 L319.9,192.6 L320.9,192.5 L321.9,192.4 L322.9,192.4 L323.9,192.3 L324.9,192.2 L325.9,192.1 L326.9,192.1 L327.9,192.0 L328.9,191.9 L329.9,191.9 L330.9,191.8 L331.9,191.7 L332.9,191.7 L333.9,191.6 L334.9,191.5 L335.9,191.5 L336.9,191.4 L337.9,191.4 L338.9,191.3 L339.9,191.3 L340.9,191.2 L341.9,191.2 L342.9,191.1 L343.9,191.1 L344.9,191.1 L345.9,191.0 L346.9,191.0 L347.9,190.9 L348.9,190.9 L349.9,190.9 L350.9,190.8 L351.9,190.8 L352.9,190.7 L354.0,190.6 L355.0,190.6 L356.0,190.5 L357.0,190.4 L358.0,190.2 L359.0,190.1 L360.0,189.9 L361.0,189.7 L362.0,189.5 L363.0,189.2 L364.0,188.9 L365.0,188.6 L366.0,188.3 L367.0,187.9 L368.0,187.4 L369.0,187.0 L370.0,186.5 L371.0,186.0 L372.0,185.4 L373.0,184.9 L374.0,184.4 L375.0,183.8 L376.0,183.3 L377.0,182.7 L378.0,182.2 L379.0,181.7 L380.0,181.3 L381.0,180.8 L382.0,180.4 L383.0,180.0 L384.0,179.6 L385.0,179.2 L386.0,178.7 L387.0,178.2 L388.0,177.8 L389.0,177.3 L390.0,176.9 L391.0,176.2 L392.0,175.3 L393.0,174.2 L394.0,172.8 L395.0,171.2 L396.0,169.4 L397.0,167.7 L398.0,166.1 L399.0,164.8 L400.0,163.9 L401.0,163.7 L402.0,164.1 L403.0,164.8 L404.0,165.9 L405.0,167.2 L406.0,168.8 L407.0,170.6 L408.0,172.5 L409.0,174.5 L410.0,176.4 L411.0,178.3 L412.0,180.2 L413.0,181.9 L414.0,183.5 L415.0,184.9 L416.0,186.1 L417.0,187.3 L418.0,188.2 L419.0,189.1 L420.1,189.8 L421.1,190.4 L422.1,190.8 L423.1,191.3 L424.1,191.6 L425.1,191.9 L426.1,192.1 L427.1,192.3 L428.1,192.5 L429.1,192.6 L430.1,192.8 L431.1,192.9" fill="none" stroke="#f0309c" stroke-width="2.1" stroke-linecap="round" stroke-dasharray="0.1,3.7"/>
<path d="M253.8,193.7 L254.8,193.7 L255.8,193.7 L256.8,193.7 L257.8,193.7 L258.8,193.7 L259.8,193.7 L260.8,193.7 L261.8,193.7 L262.8,193.7 L263.8,193.7 L264.8,193.7 L265.8,193.7 L266.8,193.7 L267.8,193.7 L268.8,193.7 L269.8,193.7 L270.8,193.7 L271.8,193.7 L272.8,193.7 L273.8,193.7 L274.8,193.7 L275.8,193.7 L276.8,193.7 L277.8,193.7 L278.8,193.7 L279.8,193.7 L280.8,193.7 L281.8,193.7 L282.8,193.7 L283.8,193.7 L284.8,193.7 L285.8,193.7 L286.9,193.7 L287.9,193.7 L288.9,193.7 L289.9,193.7 L290.9,193.7 L291.9,193.7 L292.9,193.7 L293.9,193.7 L294.9,193.7 L295.9,193.7 L296.9,193.7 L297.9,193.7 L298.9,193.7 L299.9,193.7 L300.9,193.7 L301.9,193.7 L302.9,193.7 L303.9,193.7 L304.9,193.7 L305.9,193.6 L306.9,193.6 L307.9,193.5 L308.9,193.4 L309.9,193.4 L310.9,193.3 L311.9,193.2 L312.9,193.1 L313.9,193.1 L314.9,193.0 L315.9,192.9 L316.9,192.8 L317.9,192.7 L318.9,192.7 L319.9,192.6 L320.9,192.5 L321.9,192.4 L322.9,192.3 L323.9,192.3 L324.9,192.2 L325.9,192.1 L326.9,192.0 L327.9,191.9 L328.9,191.9 L329.9,191.8 L330.9,191.7 L331.9,191.6 L332.9,191.6 L333.9,191.5 L334.9,191.4 L335.9,191.4 L336.9,191.3 L337.9,191.2 L338.9,191.2 L339.9,191.1 L340.9,191.0 L341.9,191.0 L342.9,190.9 L343.9,190.8 L344.9,190.7 L345.9,190.7 L346.9,190.6 L347.9,190.5 L348.9,190.4 L349.9,190.3 L350.9,190.2 L351.9,190.0 L352.9,189.9 L354.0,189.7 L355.0,189.6 L356.0,189.4 L357.0,189.2 L358.0,188.9 L359.0,188.7 L360.0,188.4 L361.0,188.2 L362.0,187.9 L363.0,187.5 L364.0,187.2 L365.0,186.9 L366.0,186.5 L367.0,186.1 L368.0,185.7 L369.0,185.3 L370.0,184.9 L371.0,184.5 L372.0,184.1 L373.0,183.7 L374.0,183.4 L375.0,183.0 L376.0,182.6 L377.0,182.2 L378.0,181.9 L379.0,181.5 L380.0,181.2 L381.0,180.8 L382.0,180.4 L383.0,180.0 L384.0,179.5 L385.0,179.0 L386.0,178.5 L387.0,177.9 L388.0,177.2 L389.0,176.4 L390.0,175.6 L391.0,174.7 L392.0,173.8 L393.0,172.8 L394.0,171.8 L395.0,170.8 L396.0,169.9 L397.0,169.1 L398.0,168.4 L399.0,167.8 L400.0,167.5 L401.0,167.3 L402.0,167.4 L403.0,167.8 L404.0,168.4 L405.0,169.1 L406.0,170.0 L407.0,171.1 L408.0,172.3 L409.0,173.6 L410.0,175.0 L411.0,176.5 L412.0,178.0 L413.0,179.5 L414.0,181.0 L415.0,182.4 L416.0,183.8 L417.0,185.2 L418.0,186.4 L419.0,187.5 L420.1,188.6 L421.1,189.5 L422.1,190.3 L423.1,191.1 L424.1,191.7 L425.1,192.3 L426.1,192.7 L427.1,193.1 L428.1,193.5 L429.1,193.7 L430.1,193.7 L431.1,193.7 L432.1,193.7 L433.1,193.7 L434.1,193.7 L435.1,193.7 L436.1,193.7 L437.1,193.7 L438.1,193.7 L439.1,193.7 L440.1,193.7 L441.1,193.7 L442.1,193.7 L443.1,193.7 L444.1,193.7 L445.1,193.7 L446.1,193.7 L447.1,193.7 L448.1,193.7 L449.1,193.7 L450.1,193.7 L451.1,193.7 L452.1,193.7" fill="none" stroke="#1a1a1a" stroke-width="1.3"/>
<line x1="253.0" y1="194.5" x2="452.9" y2="194.5" stroke="#1f2ee0" stroke-width="2.2"/>
<path d="M253.8,231.8 L253.8,230.7 L254.8,230.7 L255.8,230.7 L256.8,230.7 L257.8,230.7 L258.8,230.7 L259.8,230.7 L260.8,230.7 L261.8,230.7 L262.8,230.7 L263.8,230.7 L264.8,230.7 L265.8,230.7 L266.8,230.7 L267.8,230.7 L268.8,230.7 L269.8,230.7 L270.8,230.7 L271.8,230.7 L272.8,230.7 L273.8,230.7 L274.8,230.7 L275.8,230.7 L276.8,230.7 L277.8,230.7 L278.8,230.7 L279.8,230.7 L280.8,230.7 L281.8,230.7 L282.8,230.7 L283.8,230.7 L284.8,230.7 L285.8,230.7 L286.9,230.7 L287.9,230.7 L288.9,230.7 L289.9,230.7 L290.9,230.7 L291.9,230.7 L292.9,230.7 L293.9,230.7 L294.9,230.7 L295.9,230.7 L296.9,230.7 L297.9,230.7 L298.9,230.7 L299.9,230.7 L300.9,230.7 L301.9,230.7 L302.9,230.7 L303.9,230.7 L304.9,230.7 L305.9,230.6 L306.9,230.5 L307.9,230.5 L308.9,230.4 L309.9,230.3 L310.9,230.2 L311.9,230.1 L312.9,230.1 L313.9,230.0 L314.9,229.9 L315.9,229.8 L316.9,229.7 L317.9,229.6 L318.9,229.5 L319.9,229.4 L320.9,229.3 L321.9,229.2 L322.9,229.1 L323.9,229.0 L324.9,228.9 L325.9,228.8 L326.9,228.7 L327.9,228.5 L328.9,228.4 L329.9,228.3 L330.9,228.2 L331.9,228.1 L332.9,228.0 L333.9,227.9 L334.9,227.8 L335.9,227.6 L336.9,227.5 L337.9,227.4 L338.9,227.3 L339.9,227.2 L340.9,227.1 L341.9,227.0 L342.9,226.9 L343.9,226.8 L344.9,226.6 L345.9,226.5 L346.9,226.4 L347.9,226.3 L348.9,226.2 L349.9,226.0 L350.9,225.9 L351.9,225.8 L352.9,225.6 L354.0,225.4 L355.0,225.3 L356.0,225.1 L357.0,224.9 L358.0,224.7 L359.0,224.5 L360.0,224.2 L361.0,223.9 L362.0,223.7 L363.0,223.4 L364.0,223.1 L365.0,222.7 L366.0,222.4 L367.0,222.0 L368.0,221.6 L369.0,221.2 L370.0,220.8 L371.0,220.3 L372.0,219.9 L373.0,219.4 L374.0,219.0 L375.0,218.5 L376.0,218.1 L377.0,217.6 L378.0,217.1 L379.0,216.7 L380.0,216.2 L381.0,215.8 L382.0,215.3 L383.0,214.9 L384.0,214.4 L385.0,213.9 L386.0,213.4 L387.0,212.8 L388.0,212.2 L389.0,211.5 L390.0,210.7 L391.0,209.9 L392.0,209.1 L393.0,208.2 L394.0,207.2 L395.0,206.3 L396.0,205.4 L397.0,204.6 L398.0,203.9 L399.0,203.3 L400.0,203.0 L401.0,202.9 L402.0,203.0 L403.0,203.5 L404.0,204.1 L405.0,204.9 L406.0,205.9 L407.0,207.0 L408.0,208.2 L409.0,209.5 L410.0,210.9 L411.0,212.3 L412.0,213.8 L413.0,215.3 L414.0,216.7 L415.0,218.1 L416.0,219.5 L417.0,220.8 L418.0,222.1 L419.0,223.2 L420.1,224.3 L421.1,225.2 L422.1,226.1 L423.1,226.9 L424.1,227.6 L425.1,228.2 L426.1,228.7 L427.1,229.2 L428.1,229.6 L429.1,229.9 L430.1,230.2 L431.1,230.5 L432.1,230.7 L433.1,230.7 L434.1,230.7 L435.1,230.7 L436.1,230.7 L437.1,230.7 L438.1,230.7 L439.1,230.7 L440.1,230.7 L441.1,230.7 L442.1,230.7 L443.1,230.7 L444.1,230.7 L445.1,230.7 L446.1,230.7 L447.1,230.7 L448.1,230.7 L449.1,230.7 L450.1,230.7 L451.1,230.7 L452.1,230.7 L452.1,231.8 Z" fill="#fcfae8"/>
<path d="M253.8,231.8 L253.8,231.8 L254.8,231.8 L255.8,231.8 L256.8,231.8 L257.8,231.8 L258.8,231.8 L259.8,231.8 L260.8,231.8 L261.8,231.8 L262.8,231.8 L263.8,231.8 L264.8,231.8 L265.8,231.8 L266.8,231.8 L267.8,231.8 L268.8,231.8 L269.8,231.8 L270.8,231.8 L271.8,231.8 L272.8,231.8 L273.8,231.8 L274.8,231.8 L275.8,231.8 L276.8,231.8 L277.8,231.8 L278.8,231.8 L279.8,231.7 L280.8,231.7 L281.8,231.7 L282.8,231.7 L283.8,231.7 L284.8,231.7 L285.8,231.7 L286.9,231.7 L287.9,231.7 L288.9,231.7 L289.9,231.7 L290.9,231.7 L291.9,231.7 L292.9,231.7 L293.9,231.7 L294.9,231.7 L295.9,231.7 L296.9,231.7 L297.9,231.7 L298.9,231.7 L299.9,231.7 L300.9,231.7 L301.9,231.7 L302.9,231.7 L303.9,231.7 L304.9,231.7 L305.9,231.7 L306.9,231.7 L307.9,231.7 L308.9,231.7 L309.9,231.7 L310.9,231.7 L311.9,231.7 L312.9,231.7 L313.9,231.7 L314.9,231.7 L315.9,231.7 L316.9,231.7 L317.9,231.7 L318.9,231.7 L319.9,231.7 L320.9,231.7 L321.9,231.7 L322.9,231.7 L323.9,231.7 L324.9,231.7 L325.9,231.7 L326.9,231.7 L327.9,231.7 L328.9,231.7 L329.9,231.7 L330.9,231.7 L331.9,231.6 L332.9,231.6 L333.9,231.6 L334.9,231.6 L335.9,231.6 L336.9,231.6 L337.9,231.6 L338.9,231.6 L339.9,231.6 L340.9,231.6 L341.9,231.6 L342.9,231.6 L343.9,231.6 L344.9,231.6 L345.9,231.6 L346.9,231.6 L347.9,231.5 L348.9,231.5 L349.9,231.5 L350.9,231.5 L351.9,231.5 L352.9,231.5 L354.0,231.5 L355.0,231.5 L356.0,231.4 L357.0,231.4 L358.0,231.4 L359.0,231.4 L360.0,231.4 L361.0,231.4 L362.0,231.3 L363.0,231.3 L364.0,231.3 L365.0,231.3 L366.0,231.2 L367.0,231.2 L368.0,231.2 L369.0,231.1 L370.0,231.1 L371.0,231.0 L372.0,231.0 L373.0,230.9 L374.0,230.9 L375.0,230.8 L376.0,230.7 L377.0,230.7 L378.0,230.6 L379.0,230.5 L380.0,230.3 L381.0,230.2 L382.0,230.1 L383.0,229.9 L384.0,229.6 L385.0,229.3 L386.0,229.0 L387.0,228.5 L388.0,227.9 L389.0,227.1 L390.0,226.1 L391.0,224.8 L392.0,223.3 L393.0,221.4 L394.0,219.3 L395.0,216.9 L396.0,214.3 L397.0,211.7 L398.0,209.3 L399.0,207.2 L400.0,205.7 L401.0,204.9 L402.0,204.9 L403.0,205.3 L404.0,206.1 L405.0,207.2 L406.0,208.5 L407.0,209.9 L408.0,211.6 L409.0,213.2 L410.0,214.9 L411.0,216.6 L412.0,218.2 L413.0,219.7 L414.0,221.1 L415.0,222.4 L416.0,223.5 L417.0,224.5 L418.0,225.4 L419.0,226.2 L420.1,226.8 L421.1,227.4 L422.1,227.9 L423.1,228.3 L424.1,228.7 L425.1,229.0 L426.1,229.2 L427.1,229.4 L428.1,229.6 L429.1,229.8 L430.1,229.9 L431.1,230.0 L432.1,230.1 L433.1,230.2 L434.1,230.3 L435.1,230.4 L436.1,230.5 L437.1,230.5 L438.1,230.6 L439.1,230.7 L440.1,230.7 L441.1,230.8 L442.1,230.8 L443.1,230.9 L444.1,230.9 L445.1,230.9 L446.1,231.0 L447.1,231.0 L448.1,231.0 L449.1,231.1 L450.1,231.1 L451.1,231.1 L452.1,231.1 L452.1,231.8 Z" fill="#b34fe6"/>
<path d="M253.8,231.8 L253.8,231.7 L254.8,231.7 L255.8,231.7 L256.8,231.7 L257.8,231.7 L258.8,231.7 L259.8,231.7 L260.8,231.7 L261.8,231.7 L262.8,231.7 L263.8,231.7 L264.8,231.7 L265.8,231.7 L266.8,231.7 L267.8,231.7 L268.8,231.7 L269.8,231.7 L270.8,231.7 L271.8,231.7 L272.8,231.7 L273.8,231.7 L274.8,231.7 L275.8,231.7 L276.8,231.7 L277.8,231.7 L278.8,231.7 L279.8,231.7 L280.8,231.7 L281.8,231.7 L282.8,231.7 L283.8,231.7 L284.8,231.7 L285.8,231.7 L286.9,231.7 L287.9,231.7 L288.9,231.7 L289.9,231.7 L290.9,231.7 L291.9,231.7 L292.9,231.7 L293.9,231.7 L294.9,231.7 L295.9,231.7 L296.9,231.6 L297.9,231.6 L298.9,231.6 L299.9,231.6 L300.9,231.6 L301.9,231.6 L302.9,231.6 L303.9,231.6 L304.9,231.6 L305.9,231.6 L306.9,231.6 L307.9,231.6 L308.9,231.6 L309.9,231.6 L310.9,231.6 L311.9,231.6 L312.9,231.6 L313.9,231.6 L314.9,231.6 L315.9,231.6 L316.9,231.6 L317.9,231.5 L318.9,231.5 L319.9,231.5 L320.9,231.5 L321.9,231.5 L322.9,231.5 L323.9,231.5 L324.9,231.5 L325.9,231.5 L326.9,231.5 L327.9,231.5 L328.9,231.5 L329.9,231.4 L330.9,231.4 L331.9,231.4 L332.9,231.4 L333.9,231.4 L334.9,231.4 L335.9,231.4 L336.9,231.3 L337.9,231.3 L338.9,231.3 L339.9,231.3 L340.9,231.3 L341.9,231.2 L342.9,231.2 L343.9,231.2 L344.9,231.2 L345.9,231.1 L346.9,231.1 L347.9,231.1 L348.9,231.1 L349.9,231.0 L350.9,231.0 L351.9,230.9 L352.9,230.9 L354.0,230.8 L355.0,230.8 L356.0,230.7 L357.0,230.7 L358.0,230.6 L359.0,230.5 L360.0,230.4 L361.0,230.3 L362.0,230.1 L363.0,230.0 L364.0,229.8 L365.0,229.6 L366.0,229.4 L367.0,229.2 L368.0,228.9 L369.0,228.5 L370.0,228.2 L371.0,227.7 L372.0,227.3 L373.0,226.8 L374.0,226.2 L375.0,225.6 L376.0,224.9 L377.0,224.3 L378.0,223.5 L379.0,222.8 L380.0,222.1 L381.0,221.4 L382.0,220.7 L383.0,220.1 L384.0,219.5 L385.0,219.0 L386.0,218.6 L387.0,218.4 L388.0,218.3 L389.0,218.4 L390.0,218.7 L391.0,219.3 L392.0,220.0 L393.0,220.9 L394.0,221.9 L395.0,222.9 L396.0,224.0 L397.0,224.9 L398.0,225.8 L399.0,226.6 L400.0,227.3 L401.0,228.0 L402.0,228.5 L403.0,229.0 L404.0,229.4 L405.0,229.7 L406.0,229.9 L407.0,230.1 L408.0,230.3 L409.0,230.5 L410.0,230.6 L411.0,230.7 L412.0,230.8 L413.0,230.9 L414.0,230.9 L415.0,231.0 L416.0,231.0 L417.0,231.1 L418.0,231.1 L419.0,231.2 L420.1,231.2 L421.1,231.2 L422.1,231.3 L423.1,231.3 L424.1,231.3 L425.1,231.3 L426.1,231.4 L427.1,231.4 L428.1,231.4 L429.1,231.4 L430.1,231.4 L431.1,231.5 L432.1,231.5 L433.1,231.5 L434.1,231.5 L435.1,231.5 L436.1,231.5 L437.1,231.5 L438.1,231.5 L439.1,231.6 L440.1,231.6 L441.1,231.6 L442.1,231.6 L443.1,231.6 L444.1,231.6 L445.1,231.6 L446.1,231.6 L447.1,231.6 L448.1,231.6 L449.1,231.6 L450.1,231.6 L451.1,231.6 L452.1,231.6 L452.1,231.8 Z" fill="url(#pg)" stroke="#22cc22" stroke-width="1.0"/>
<path d="M253.8,231.8 L253.8,231.8 L254.8,231.8 L255.8,231.8 L256.8,231.8 L257.8,231.8 L258.8,231.8 L259.8,231.8 L260.8,231.8 L261.8,231.8 L262.8,231.8 L263.8,231.8 L264.8,231.8 L265.8,231.8 L266.8,231.8 L267.8,231.8 L268.8,231.8 L269.8,231.8 L270.8,231.8 L271.8,231.8 L272.8,231.8 L273.8,231.8 L274.8,231.8 L275.8,231.8 L276.8,231.8 L277.8,231.8 L278.8,231.8 L279.8,231.7 L280.8,231.7 L281.8,231.7 L282.8,231.7 L283.8,231.7 L284.8,231.7 L285.8,231.7 L286.9,231.7 L287.9,231.7 L288.9,231.7 L289.9,231.7 L290.9,231.7 L291.9,231.7 L292.9,231.7 L293.9,231.7 L294.9,231.7 L295.9,231.7 L296.9,231.7 L297.9,231.7 L298.9,231.7 L299.9,231.7 L300.9,231.7 L301.9,231.7 L302.9,231.7 L303.9,231.7 L304.9,231.7 L305.9,231.7 L306.9,231.7 L307.9,231.7 L308.9,231.7 L309.9,231.7 L310.9,231.7 L311.9,231.7 L312.9,231.7 L313.9,231.7 L314.9,231.7 L315.9,231.7 L316.9,231.7 L317.9,231.7 L318.9,231.7 L319.9,231.7 L320.9,231.7 L321.9,231.7 L322.9,231.7 L323.9,231.7 L324.9,231.7 L325.9,231.7 L326.9,231.7 L327.9,231.7 L328.9,231.7 L329.9,231.7 L330.9,231.7 L331.9,231.6 L332.9,231.6 L333.9,231.6 L334.9,231.6 L335.9,231.6 L336.9,231.6 L337.9,231.6 L338.9,231.6 L339.9,231.6 L340.9,231.6 L341.9,231.6 L342.9,231.6 L343.9,231.6 L344.9,231.6 L345.9,231.6 L346.9,231.6 L347.9,231.5 L348.9,231.5 L349.9,231.5 L350.9,231.5 L351.9,231.5 L352.9,231.5 L354.0,231.5 L355.0,231.5 L356.0,231.4 L357.0,231.4 L358.0,231.4 L359.0,231.4 L360.0,231.4 L361.0,231.4 L362.0,231.3 L363.0,231.3 L364.0,231.3 L365.0,231.3 L366.0,231.2 L367.0,231.2 L368.0,231.2 L369.0,231.1 L370.0,231.1 L371.0,231.0 L372.0,231.0 L373.0,230.9 L374.0,230.9 L375.0,230.8 L376.0,230.7 L377.0,230.7 L378.0,230.6 L379.0,230.5 L380.0,230.3 L381.0,230.2 L382.0,230.1 L383.0,229.9 L384.0,229.6 L385.0,229.3 L386.0,229.0 L387.0,228.5 L388.0,227.9 L389.0,227.1 L390.0,226.1 L391.0,224.8 L392.0,223.3 L393.0,221.4 L394.0,220.1 L395.0,220.7 L396.0,221.3 L397.0,222.0 L398.0,222.7 L399.0,223.4 L400.0,224.0 L401.0,224.7 L402.0,225.3 L403.0,225.9 L404.0,226.4 L405.0,226.9 L406.0,227.4 L407.0,227.8 L408.0,228.2 L409.0,228.6 L410.0,228.9 L411.0,229.1 L412.0,229.4 L413.0,229.6 L414.0,229.8 L415.0,229.9 L416.0,230.1 L417.0,230.2 L418.0,230.3 L419.0,230.4 L420.1,230.5 L421.1,230.6 L422.1,230.7 L423.1,230.7 L424.1,230.8 L425.1,230.8 L426.1,230.9 L427.1,230.9 L428.1,231.0 L429.1,231.0 L430.1,231.0 L431.1,231.1 L432.1,231.1 L433.1,231.1 L434.1,231.2 L435.1,231.2 L436.1,231.2 L437.1,231.2 L438.1,231.2 L439.1,231.3 L440.1,231.3 L441.1,231.3 L442.1,231.3 L443.1,231.3 L444.1,231.4 L445.1,231.4 L446.1,231.4 L447.1,231.4 L448.1,231.4 L449.1,231.4 L450.1,231.4 L451.1,231.4 L452.1,231.5 L452.1,231.8 Z" fill="url(#pk)" stroke="#30b030" stroke-width="0.8"/>
<path d="M253.8,231.8 L253.8,231.7 L254.8,231.7 L255.8,231.7 L256.8,231.7 L257.8,231.7 L258.8,231.7 L259.8,231.7 L260.8,231.7 L261.8,231.6 L262.8,231.6 L263.8,231.6 L264.8,231.6 L265.8,231.6 L266.8,231.6 L267.8,231.5 L268.8,231.5 L269.8,231.5 L270.8,231.5 L271.8,231.5 L272.8,231.4 L273.8,231.4 L274.8,231.4 L275.8,231.4 L276.8,231.3 L277.8,231.3 L278.8,231.3 L279.8,231.2 L280.8,231.2 L281.8,231.2 L282.8,231.1 L283.8,231.1 L284.8,231.1 L285.8,231.0 L286.9,231.0 L287.9,231.0 L288.9,230.9 L289.9,230.9 L290.9,230.9 L291.9,230.8 L292.9,230.8 L293.9,230.7 L294.9,230.7 L295.9,230.7 L296.9,230.6 L297.9,230.6 L298.9,230.6 L299.9,230.5 L300.9,230.5 L301.9,230.5 L302.9,230.4 L303.9,230.4 L304.9,230.4 L305.9,230.4 L306.9,230.3 L307.9,230.3 L308.9,230.3 L309.9,230.2 L310.9,230.2 L311.9,230.2 L312.9,230.1 L313.9,230.1 L314.9,230.1 L315.9,230.0 L316.9,230.0 L317.9,229.9 L318.9,229.9 L319.9,229.8 L320.9,229.8 L321.9,229.7 L322.9,229.6 L323.9,229.5 L324.9,229.4 L325.9,229.3 L326.9,229.2 L327.9,229.1 L328.9,229.0 L329.9,228.9 L330.9,228.7 L331.9,228.6 L332.9,228.4 L333.9,228.3 L334.9,228.1 L335.9,227.9 L336.9,227.8 L337.9,227.6 L338.9,227.4 L339.9,227.3 L340.9,227.1 L341.9,227.0 L342.9,226.8 L343.9,226.7 L344.9,226.6 L345.9,226.5 L346.9,226.4 L347.9,226.4 L348.9,226.3 L349.9,226.3 L350.9,226.3 L351.9,226.3 L352.9,226.3 L354.0,226.4 L355.0,226.5 L356.0,226.6 L357.0,226.7 L358.0,226.8 L359.0,227.0 L360.0,227.2 L361.0,227.3 L362.0,227.5 L363.0,227.7 L364.0,227.9 L365.0,228.2 L366.0,228.4 L367.0,228.6 L368.0,228.8 L369.0,229.0 L370.0,229.2 L371.0,229.4 L372.0,229.6 L373.0,229.8 L374.0,230.0 L375.0,230.2 L376.0,230.3 L377.0,230.5 L378.0,230.6 L379.0,230.8 L380.0,230.9 L381.0,231.0 L382.0,231.1 L383.0,231.2 L384.0,231.3 L385.0,231.3 L386.0,231.4 L387.0,231.4 L388.0,231.5 L389.0,231.5 L390.0,231.6 L391.0,231.6 L392.0,231.6 L393.0,231.7 L394.0,231.7 L395.0,231.7 L396.0,231.7 L397.0,231.7 L398.0,231.7 L399.0,231.8 L400.0,231.8 L401.0,231.8 L402.0,231.8 L403.0,231.8 L404.0,231.8 L405.0,231.8 L406.0,231.8 L407.0,231.8 L408.0,231.8 L409.0,231.8 L410.0,231.8 L411.0,231.8 L412.0,231.8 L413.0,231.8 L414.0,231.8 L415.0,231.8 L416.0,231.8 L417.0,231.8 L418.0,231.8 L419.0,231.8 L420.1,231.8 L421.1,231.8 L422.1,231.8 L423.1,231.8 L424.1,231.8 L425.1,231.8 L426.1,231.8 L427.1,231.8 L428.1,231.8 L429.1,231.8 L430.1,231.8 L431.1,231.8 L432.1,231.8 L433.1,231.8 L434.1,231.8 L435.1,231.8 L436.1,231.8 L437.1,231.8 L438.1,231.8 L439.1,231.8 L440.1,231.8 L441.1,231.8 L442.1,231.8 L443.1,231.8 L444.1,231.8 L445.1,231.8 L446.1,231.8 L447.1,231.8 L448.1,231.8 L449.1,231.8 L450.1,231.8 L451.1,231.8 L452.1,231.8 L452.1,231.8 Z" fill="url(#pb)"/>
<path d="M302.9,229.9 L303.9,229.9 L304.9,229.8 L305.9,229.8 L306.9,229.7 L307.9,229.7 L308.9,229.7 L309.9,229.6 L310.9,229.6 L311.9,229.6 L312.9,229.5 L313.9,229.5 L314.9,229.4 L315.9,229.4 L316.9,229.3 L317.9,229.3 L318.9,229.2 L319.9,229.1 L320.9,229.1 L321.9,229.0 L322.9,228.9 L323.9,228.8 L324.9,228.7 L325.9,228.6 L326.9,228.5 L327.9,228.3 L328.9,228.2 L329.9,228.0 L330.9,227.9 L331.9,227.7 L332.9,227.6 L333.9,227.4 L334.9,227.2 L335.9,227.0 L336.9,226.8 L337.9,226.6 L338.9,226.4 L339.9,226.3 L340.9,226.1 L341.9,225.9 L342.9,225.7 L343.9,225.6 L344.9,225.4 L345.9,225.3 L346.9,225.2 L347.9,225.1 L348.9,225.0 L349.9,224.9 L350.9,224.9 L351.9,224.8 L352.9,224.8 L354.0,224.8 L355.0,224.8 L356.0,224.8 L357.0,224.9 L358.0,224.9 L359.0,225.0 L360.0,225.0 L361.0,225.1 L362.0,225.1 L363.0,225.1 L364.0,225.2 L365.0,225.2 L366.0,225.1 L367.0,225.0 L368.0,224.9 L369.0,224.8 L370.0,224.6 L371.0,224.3 L372.0,224.0 L373.0,223.6 L374.0,223.2 L375.0,222.7 L376.0,222.1 L377.0,221.5 L378.0,220.8 L379.0,220.1 L380.0,219.4 L381.0,218.7 L382.0,217.9 L383.0,217.2 L384.0,216.5 L385.0,215.8 L386.0,215.1 L387.0,214.5 L388.0,213.8 L389.0,213.1 L390.0,212.5 L391.0,211.8 L392.0,211.1 L393.0,210.2 L394.0,209.0 L395.0,207.6 L396.0,206.1 L397.0,204.5 L398.0,202.9 L399.0,201.7 L400.0,200.9 L401.0,200.8 L402.0,201.3 L403.0,202.2 L404.0,203.3 L405.0,204.7 L406.0,206.3 L407.0,208.0 L408.0,209.8 L409.0,211.6 L410.0,213.4 L411.0,215.2 L412.0,216.9 L413.0,218.4 L414.0,219.9 L415.0,221.2 L416.0,222.4 L417.0,223.5 L418.0,224.4 L419.0,225.2 L420.1,225.9 L421.1,226.6 L422.1,227.1 L423.1,227.5 L424.1,227.9 L425.1,228.2 L426.1,228.5 L427.1,228.7 L428.1,228.9 L429.1,229.1 L430.1,229.2 L431.1,229.4 L432.1,229.5 L433.1,229.6 L434.1,229.7 L435.1,229.8 L436.1,229.9" fill="none" stroke="#f0309c" stroke-width="2.1" stroke-linecap="round" stroke-dasharray="0.1,3.7"/>
<path d="M253.8,230.7 L254.8,230.7 L255.8,230.7 L256.8,230.7 L257.8,230.7 L258.8,230.7 L259.8,230.7 L260.8,230.7 L261.8,230.7 L262.8,230.7 L263.8,230.7 L264.8,230.7 L265.8,230.7 L266.8,230.7 L267.8,230.7 L268.8,230.7 L269.8,230.7 L270.8,230.7 L271.8,230.7 L272.8,230.7 L273.8,230.7 L274.8,230.7 L275.8,230.7 L276.8,230.7 L277.8,230.7 L278.8,230.7 L279.8,230.7 L280.8,230.7 L281.8,230.7 L282.8,230.7 L283.8,230.7 L284.8,230.7 L285.8,230.7 L286.9,230.7 L287.9,230.7 L288.9,230.7 L289.9,230.7 L290.9,230.7 L291.9,230.7 L292.9,230.7 L293.9,230.7 L294.9,230.7 L295.9,230.7 L296.9,230.7 L297.9,230.7 L298.9,230.7 L299.9,230.7 L300.9,230.7 L301.9,230.7 L302.9,230.7 L303.9,230.7 L304.9,230.7 L305.9,230.6 L306.9,230.5 L307.9,230.5 L308.9,230.4 L309.9,230.3 L310.9,230.2 L311.9,230.1 L312.9,230.1 L313.9,230.0 L314.9,229.9 L315.9,229.8 L316.9,229.7 L317.9,229.6 L318.9,229.5 L319.9,229.4 L320.9,229.3 L321.9,229.2 L322.9,229.1 L323.9,229.0 L324.9,228.9 L325.9,228.8 L326.9,228.7 L327.9,228.5 L328.9,228.4 L329.9,228.3 L330.9,228.2 L331.9,228.1 L332.9,228.0 L333.9,227.9 L334.9,227.8 L335.9,227.6 L336.9,227.5 L337.9,227.4 L338.9,227.3 L339.9,227.2 L340.9,227.1 L341.9,227.0 L342.9,226.9 L343.9,226.8 L344.9,226.6 L345.9,226.5 L346.9,226.4 L347.9,226.3 L348.9,226.2 L349.9,226.0 L350.9,225.9 L351.9,225.8 L352.9,225.6 L354.0,225.4 L355.0,225.3 L356.0,225.1 L357.0,224.9 L358.0,224.7 L359.0,224.5 L360.0,224.2 L361.0,223.9 L362.0,223.7 L363.0,223.4 L364.0,223.1 L365.0,222.7 L366.0,222.4 L367.0,222.0 L368.0,221.6 L369.0,221.2 L370.0,220.8 L371.0,220.3 L372.0,219.9 L373.0,219.4 L374.0,219.0 L375.0,218.5 L376.0,218.1 L377.0,217.6 L378.0,217.1 L379.0,216.7 L380.0,216.2 L381.0,215.8 L382.0,215.3 L383.0,214.9 L384.0,214.4 L385.0,213.9 L386.0,213.4 L387.0,212.8 L388.0,212.2 L389.0,211.5 L390.0,210.7 L391.0,209.9 L392.0,209.1 L393.0,208.2 L394.0,207.2 L395.0,206.3 L396.0,205.4 L397.0,204.6 L398.0,203.9 L399.0,203.3 L400.0,203.0 L401.0,202.9 L402.0,203.0 L403.0,203.5 L404.0,204.1 L405.0,204.9 L406.0,205.9 L407.0,207.0 L408.0,208.2 L409.0,209.5 L410.0,210.9 L411.0,212.3 L412.0,213.8 L413.0,215.3 L414.0,216.7 L415.0,218.1 L416.0,219.5 L417.0,220.8 L418.0,222.1 L419.0,223.2 L420.1,224.3 L421.1,225.2 L422.1,226.1 L423.1,226.9 L424.1,227.6 L425.1,228.2 L426.1,228.7 L427.1,229.2 L428.1,229.6 L429.1,229.9 L430.1,230.2 L431.1,230.5 L432.1,230.7 L433.1,230.7 L434.1,230.7 L435.1,230.7 L436.1,230.7 L437.1,230.7 L438.1,230.7 L439.1,230.7 L440.1,230.7 L441.1,230.7 L442.1,230.7 L443.1,230.7 L444.1,230.7 L445.1,230.7 L446.1,230.7 L447.1,230.7 L448.1,230.7 L449.1,230.7 L450.1,230.7 L451.1,230.7 L452.1,230.7" fill="none" stroke="#1a1a1a" stroke-width="1.3"/>
<line x1="253.0" y1="231.5" x2="452.9" y2="231.5" stroke="#1f2ee0" stroke-width="2.2"/>
<path d="M253.8,269.0 L253.8,267.9 L254.8,267.9 L255.8,267.9 L256.8,267.9 L257.8,267.9 L258.8,267.9 L259.8,267.9 L260.8,267.9 L261.8,267.9 L262.8,267.9 L263.8,267.9 L264.8,267.9 L265.8,267.9 L266.8,267.9 L267.8,267.9 L268.8,267.9 L269.8,267.9 L270.8,267.9 L271.8,267.9 L272.8,267.9 L273.8,267.9 L274.8,267.9 L275.8,267.9 L276.8,267.9 L277.8,267.9 L278.8,267.9 L279.8,267.9 L280.8,267.9 L281.8,267.9 L282.8,267.9 L283.8,267.9 L284.8,267.9 L285.8,267.9 L286.9,267.9 L287.9,267.9 L288.9,267.9 L289.9,267.9 L290.9,267.9 L291.9,267.9 L292.9,267.9 L293.9,267.9 L294.9,267.9 L295.9,267.9 L296.9,267.9 L297.9,267.8 L298.9,267.7 L299.9,267.7 L300.9,267.6 L301.9,267.5 L302.9,267.5 L303.9,267.4 L304.9,267.3 L305.9,267.3 L306.9,267.2 L307.9,267.1 L308.9,267.0 L309.9,267.0 L310.9,266.9 L311.9,266.8 L312.9,266.7 L313.9,266.6 L314.9,266.5 L315.9,266.5 L316.9,266.4 L317.9,266.3 L318.9,266.2 L319.9,266.1 L320.9,266.0 L321.9,266.0 L322.9,265.9 L323.9,265.8 L324.9,265.7 L325.9,265.6 L326.9,265.6 L327.9,265.5 L328.9,265.4 L329.9,265.3 L330.9,265.2 L331.9,265.2 L332.9,265.1 L333.9,265.0 L334.9,265.0 L335.9,264.9 L336.9,264.8 L337.9,264.8 L338.9,264.7 L339.9,264.7 L340.9,264.6 L341.9,264.5 L342.9,264.5 L343.9,264.4 L344.9,264.4 L345.9,264.3 L346.9,264.2 L347.9,264.2 L348.9,264.1 L349.9,264.0 L350.9,263.9 L351.9,263.8 L352.9,263.7 L354.0,263.6 L355.0,263.5 L356.0,263.4 L357.0,263.2 L358.0,263.1 L359.0,262.9 L360.0,262.7 L361.0,262.5 L362.0,262.2 L363.0,262.0 L364.0,261.7 L365.0,261.4 L366.0,261.1 L367.0,260.8 L368.0,260.4 L369.0,260.1 L370.0,259.7 L371.0,259.3 L372.0,258.9 L373.0,258.5 L374.0,258.1 L375.0,257.7 L376.0,257.3 L377.0,256.9 L378.0,256.5 L379.0,256.1 L380.0,255.7 L381.0,255.3 L382.0,254.8 L383.0,254.3 L384.0,253.8 L385.0,253.3 L386.0,252.7 L387.0,252.0 L388.0,251.3 L389.0,250.5 L390.0,249.6 L391.0,248.7 L392.0,247.7 L393.0,246.7 L394.0,245.6 L395.0,244.5 L396.0,243.5 L397.0,242.6 L398.0,241.8 L399.0,241.2 L400.0,240.8 L401.0,240.6 L402.0,240.7 L403.0,241.0 L404.0,241.6 L405.0,242.3 L406.0,243.2 L407.0,244.3 L408.0,245.5 L409.0,246.8 L410.0,248.1 L411.0,249.6 L412.0,251.1 L413.0,252.6 L414.0,254.0 L415.0,255.5 L416.0,256.9 L417.0,258.2 L418.0,259.5 L419.0,260.7 L420.1,261.8 L421.1,262.8 L422.1,263.6 L423.1,264.4 L424.1,265.1 L425.1,265.8 L426.1,266.3 L427.1,266.7 L428.1,267.1 L429.1,267.5 L430.1,267.7 L431.1,267.9 L432.1,267.9 L433.1,267.9 L434.1,267.9 L435.1,267.9 L436.1,267.9 L437.1,267.9 L438.1,267.9 L439.1,267.9 L440.1,267.9 L441.1,267.9 L442.1,267.9 L443.1,267.9 L444.1,267.9 L445.1,267.9 L446.1,267.9 L447.1,267.9 L448.1,267.9 L449.1,267.9 L450.1,267.9 L451.1,267.9 L452.1,267.9 L452.1,269.0 Z" fill="#fcfae8"/>
<path d="M253.8,269.0 L253.8,269.0 L254.8,269.0 L255.8,269.0 L256.8,269.0 L257.8,269.0 L258.8,269.0 L259.8,269.0 L260.8,269.0 L261.8,269.0 L262.8,269.0 L263.8,269.0 L264.8,269.0 L265.8,269.0 L266.8,269.0 L267.8,269.0 L268.8,269.0 L269.8,269.0 L270.8,269.0 L271.8,269.0 L272.8,269.0 L273.8,269.0 L274.8,269.0 L275.8,269.0 L276.8,269.0 L277.8,269.0 L278.8,269.0 L279.8,269.0 L280.8,268.9 L281.8,268.9 L282.8,268.9 L283.8,268.9 L284.8,268.9 L285.8,268.9 L286.9,268.9 L287.9,268.9 L288.9,268.9 L289.9,268.9 L290.9,268.9 L291.9,268.9 L292.9,268.9 L293.9,268.9 L294.9,268.9 L295.9,268.9 L296.9,268.9 L297.9,268.9 L298.9,268.9 L299.9,268.9 L300.9,268.9 L301.9,268.9 L302.9,268.9 L303.9,268.9 L304.9,268.9 L305.9,268.9 L306.9,268.9 L307.9,268.9 L308.9,268.9 L309.9,268.9 L310.9,268.9 L311.9,268.9 L312.9,268.9 L313.9,268.9 L314.9,268.9 L315.9,268.9 L316.9,268.9 L317.9,268.9 L318.9,268.9 L319.9,268.9 L320.9,268.9 L321.9,268.9 L322.9,268.9 L323.9,268.9 L324.9,268.9 L325.9,268.9 L326.9,268.9 L327.9,268.9 L328.9,268.9 L329.9,268.9 L330.9,268.9 L331.9,268.9 L332.9,268.8 L333.9,268.8 L334.9,268.8 L335.9,268.8 L336.9,268.8 L337.9,268.8 L338.9,268.8 L339.9,268.8 L340.9,268.8 L341.9,268.8 L342.9,268.8 L343.9,268.8 L344.9,268.8 L345.9,268.8 L346.9,268.8 L347.9,268.8 L348.9,268.7 L349.9,268.7 L350.9,268.7 L351.9,268.7 L352.9,268.7 L354.0,268.7 L355.0,268.7 L356.0,268.7 L357.0,268.6 L358.0,268.6 L359.0,268.6 L360.0,268.6 L361.0,268.6 L362.0,268.6 L363.0,268.5 L364.0,268.5 L365.0,268.5 L366.0,268.5 L367.0,268.4 L368.0,268.4 L369.0,268.4 L370.0,268.3 L371.0,268.3 L372.0,268.2 L373.0,268.2 L374.0,268.1 L375.0,268.1 L376.0,268.0 L377.0,267.9 L378.0,267.9 L379.0,267.8 L380.0,267.7 L381.0,267.5 L382.0,267.4 L383.0,267.2 L384.0,267.0 L385.0,266.7 L386.0,266.4 L387.0,265.9 L388.0,265.3 L389.0,264.5 L390.0,263.5 L391.0,262.2 L392.0,260.7 L393.0,258.8 L394.0,256.6 L395.0,254.2 L396.0,251.6 L397.0,248.8 L398.0,246.2 L399.0,243.8 L400.0,241.8 L401.0,240.4 L402.0,239.9 L403.0,240.1 L404.0,240.7 L405.0,241.8 L406.0,243.2 L407.0,245.0 L408.0,246.9 L409.0,248.9 L410.0,251.0 L411.0,253.0 L412.0,255.0 L413.0,256.8 L414.0,258.4 L415.0,259.9 L416.0,261.2 L417.0,262.4 L418.0,263.3 L419.0,264.1 L420.1,264.8 L421.1,265.4 L422.1,265.8 L423.1,266.2 L424.1,266.5 L425.1,266.8 L426.1,267.0 L427.1,267.1 L428.1,267.3 L429.1,267.4 L430.1,267.5 L431.1,267.6 L432.1,267.7 L433.1,267.8 L434.1,267.9 L435.1,267.9 L436.1,268.0 L437.1,268.0 L438.1,268.1 L439.1,268.1 L440.1,268.2 L441.1,268.2 L442.1,268.2 L443.1,268.3 L444.1,268.3 L445.1,268.3 L446.1,268.4 L447.1,268.4 L448.1,268.4 L449.1,268.4 L450.1,268.5 L451.1,268.5 L452.1,268.5 L452.1,269.0 Z" fill="#b34fe6"/>
<path d="M253.8,269.0 L253.8,268.9 L254.8,268.9 L255.8,268.9 L256.8,268.9 L257.8,268.9 L258.8,268.9 L259.8,268.9 L260.8,268.9 L261.8,268.9 L262.8,268.9 L263.8,268.9 L264.8,268.9 L265.8,268.9 L266.8,268.9 L267.8,268.9 L268.8,268.9 L269.8,268.9 L270.8,268.9 L271.8,268.9 L272.8,268.9 L273.8,268.9 L274.8,268.9 L275.8,268.9 L276.8,268.9 L277.8,268.9 L278.8,268.9 L279.8,268.9 L280.8,268.9 L281.8,268.9 L282.8,268.9 L283.8,268.9 L284.8,268.9 L285.8,268.9 L286.9,268.9 L287.9,268.9 L288.9,268.9 L289.9,268.9 L290.9,268.9 L291.9,268.9 L292.9,268.9 L293.9,268.9 L294.9,268.9 L295.9,268.9 L296.9,268.9 L297.9,268.9 L298.9,268.9 L299.9,268.9 L300.9,268.8 L301.9,268.8 L302.9,268.8 L303.9,268.8 L304.9,268.8 L305.9,268.8 L306.9,268.8 L307.9,268.8 L308.9,268.8 L309.9,268.8 L310.9,268.8 L311.9,268.8 L312.9,268.8 L313.9,268.8 L314.9,268.8 L315.9,268.8 L316.9,268.8 L317.9,268.8 L318.9,268.8 L319.9,268.8 L320.9,268.7 L321.9,268.7 L322.9,268.7 L323.9,268.7 L324.9,268.7 L325.9,268.7 L326.9,268.7 L327.9,268.7 L328.9,268.7 L329.9,268.7 L330.9,268.7 L331.9,268.6 L332.9,268.6 L333.9,268.6 L334.9,268.6 L335.9,268.6 L336.9,268.6 L337.9,268.6 L338.9,268.5 L339.9,268.5 L340.9,268.5 L341.9,268.5 L342.9,268.5 L343.9,268.4 L344.9,268.4 L345.9,268.4 L346.9,268.4 L347.9,268.3 L348.9,268.3 L349.9,268.3 L350.9,268.2 L351.9,268.2 L352.9,268.2 L354.0,268.1 L355.0,268.1 L356.0,268.0 L357.0,267.9 L358.0,267.9 L359.0,267.8 L360.0,267.7 L361.0,267.6 L362.0,267.4 L363.0,267.3 L364.0,267.1 L365.0,266.9 L366.0,266.7 L367.0,266.5 L368.0,266.2 L369.0,265.9 L370.0,265.5 L371.0,265.1 L372.0,264.7 L373.0,264.2 L374.0,263.7 L375.0,263.1 L376.0,262.5 L377.0,261.9 L378.0,261.3 L379.0,260.6 L380.0,260.0 L381.0,259.4 L382.0,258.8 L383.0,258.3 L384.0,257.8 L385.0,257.4 L386.0,257.2 L387.0,257.0 L388.0,257.0 L389.0,257.3 L390.0,257.9 L391.0,258.8 L392.0,259.8 L393.0,260.9 L394.0,262.0 L395.0,263.1 L396.0,264.0 L397.0,264.8 L398.0,265.6 L399.0,266.1 L400.0,266.6 L401.0,267.0 L402.0,267.3 L403.0,267.5 L404.0,267.7 L405.0,267.9 L406.0,268.0 L407.0,268.1 L408.0,268.2 L409.0,268.2 L410.0,268.3 L411.0,268.4 L412.0,268.4 L413.0,268.4 L414.0,268.5 L415.0,268.5 L416.0,268.6 L417.0,268.6 L418.0,268.6 L419.0,268.6 L420.1,268.7 L421.1,268.7 L422.1,268.7 L423.1,268.7 L424.1,268.7 L425.1,268.7 L426.1,268.7 L427.1,268.8 L428.1,268.8 L429.1,268.8 L430.1,268.8 L431.1,268.8 L432.1,268.8 L433.1,268.8 L434.1,268.8 L435.1,268.8 L436.1,268.8 L437.1,268.8 L438.1,268.9 L439.1,268.9 L440.1,268.9 L441.1,268.9 L442.1,268.9 L443.1,268.9 L444.1,268.9 L445.1,268.9 L446.1,268.9 L447.1,268.9 L448.1,268.9 L449.1,268.9 L450.1,268.9 L451.1,268.9 L452.1,268.9 L452.1,269.0 Z" fill="url(#pg)" stroke="#22cc22" stroke-width="1.0"/>
<path d="M253.8,269.0 L253.8,269.0 L254.8,269.0 L255.8,269.0 L256.8,269.0 L257.8,269.0 L258.8,269.0 L259.8,269.0 L260.8,269.0 L261.8,269.0 L262.8,269.0 L263.8,269.0 L264.8,269.0 L265.8,269.0 L266.8,269.0 L267.8,269.0 L268.8,269.0 L269.8,269.0 L270.8,269.0 L271.8,269.0 L272.8,269.0 L273.8,269.0 L274.8,269.0 L275.8,269.0 L276.8,269.0 L277.8,269.0 L278.8,269.0 L279.8,269.0 L280.8,268.9 L281.8,268.9 L282.8,268.9 L283.8,268.9 L284.8,268.9 L285.8,268.9 L286.9,268.9 L287.9,268.9 L288.9,268.9 L289.9,268.9 L290.9,268.9 L291.9,268.9 L292.9,268.9 L293.9,268.9 L294.9,268.9 L295.9,268.9 L296.9,268.9 L297.9,268.9 L298.9,268.9 L299.9,268.9 L300.9,268.9 L301.9,268.9 L302.9,268.9 L303.9,268.9 L304.9,268.9 L305.9,268.9 L306.9,268.9 L307.9,268.9 L308.9,268.9 L309.9,268.9 L310.9,268.9 L311.9,268.9 L312.9,268.9 L313.9,268.9 L314.9,268.9 L315.9,268.9 L316.9,268.9 L317.9,268.9 L318.9,268.9 L319.9,268.9 L320.9,268.9 L321.9,268.9 L322.9,268.9 L323.9,268.9 L324.9,268.9 L325.9,268.9 L326.9,268.9 L327.9,268.9 L328.9,268.9 L329.9,268.9 L330.9,268.9 L331.9,268.9 L332.9,268.8 L333.9,268.8 L334.9,268.8 L335.9,268.8 L336.9,268.8 L337.9,268.8 L338.9,268.8 L339.9,268.8 L340.9,268.8 L341.9,268.8 L342.9,268.8 L343.9,268.8 L344.9,268.8 L345.9,268.8 L346.9,268.8 L347.9,268.8 L348.9,268.7 L349.9,268.7 L350.9,268.7 L351.9,268.7 L352.9,268.7 L354.0,268.7 L355.0,268.7 L356.0,268.7 L357.0,268.6 L358.0,268.6 L359.0,268.6 L360.0,268.6 L361.0,268.6 L362.0,268.6 L363.0,268.5 L364.0,268.5 L365.0,268.5 L366.0,268.5 L367.0,268.4 L368.0,268.4 L369.0,268.4 L370.0,268.3 L371.0,268.3 L372.0,268.2 L373.0,268.2 L374.0,268.1 L375.0,268.1 L376.0,268.0 L377.0,267.9 L378.0,267.9 L379.0,267.8 L380.0,267.7 L381.0,267.5 L382.0,267.4 L383.0,267.2 L384.0,267.0 L385.0,266.7 L386.0,266.4 L387.0,265.9 L388.0,265.3 L389.0,264.5 L390.0,263.5 L391.0,262.2 L392.0,260.7 L393.0,259.0 L394.0,259.7 L395.0,260.4 L396.0,261.2 L397.0,261.9 L398.0,262.6 L399.0,263.3 L400.0,263.9 L401.0,264.5 L402.0,265.0 L403.0,265.5 L404.0,265.9 L405.0,266.3 L406.0,266.6 L407.0,266.9 L408.0,267.1 L409.0,267.3 L410.0,267.4 L411.0,267.6 L412.0,267.7 L413.0,267.8 L414.0,267.9 L415.0,268.0 L416.0,268.1 L417.0,268.1 L418.0,268.2 L419.0,268.2 L420.1,268.3 L421.1,268.3 L422.1,268.3 L423.1,268.4 L424.1,268.4 L425.1,268.4 L426.1,268.5 L427.1,268.5 L428.1,268.5 L429.1,268.5 L430.1,268.5 L431.1,268.6 L432.1,268.6 L433.1,268.6 L434.1,268.6 L435.1,268.6 L436.1,268.6 L437.1,268.7 L438.1,268.7 L439.1,268.7 L440.1,268.7 L441.1,268.7 L442.1,268.7 L443.1,268.7 L444.1,268.7 L445.1,268.7 L446.1,268.8 L447.1,268.8 L448.1,268.8 L449.1,268.8 L450.1,268.8 L451.1,268.8 L452.1,268.8 L452.1,269.0 Z" fill="url(#pk)" stroke="#30b030" stroke-width="0.8"/>
<path d="M253.8,269.0 L253.8,268.9 L254.8,268.9 L255.8,268.9 L256.8,268.8 L257.8,268.8 L258.8,268.8 L259.8,268.8 L260.8,268.8 L261.8,268.8 L262.8,268.7 L263.8,268.7 L264.8,268.7 L265.8,268.7 L266.8,268.7 L267.8,268.6 L268.8,268.6 L269.8,268.6 L270.8,268.6 L271.8,268.5 L272.8,268.5 L273.8,268.5 L274.8,268.4 L275.8,268.4 L276.8,268.4 L277.8,268.3 L278.8,268.3 L279.8,268.3 L280.8,268.2 L281.8,268.2 L282.8,268.2 L283.8,268.1 L284.8,268.1 L285.8,268.1 L286.9,268.0 L287.9,268.0 L288.9,267.9 L289.9,267.9 L290.9,267.9 L291.9,267.8 L292.9,267.8 L293.9,267.8 L294.9,267.7 L295.9,267.7 L296.9,267.7 L297.9,267.6 L298.9,267.6 L299.9,267.6 L300.9,267.6 L301.9,267.5 L302.9,267.5 L303.9,267.5 L304.9,267.4 L305.9,267.4 L306.9,267.4 L307.9,267.4 L308.9,267.3 L309.9,267.3 L310.9,267.3 L311.9,267.3 L312.9,267.2 L313.9,267.2 L314.9,267.2 L315.9,267.1 L316.9,267.1 L317.9,267.0 L318.9,267.0 L319.9,266.9 L320.9,266.9 L321.9,266.8 L322.9,266.8 L323.9,266.7 L324.9,266.6 L325.9,266.5 L326.9,266.5 L327.9,266.4 L328.9,266.3 L329.9,266.2 L330.9,266.1 L331.9,266.0 L332.9,265.9 L333.9,265.8 L334.9,265.7 L335.9,265.6 L336.9,265.5 L337.9,265.4 L338.9,265.3 L339.9,265.2 L340.9,265.1 L341.9,265.0 L342.9,264.9 L343.9,264.8 L344.9,264.8 L345.9,264.7 L346.9,264.7 L347.9,264.6 L348.9,264.6 L349.9,264.6 L350.9,264.6 L351.9,264.6 L352.9,264.7 L354.0,264.7 L355.0,264.8 L356.0,264.8 L357.0,264.9 L358.0,265.0 L359.0,265.1 L360.0,265.2 L361.0,265.3 L362.0,265.5 L363.0,265.6 L364.0,265.7 L365.0,265.9 L366.0,266.0 L367.0,266.2 L368.0,266.3 L369.0,266.5 L370.0,266.6 L371.0,266.8 L372.0,266.9 L373.0,267.1 L374.0,267.2 L375.0,267.3 L376.0,267.5 L377.0,267.6 L378.0,267.7 L379.0,267.8 L380.0,267.9 L381.0,268.0 L382.0,268.1 L383.0,268.2 L384.0,268.3 L385.0,268.4 L386.0,268.4 L387.0,268.5 L388.0,268.6 L389.0,268.6 L390.0,268.7 L391.0,268.7 L392.0,268.7 L393.0,268.8 L394.0,268.8 L395.0,268.8 L396.0,268.9 L397.0,268.9 L398.0,268.9 L399.0,268.9 L400.0,268.9 L401.0,268.9 L402.0,268.9 L403.0,269.0 L404.0,269.0 L405.0,269.0 L406.0,269.0 L407.0,269.0 L408.0,269.0 L409.0,269.0 L410.0,269.0 L411.0,269.0 L412.0,269.0 L413.0,269.0 L414.0,269.0 L415.0,269.0 L416.0,269.0 L417.0,269.0 L418.0,269.0 L419.0,269.0 L420.1,269.0 L421.1,269.0 L422.1,269.0 L423.1,269.0 L424.1,269.0 L425.1,269.0 L426.1,269.0 L427.1,269.0 L428.1,269.0 L429.1,269.0 L430.1,269.0 L431.1,269.0 L432.1,269.0 L433.1,269.0 L434.1,269.0 L435.1,269.0 L436.1,269.0 L437.1,269.0 L438.1,269.0 L439.1,269.0 L440.1,269.0 L441.1,269.0 L442.1,269.0 L443.1,269.0 L444.1,269.0 L445.1,269.0 L446.1,269.0 L447.1,269.0 L448.1,269.0 L449.1,269.0 L450.1,269.0 L451.1,269.0 L452.1,269.0 L452.1,269.0 Z" fill="url(#pb)"/>
<path d="M298.9,267.1 L299.9,267.1 L300.9,267.0 L301.9,267.0 L302.9,267.0 L303.9,266.9 L304.9,266.9 L305.9,266.9 L306.9,266.8 L307.9,266.8 L308.9,266.8 L309.9,266.7 L310.9,266.7 L311.9,266.7 L312.9,266.6 L313.9,266.6 L314.9,266.6 L315.9,266.5 L316.9,266.5 L317.9,266.4 L318.9,266.3 L319.9,266.3 L320.9,266.2 L321.9,266.2 L322.9,266.1 L323.9,266.0 L324.9,265.9 L325.9,265.8 L326.9,265.7 L327.9,265.6 L328.9,265.5 L329.9,265.4 L330.9,265.3 L331.9,265.2 L332.9,265.1 L333.9,264.9 L334.9,264.8 L335.9,264.7 L336.9,264.6 L337.9,264.4 L338.9,264.3 L339.9,264.2 L340.9,264.1 L341.9,264.0 L342.9,263.9 L343.9,263.8 L344.9,263.7 L345.9,263.6 L346.9,263.5 L347.9,263.4 L348.9,263.4 L349.9,263.3 L350.9,263.3 L351.9,263.2 L352.9,263.2 L354.0,263.2 L355.0,263.2 L356.0,263.2 L357.0,263.2 L358.0,263.2 L359.0,263.2 L360.0,263.2 L361.0,263.2 L362.0,263.2 L363.0,263.1 L364.0,263.1 L365.0,263.0 L366.0,262.9 L367.0,262.8 L368.0,262.6 L369.0,262.4 L370.0,262.2 L371.0,261.9 L372.0,261.6 L373.0,261.2 L374.0,260.7 L375.0,260.2 L376.0,259.7 L377.0,259.2 L378.0,258.6 L379.0,257.9 L380.0,257.3 L381.0,256.6 L382.0,256.0 L383.0,255.4 L384.0,254.8 L385.0,254.2 L386.0,253.7 L387.0,253.1 L388.0,252.5 L389.0,252.1 L390.0,251.7 L391.0,251.4 L392.0,250.9 L393.0,250.2 L394.0,249.1 L395.0,247.8 L396.0,246.1 L397.0,244.3 L398.0,242.3 L399.0,240.5 L400.0,239.0 L401.0,238.1 L402.0,237.8 L403.0,238.3 L404.0,239.1 L405.0,240.3 L406.0,241.9 L407.0,243.7 L408.0,245.7 L409.0,247.9 L410.0,250.0 L411.0,252.1 L412.0,254.1 L413.0,255.9 L414.0,257.6 L415.0,259.1 L416.0,260.5 L417.0,261.6 L418.0,262.6 L419.0,263.5 L420.1,264.2 L421.1,264.7 L422.1,265.2 L423.1,265.6 L424.1,265.9 L425.1,266.2 L426.1,266.4 L427.1,266.6 L428.1,266.8 L429.1,266.9 L430.1,267.0" fill="none" stroke="#f0309c" stroke-width="2.1" stroke-linecap="round" stroke-dasharray="0.1,3.7"/>
<path d="M253.8,267.9 L254.8,267.9 L255.8,267.9 L256.8,267.9 L257.8,267.9 L258.8,267.9 L259.8,267.9 L260.8,267.9 L261.8,267.9 L262.8,267.9 L263.8,267.9 L264.8,267.9 L265.8,267.9 L266.8,267.9 L267.8,267.9 L268.8,267.9 L269.8,267.9 L270.8,267.9 L271.8,267.9 L272.8,267.9 L273.8,267.9 L274.8,267.9 L275.8,267.9 L276.8,267.9 L277.8,267.9 L278.8,267.9 L279.8,267.9 L280.8,267.9 L281.8,267.9 L282.8,267.9 L283.8,267.9 L284.8,267.9 L285.8,267.9 L286.9,267.9 L287.9,267.9 L288.9,267.9 L289.9,267.9 L290.9,267.9 L291.9,267.9 L292.9,267.9 L293.9,267.9 L294.9,267.9 L295.9,267.9 L296.9,267.9 L297.9,267.8 L298.9,267.7 L299.9,267.7 L300.9,267.6 L301.9,267.5 L302.9,267.5 L303.9,267.4 L304.9,267.3 L305.9,267.3 L306.9,267.2 L307.9,267.1 L308.9,267.0 L309.9,267.0 L310.9,266.9 L311.9,266.8 L312.9,266.7 L313.9,266.6 L314.9,266.5 L315.9,266.5 L316.9,266.4 L317.9,266.3 L318.9,266.2 L319.9,266.1 L320.9,266.0 L321.9,266.0 L322.9,265.9 L323.9,265.8 L324.9,265.7 L325.9,265.6 L326.9,265.6 L327.9,265.5 L328.9,265.4 L329.9,265.3 L330.9,265.2 L331.9,265.2 L332.9,265.1 L333.9,265.0 L334.9,265.0 L335.9,264.9 L336.9,264.8 L337.9,264.8 L338.9,264.7 L339.9,264.7 L340.9,264.6 L341.9,264.5 L342.9,264.5 L343.9,264.4 L344.9,264.4 L345.9,264.3 L346.9,264.2 L347.9,264.2 L348.9,264.1 L349.9,264.0 L350.9,263.9 L351.9,263.8 L352.9,263.7 L354.0,263.6 L355.0,263.5 L356.0,263.4 L357.0,263.2 L358.0,263.1 L359.0,262.9 L360.0,262.7 L361.0,262.5 L362.0,262.2 L363.0,262.0 L364.0,261.7 L365.0,261.4 L366.0,261.1 L367.0,260.8 L368.0,260.4 L369.0,260.1 L370.0,259.7 L371.0,259.3 L372.0,258.9 L373.0,258.5 L374.0,258.1 L375.0,257.7 L376.0,257.3 L377.0,256.9 L378.0,256.5 L379.0,256.1 L380.0,255.7 L381.0,255.3 L382.0,254.8 L383.0,254.3 L384.0,253.8 L385.0,253.3 L386.0,252.7 L387.0,252.0 L388.0,251.3 L389.0,250.5 L390.0,249.6 L391.0,248.7 L392.0,247.7 L393.0,246.7 L394.0,245.6 L395.0,244.5 L396.0,243.5 L397.0,242.6 L398.0,241.8 L399.0,241.2 L400.0,240.8 L401.0,240.6 L402.0,240.7 L403.0,241.0 L404.0,241.6 L405.0,242.3 L406.0,243.2 L407.0,244.3 L408.0,245.5 L409.0,246.8 L410.0,248.1 L411.0,249.6 L412.0,251.1 L413.0,252.6 L414.0,254.0 L415.0,255.5 L416.0,256.9 L417.0,258.2 L418.0,259.5 L419.0,260.7 L420.1,261.8 L421.1,262.8 L422.1,263.6 L423.1,264.4 L424.1,265.1 L425.1,265.8 L426.1,266.3 L427.1,266.7 L428.1,267.1 L429.1,267.5 L430.1,267.7 L431.1,267.9 L432.1,267.9 L433.1,267.9 L434.1,267.9 L435.1,267.9 L436.1,267.9 L437.1,267.9 L438.1,267.9 L439.1,267.9 L440.1,267.9 L441.1,267.9 L442.1,267.9 L443.1,267.9 L444.1,267.9 L445.1,267.9 L446.1,267.9 L447.1,267.9 L448.1,267.9 L449.1,267.9 L450.1,267.9 L451.1,267.9 L452.1,267.9" fill="none" stroke="#1a1a1a" stroke-width="1.3"/>
<line x1="253.0" y1="268.7" x2="452.9" y2="268.7" stroke="#1f2ee0" stroke-width="2.2"/>
<path d="M483.4,41.8 L483.4,40.6 L484.4,40.3 L485.4,41.1 L486.4,40.3 L487.4,40.9 L488.4,40.7 L489.4,40.3 L490.4,41.0 L491.4,40.3 L492.4,40.9 L493.4,40.4 L494.4,40.4 L495.4,40.9 L496.4,41.5 L497.4,40.5 L498.4,40.7 L499.4,41.2 L500.5,41.7 L501.5,41.2 L502.5,40.9 L503.5,41.7 L504.5,40.4 L505.5,41.5 L506.5,40.7 L507.5,40.5 L508.5,40.5 L509.5,40.8 L510.5,41.5 L511.5,40.6 L512.5,41.1 L513.5,41.2 L514.5,40.8 L515.5,41.1 L516.5,40.4 L517.5,40.4 L518.5,40.6 L519.5,41.2 L520.5,40.8 L521.5,40.7 L522.5,41.0 L523.5,40.8 L524.5,40.6 L525.5,41.3 L526.5,41.1 L527.5,40.5 L528.5,40.9 L529.5,40.8 L530.5,41.2 L531.5,41.0 L532.5,40.3 L533.6,41.3 L534.6,40.0 L535.6,40.4 L536.6,40.8 L537.6,39.9 L538.6,40.3 L539.6,39.6 L540.6,40.5 L541.6,40.6 L542.6,40.3 L543.6,40.7 L544.6,39.9 L545.6,40.4 L546.6,40.3 L547.6,40.2 L548.6,40.0 L549.6,40.5 L550.6,40.6 L551.6,39.9 L552.6,40.1 L553.6,39.2 L554.6,40.0 L555.6,39.9 L556.6,40.3 L557.6,40.0 L558.6,39.1 L559.6,39.1 L560.6,39.4 L561.6,38.3 L562.6,38.8 L563.6,38.2 L564.6,38.0 L565.6,37.8 L566.6,38.6 L567.7,37.5 L568.7,37.4 L569.7,37.2 L570.7,37.4 L571.7,35.8 L572.7,35.9 L573.7,35.6 L574.7,35.7 L575.7,35.3 L576.7,35.2 L577.7,34.0 L578.7,33.7 L579.7,32.8 L580.7,32.5 L581.7,31.2 L582.7,28.5 L583.7,26.8 L584.7,24.9 L585.7,23.0 L586.7,21.6 L587.7,20.1 L588.7,18.4 L589.7,16.9 L590.7,16.7 L591.7,15.9 L592.7,15.6 L593.7,15.5 L594.7,14.6 L595.7,14.0 L596.7,14.0 L597.7,14.3 L598.7,14.1 L599.7,16.2 L600.8,17.3 L601.8,18.9 L602.8,20.3 L603.8,21.3 L604.8,22.8 L605.8,23.8 L606.8,26.0 L607.8,26.7 L608.8,28.0 L609.8,29.4 L610.8,30.4 L611.8,31.5 L612.8,31.8 L613.8,32.1 L614.8,32.5 L615.8,32.4 L616.8,32.6 L617.8,31.9 L618.8,32.8 L619.8,32.1 L620.8,31.2 L621.8,31.1 L622.8,31.1 L623.8,31.1 L624.8,31.0 L625.8,32.4 L626.8,33.2 L627.8,33.2 L628.8,34.1 L629.8,34.4 L630.8,35.4 L631.8,36.8 L632.8,37.6 L633.9,39.3 L634.9,39.1 L635.9,39.5 L636.9,41.2 L637.9,41.0 L638.9,40.7 L639.9,41.5 L640.9,41.0 L641.9,41.9 L642.9,42.7 L643.9,42.7 L644.9,42.6 L645.9,42.1 L646.9,42.3 L647.9,42.2 L648.9,43.1 L649.9,42.9 L650.9,43.3 L651.9,42.7 L652.9,42.7 L653.9,43.6 L654.9,43.9 L655.9,43.7 L656.9,43.7 L657.9,43.8 L658.9,43.8 L659.9,43.1 L660.9,43.6 L661.9,43.4 L662.9,43.0 L663.9,43.1 L664.9,43.5 L665.9,43.5 L666.9,44.1 L668.0,44.6 L669.0,43.9 L670.0,44.6 L671.0,44.7 L672.0,44.7 L673.0,44.0 L674.0,43.8 L675.0,43.8 L676.0,43.8 L677.0,43.9 L678.0,44.5 L679.0,45.0 L680.0,44.9 L681.0,44.4 L682.0,44.7 L683.0,44.9 L684.0,43.9 L684.0,45.5 Z" fill="#fcfaec"/>
<path d="M483.4,41.8 L483.4,41.8 L484.4,41.8 L485.4,41.8 L486.4,41.8 L487.4,41.8 L488.4,41.8 L489.4,41.9 L490.4,41.9 L491.4,41.9 L492.4,41.9 L493.4,41.9 L494.4,41.9 L495.4,42.0 L496.4,42.0 L497.4,42.0 L498.4,42.0 L499.4,42.0 L500.5,42.0 L501.5,42.1 L502.5,42.1 L503.5,42.1 L504.5,42.1 L505.5,42.1 L506.5,42.1 L507.5,42.2 L508.5,42.2 L509.5,42.2 L510.5,42.2 L511.5,42.2 L512.5,42.2 L513.5,42.3 L514.5,42.3 L515.5,42.3 L516.5,42.3 L517.5,42.3 L518.5,42.3 L519.5,42.4 L520.5,42.4 L521.5,42.4 L522.5,42.4 L523.5,42.4 L524.5,42.4 L525.5,42.4 L526.5,42.5 L527.5,42.5 L528.5,42.5 L529.5,42.5 L530.5,42.5 L531.5,42.5 L532.5,42.5 L533.6,42.5 L534.6,42.6 L535.6,42.6 L536.6,42.6 L537.6,42.6 L538.6,42.6 L539.6,42.6 L540.6,42.6 L541.6,42.6 L542.6,42.6 L543.6,42.7 L544.6,42.7 L545.6,42.7 L546.6,42.7 L547.6,42.7 L548.6,42.7 L549.6,42.7 L550.6,42.7 L551.6,42.7 L552.6,42.7 L553.6,42.7 L554.6,42.7 L555.6,42.7 L556.6,42.7 L557.6,42.7 L558.6,42.7 L559.6,42.7 L560.6,42.7 L561.6,42.7 L562.6,42.7 L563.6,42.7 L564.6,42.6 L565.6,42.6 L566.6,42.6 L567.7,42.6 L568.7,42.5 L569.7,42.5 L570.7,42.4 L571.7,42.4 L572.7,42.3 L573.7,42.3 L574.7,42.2 L575.7,42.1 L576.7,42.0 L577.7,41.9 L578.7,41.7 L579.7,41.5 L580.7,41.3 L581.7,41.0 L582.7,40.6 L583.7,40.1 L584.7,39.5 L585.7,38.7 L586.7,37.7 L587.7,36.4 L588.7,35.0 L589.7,33.3 L590.7,31.4 L591.7,29.3 L592.7,27.2 L593.7,25.1 L594.7,23.2 L595.7,21.8 L596.7,20.8 L597.7,20.6 L598.7,21.0 L599.7,22.1 L600.8,23.6 L601.8,25.6 L602.8,27.7 L603.8,29.8 L604.8,31.9 L605.8,33.8 L606.8,35.5 L607.8,37.0 L608.8,38.2 L609.8,39.2 L610.8,40.0 L611.8,40.6 L612.8,41.2 L613.8,41.6 L614.8,41.9 L615.8,42.2 L616.8,42.4 L617.8,42.6 L618.8,42.8 L619.8,42.9 L620.8,43.0 L621.8,43.1 L622.8,43.2 L623.8,43.3 L624.8,43.4 L625.8,43.5 L626.8,43.6 L627.8,43.7 L628.8,43.7 L629.8,43.8 L630.8,43.8 L631.8,43.9 L632.8,44.0 L633.9,44.0 L634.9,44.0 L635.9,44.1 L636.9,44.1 L637.9,44.2 L638.9,44.2 L639.9,44.3 L640.9,44.3 L641.9,44.3 L642.9,44.4 L643.9,44.4 L644.9,44.4 L645.9,44.5 L646.9,44.5 L647.9,44.5 L648.9,44.6 L649.9,44.6 L650.9,44.6 L651.9,44.6 L652.9,44.7 L653.9,44.7 L654.9,44.7 L655.9,44.7 L656.9,44.8 L657.9,44.8 L658.9,44.8 L659.9,44.8 L660.9,44.9 L661.9,44.9 L662.9,44.9 L663.9,44.9 L664.9,45.0 L665.9,45.0 L666.9,45.0 L668.0,45.0 L669.0,45.1 L670.0,45.1 L671.0,45.1 L672.0,45.1 L673.0,45.1 L674.0,45.2 L675.0,45.2 L676.0,45.2 L677.0,45.2 L678.0,45.3 L679.0,45.3 L680.0,45.3 L681.0,45.3 L682.0,45.3 L683.0,45.4 L684.0,45.4 L684.0,45.5 Z" fill="#2ac41e"/>
<path d="M483.4,41.8 L483.4,41.8 L484.4,41.8 L485.4,41.8 L486.4,41.8 L487.4,41.8 L488.4,41.9 L489.4,41.9 L490.4,41.9 L491.4,41.9 L492.4,41.9 L493.4,42.0 L494.4,42.0 L495.4,42.0 L496.4,42.0 L497.4,42.0 L498.4,42.0 L499.4,42.1 L500.5,42.1 L501.5,42.1 L502.5,42.1 L503.5,42.1 L504.5,42.1 L505.5,42.2 L506.5,42.2 L507.5,42.2 L508.5,42.2 L509.5,42.2 L510.5,42.3 L511.5,42.3 L512.5,42.3 L513.5,42.3 L514.5,42.3 L515.5,42.3 L516.5,42.4 L517.5,42.4 L518.5,42.4 L519.5,42.4 L520.5,42.4 L521.5,42.4 L522.5,42.5 L523.5,42.5 L524.5,42.5 L525.5,42.5 L526.5,42.5 L527.5,42.5 L528.5,42.6 L529.5,42.6 L530.5,42.6 L531.5,42.6 L532.5,42.6 L533.6,42.6 L534.6,42.7 L535.6,42.7 L536.6,42.7 L537.6,42.7 L538.6,42.7 L539.6,42.7 L540.6,42.7 L541.6,42.8 L542.6,42.8 L543.6,42.8 L544.6,42.8 L545.6,42.8 L546.6,42.8 L547.6,42.9 L548.6,42.9 L549.6,42.9 L550.6,42.9 L551.6,42.9 L552.6,42.9 L553.6,42.9 L554.6,43.0 L555.6,43.0 L556.6,43.0 L557.6,43.0 L558.6,43.0 L559.6,43.0 L560.6,43.0 L561.6,43.0 L562.6,43.1 L563.6,43.1 L564.6,43.1 L565.6,43.1 L566.6,43.1 L567.7,43.1 L568.7,43.1 L569.7,43.1 L570.7,43.1 L571.7,43.1 L572.7,43.2 L573.7,43.2 L574.7,43.2 L575.7,43.2 L576.7,43.2 L577.7,43.2 L578.7,43.2 L579.7,43.2 L580.7,43.2 L581.7,43.2 L582.7,43.2 L583.7,43.2 L584.7,43.2 L585.7,43.2 L586.7,43.2 L587.7,43.1 L588.7,43.1 L589.7,43.1 L590.7,43.1 L591.7,43.1 L592.7,43.0 L593.7,43.0 L594.7,43.0 L595.7,42.9 L596.7,42.9 L597.7,42.8 L598.7,42.7 L599.7,42.6 L600.8,42.5 L601.8,42.3 L602.8,42.2 L603.8,41.9 L604.8,41.7 L605.8,41.4 L606.8,41.0 L607.8,40.6 L608.8,40.2 L609.8,39.6 L610.8,39.1 L611.8,38.5 L612.8,37.8 L613.8,37.1 L614.8,36.4 L615.8,35.7 L616.8,35.1 L617.8,34.5 L618.8,34.0 L619.8,33.6 L620.8,33.3 L621.8,33.2 L622.8,33.3 L623.8,33.6 L624.8,34.2 L625.8,34.8 L626.8,35.6 L627.8,36.5 L628.8,37.4 L629.8,38.2 L630.8,39.0 L631.8,39.8 L632.8,40.5 L633.9,41.1 L634.9,41.6 L635.9,42.0 L636.9,42.4 L637.9,42.7 L638.9,43.0 L639.9,43.2 L640.9,43.4 L641.9,43.6 L642.9,43.7 L643.9,43.8 L644.9,43.9 L645.9,44.0 L646.9,44.1 L647.9,44.1 L648.9,44.2 L649.9,44.3 L650.9,44.3 L651.9,44.4 L652.9,44.4 L653.9,44.5 L654.9,44.5 L655.9,44.5 L656.9,44.6 L657.9,44.6 L658.9,44.7 L659.9,44.7 L660.9,44.7 L661.9,44.8 L662.9,44.8 L663.9,44.8 L664.9,44.9 L665.9,44.9 L666.9,44.9 L668.0,45.0 L669.0,45.0 L670.0,45.0 L671.0,45.0 L672.0,45.1 L673.0,45.1 L674.0,45.1 L675.0,45.1 L676.0,45.2 L677.0,45.2 L678.0,45.2 L679.0,45.2 L680.0,45.3 L681.0,45.3 L682.0,45.3 L683.0,45.3 L684.0,45.4 L684.0,45.5 Z" fill="url(#pm)"/>
<path d="M483.4,41.8 L483.4,41.8 L484.4,41.8 L485.4,41.8 L486.4,41.8 L487.4,41.9 L488.4,41.9 L489.4,41.9 L490.4,41.9 L491.4,41.9 L492.4,41.9 L493.4,42.0 L494.4,42.0 L495.4,42.0 L496.4,42.0 L497.4,42.0 L498.4,42.0 L499.4,42.1 L500.5,42.1 L501.5,42.1 L502.5,42.1 L503.5,42.1 L504.5,42.1 L505.5,42.2 L506.5,42.2 L507.5,42.2 L508.5,42.2 L509.5,42.2 L510.5,42.2 L511.5,42.3 L512.5,42.3 L513.5,42.3 L514.5,42.3 L515.5,42.3 L516.5,42.3 L517.5,42.3 L518.5,42.4 L519.5,42.4 L520.5,42.4 L521.5,42.4 L522.5,42.4 L523.5,42.4 L524.5,42.4 L525.5,42.4 L526.5,42.4 L527.5,42.4 L528.5,42.4 L529.5,42.4 L530.5,42.4 L531.5,42.4 L532.5,42.3 L533.6,42.3 L534.6,42.3 L535.6,42.3 L536.6,42.2 L537.6,42.2 L538.6,42.2 L539.6,42.1 L540.6,42.1 L541.6,42.0 L542.6,41.9 L543.6,41.9 L544.6,41.8 L545.6,41.7 L546.6,41.6 L547.6,41.6 L548.6,41.5 L549.6,41.4 L550.6,41.3 L551.6,41.2 L552.6,41.1 L553.6,41.0 L554.6,40.9 L555.6,40.8 L556.6,40.7 L557.6,40.6 L558.6,40.4 L559.6,40.3 L560.6,40.2 L561.6,40.1 L562.6,40.0 L563.6,40.0 L564.6,39.9 L565.6,39.8 L566.6,39.7 L567.7,39.6 L568.7,39.5 L569.7,39.4 L570.7,39.4 L571.7,39.3 L572.7,39.1 L573.7,39.0 L574.7,38.8 L575.7,38.6 L576.7,38.3 L577.7,37.8 L578.7,37.3 L579.7,36.5 L580.7,35.6 L581.7,34.6 L582.7,33.3 L583.7,32.0 L584.7,30.7 L585.7,29.5 L586.7,28.5 L587.7,28.0 L588.7,28.0 L589.7,28.6 L590.7,29.7 L591.7,31.0 L592.7,32.6 L593.7,34.1 L594.7,35.7 L595.7,37.0 L596.7,38.2 L597.7,39.2 L598.7,40.0 L599.7,40.7 L600.8,41.2 L601.8,41.6 L602.8,41.9 L603.8,42.2 L604.8,42.4 L605.8,42.6 L606.8,42.8 L607.8,42.9 L608.8,43.1 L609.8,43.2 L610.8,43.3 L611.8,43.4 L612.8,43.5 L613.8,43.5 L614.8,43.6 L615.8,43.7 L616.8,43.7 L617.8,43.8 L618.8,43.9 L619.8,43.9 L620.8,44.0 L621.8,44.0 L622.8,44.0 L623.8,44.1 L624.8,44.1 L625.8,44.2 L626.8,44.2 L627.8,44.2 L628.8,44.3 L629.8,44.3 L630.8,44.3 L631.8,44.3 L632.8,44.4 L633.9,44.4 L634.9,44.4 L635.9,44.5 L636.9,44.5 L637.9,44.5 L638.9,44.5 L639.9,44.5 L640.9,44.6 L641.9,44.6 L642.9,44.6 L643.9,44.6 L644.9,44.7 L645.9,44.7 L646.9,44.7 L647.9,44.7 L648.9,44.7 L649.9,44.8 L650.9,44.8 L651.9,44.8 L652.9,44.8 L653.9,44.9 L654.9,44.9 L655.9,44.9 L656.9,44.9 L657.9,44.9 L658.9,45.0 L659.9,45.0 L660.9,45.0 L661.9,45.0 L662.9,45.0 L663.9,45.1 L664.9,45.1 L665.9,45.1 L666.9,45.1 L668.0,45.1 L669.0,45.2 L670.0,45.2 L671.0,45.2 L672.0,45.2 L673.0,45.2 L674.0,45.3 L675.0,45.3 L676.0,45.3 L677.0,45.3 L678.0,45.3 L679.0,45.4 L680.0,45.4 L681.0,45.4 L682.0,45.4 L683.0,45.4 L684.0,45.4 L684.0,45.5 Z" fill="url(#pbc)"/>
<path d="M483.4,41.8 L483.4,41.8 L484.4,41.8 L485.4,41.8 L486.4,41.8 L487.4,41.9 L488.4,41.9 L489.4,41.9 L490.4,41.9 L491.4,41.9 L492.4,41.9 L493.4,42.0 L494.4,42.0 L495.4,42.0 L496.4,42.0 L497.4,42.0 L498.4,42.0 L499.4,42.1 L500.5,42.1 L501.5,42.1 L502.5,42.1 L503.5,42.1 L504.5,42.1 L505.5,42.2 L506.5,42.2 L507.5,42.2 L508.5,42.2 L509.5,42.2 L510.5,42.2 L511.5,42.3 L512.5,42.3 L513.5,42.3 L514.5,42.3 L515.5,42.3 L516.5,42.3 L517.5,42.3 L518.5,42.4 L519.5,42.4 L520.5,42.4 L521.5,42.4 L522.5,42.4 L523.5,42.4 L524.5,42.4 L525.5,42.4 L526.5,42.5 L527.5,42.5 L528.5,42.5 L529.5,42.5 L530.5,42.5 L531.5,42.5 L532.5,42.5 L533.6,42.5 L534.6,42.6 L535.6,42.6 L536.6,42.6 L537.6,42.6 L538.6,42.6 L539.6,42.6 L540.6,42.6 L541.6,42.6 L542.6,42.6 L543.6,42.7 L544.6,42.7 L545.6,42.7 L546.6,42.7 L547.6,42.7 L548.6,42.7 L549.6,42.7 L550.6,42.7 L551.6,42.7 L552.6,42.7 L553.6,42.7 L554.6,42.7 L555.6,42.7 L556.6,42.7 L557.6,42.7 L558.6,42.7 L559.6,42.7 L560.6,42.7 L561.6,42.7 L562.6,42.7 L563.6,42.7 L564.6,42.6 L565.6,42.6 L566.6,42.6 L567.7,42.6 L568.7,42.5 L569.7,42.5 L570.7,42.4 L571.7,42.4 L572.7,42.3 L573.7,42.3 L574.7,42.2 L575.7,42.1 L576.7,42.0 L577.7,41.9 L578.7,41.7 L579.7,41.5 L580.7,41.3 L581.7,41.0 L582.7,40.6 L583.7,40.1 L584.7,39.5 L585.7,38.7 L586.7,37.7 L587.7,36.4 L588.7,35.0 L589.7,33.3 L590.7,31.4 L591.7,31.0 L592.7,32.6 L593.7,34.1 L594.7,35.7 L595.7,37.0 L596.7,38.2 L597.7,39.2 L598.7,40.0 L599.7,40.7 L600.8,41.2 L601.8,41.6 L602.8,41.9 L603.8,42.2 L604.8,42.4 L605.8,42.6 L606.8,42.8 L607.8,42.9 L608.8,43.1 L609.8,43.2 L610.8,43.3 L611.8,43.4 L612.8,43.5 L613.8,43.5 L614.8,43.6 L615.8,43.7 L616.8,43.7 L617.8,43.8 L618.8,43.9 L619.8,43.9 L620.8,44.0 L621.8,44.0 L622.8,44.0 L623.8,44.1 L624.8,44.1 L625.8,44.2 L626.8,44.2 L627.8,44.2 L628.8,44.3 L629.8,44.3 L630.8,44.3 L631.8,44.3 L632.8,44.4 L633.9,44.4 L634.9,44.4 L635.9,44.5 L636.9,44.5 L637.9,44.5 L638.9,44.5 L639.9,44.5 L640.9,44.6 L641.9,44.6 L642.9,44.6 L643.9,44.6 L644.9,44.7 L645.9,44.7 L646.9,44.7 L647.9,44.7 L648.9,44.7 L649.9,44.8 L650.9,44.8 L651.9,44.8 L652.9,44.8 L653.9,44.9 L654.9,44.9 L655.9,44.9 L656.9,44.9 L657.9,44.9 L658.9,45.0 L659.9,45.0 L660.9,45.0 L661.9,45.0 L662.9,45.0 L663.9,45.1 L664.9,45.1 L665.9,45.1 L666.9,45.1 L668.0,45.1 L669.0,45.2 L670.0,45.2 L671.0,45.2 L672.0,45.2 L673.0,45.2 L674.0,45.3 L675.0,45.3 L676.0,45.3 L677.0,45.3 L678.0,45.3 L679.0,45.4 L680.0,45.4 L681.0,45.4 L682.0,45.4 L683.0,45.4 L684.0,45.4 L684.0,45.5 Z" fill="url(#pgo)"/>
<path d="M547.6,40.8 L548.6,40.7 L549.6,40.6 L550.6,40.5 L551.6,40.4 L552.6,40.3 L553.6,40.1 L554.6,40.0 L555.6,39.9 L556.6,39.8 L557.6,39.6 L558.6,39.5 L559.6,39.3 L560.6,39.2 L561.6,39.1 L562.6,38.9 L563.6,38.8 L564.6,38.7 L565.6,38.5 L566.6,38.4 L567.7,38.3 L568.7,38.1 L569.7,38.0 L570.7,37.8 L571.7,37.6 L572.7,37.4 L573.7,37.2 L574.7,36.9 L575.7,36.6 L576.7,36.1 L577.7,35.5 L578.7,34.7 L579.7,33.8 L580.7,32.6 L581.7,31.2 L582.7,29.5 L583.7,27.7 L584.7,25.7 L585.7,23.6 L586.7,21.6 L587.7,19.9 L588.7,18.4 L589.7,17.2 L590.7,16.2 L591.7,15.4 L592.7,14.7 L593.7,14.0 L594.7,13.4 L595.7,13.0 L596.7,13.0 L597.7,13.3 L598.7,14.0 L599.7,15.2 L600.8,16.8 L601.8,18.5 L602.8,20.4 L603.8,22.2 L604.8,24.0 L605.8,25.7 L606.8,27.2 L607.8,28.5 L608.8,29.6 L609.8,30.5 L610.8,31.2 L611.8,31.7 L612.8,32.0 L613.8,32.2 L614.8,32.2 L615.8,32.1 L616.8,31.9 L617.8,31.7 L618.8,31.5 L619.8,31.3 L620.8,31.3 L621.8,31.3 L622.8,31.6 L623.8,32.0 L624.8,32.6 L625.8,33.4 L626.8,34.2 L627.8,35.2 L628.8,36.1 L629.8,37.0 L630.8,37.9 L631.8,38.7 L632.8,39.4 L633.9,40.0 L634.9,40.6 L635.9,41.1 L636.9,41.5 L637.9,41.8 L638.9,42.1 L639.9,42.4 L640.9,42.6" fill="none" stroke="#f0309c" stroke-width="2.0" stroke-linecap="round" stroke-dasharray="0.1,3.5"/>
<path d="M483.4,40.6 L484.4,40.3 L485.4,41.1 L486.4,40.3 L487.4,40.9 L488.4,40.7 L489.4,40.3 L490.4,41.0 L491.4,40.3 L492.4,40.9 L493.4,40.4 L494.4,40.4 L495.4,40.9 L496.4,41.5 L497.4,40.5 L498.4,40.7 L499.4,41.2 L500.5,41.7 L501.5,41.2 L502.5,40.9 L503.5,41.7 L504.5,40.4 L505.5,41.5 L506.5,40.7 L507.5,40.5 L508.5,40.5 L509.5,40.8 L510.5,41.5 L511.5,40.6 L512.5,41.1 L513.5,41.2 L514.5,40.8 L515.5,41.1 L516.5,40.4 L517.5,40.4 L518.5,40.6 L519.5,41.2 L520.5,40.8 L521.5,40.7 L522.5,41.0 L523.5,40.8 L524.5,40.6 L525.5,41.3 L526.5,41.1 L527.5,40.5 L528.5,40.9 L529.5,40.8 L530.5,41.2 L531.5,41.0 L532.5,40.3 L533.6,41.3 L534.6,40.0 L535.6,40.4 L536.6,40.8 L537.6,39.9 L538.6,40.3 L539.6,39.6 L540.6,40.5 L541.6,40.6 L542.6,40.3 L543.6,40.7 L544.6,39.9 L545.6,40.4 L546.6,40.3 L547.6,40.2 L548.6,40.0 L549.6,40.5 L550.6,40.6 L551.6,39.9 L552.6,40.1 L553.6,39.2 L554.6,40.0 L555.6,39.9 L556.6,40.3 L557.6,40.0 L558.6,39.1 L559.6,39.1 L560.6,39.4 L561.6,38.3 L562.6,38.8 L563.6,38.2 L564.6,38.0 L565.6,37.8 L566.6,38.6 L567.7,37.5 L568.7,37.4 L569.7,37.2 L570.7,37.4 L571.7,35.8 L572.7,35.9 L573.7,35.6 L574.7,35.7 L575.7,35.3 L576.7,35.2 L577.7,34.0 L578.7,33.7 L579.7,32.8 L580.7,32.5 L581.7,31.2 L582.7,28.5 L583.7,26.8 L584.7,24.9 L585.7,23.0 L586.7,21.6 L587.7,20.1 L588.7,18.4 L589.7,16.9 L590.7,16.7 L591.7,15.9 L592.7,15.6 L593.7,15.5 L594.7,14.6 L595.7,14.0 L596.7,14.0 L597.7,14.3 L598.7,14.1 L599.7,16.2 L600.8,17.3 L601.8,18.9 L602.8,20.3 L603.8,21.3 L604.8,22.8 L605.8,23.8 L606.8,26.0 L607.8,26.7 L608.8,28.0 L609.8,29.4 L610.8,30.4 L611.8,31.5 L612.8,31.8 L613.8,32.1 L614.8,32.5 L615.8,32.4 L616.8,32.6 L617.8,31.9 L618.8,32.8 L619.8,32.1 L620.8,31.2 L621.8,31.1 L622.8,31.1 L623.8,31.1 L624.8,31.0 L625.8,32.4 L626.8,33.2 L627.8,33.2 L628.8,34.1 L629.8,34.4 L630.8,35.4 L631.8,36.8 L632.8,37.6 L633.9,39.3 L634.9,39.1 L635.9,39.5 L636.9,41.2 L637.9,41.0 L638.9,40.7 L639.9,41.5 L640.9,41.0 L641.9,41.9 L642.9,42.7 L643.9,42.7 L644.9,42.6 L645.9,42.1 L646.9,42.3 L647.9,42.2 L648.9,43.1 L649.9,42.9 L650.9,43.3 L651.9,42.7 L652.9,42.7 L653.9,43.6 L654.9,43.9 L655.9,43.7 L656.9,43.7 L657.9,43.8 L658.9,43.8 L659.9,43.1 L660.9,43.6 L661.9,43.4 L662.9,43.0 L663.9,43.1 L664.9,43.5 L665.9,43.5 L666.9,44.1 L668.0,44.6 L669.0,43.9 L670.0,44.6 L671.0,44.7 L672.0,44.7 L673.0,44.0 L674.0,43.8 L675.0,43.8 L676.0,43.8 L677.0,43.9 L678.0,44.5 L679.0,45.0 L680.0,44.9 L681.0,44.4 L682.0,44.7 L683.0,44.9 L684.0,43.9" fill="none" stroke="#111" stroke-width="1.2"/>
<line x1="482.6" y1="42.2" x2="684.8" y2="45.9" stroke="#2236e4" stroke-width="1.5"/>
<path d="M483.4,78.6 L483.4,77.8 L484.4,78.2 L485.4,78.0 L486.4,78.0 L487.4,77.6 L488.4,77.2 L489.4,78.1 L490.4,77.5 L491.4,78.1 L492.4,78.4 L493.4,77.6 L494.4,77.6 L495.4,78.4 L496.4,78.1 L497.4,77.3 L498.4,77.3 L499.4,77.3 L500.5,78.4 L501.5,78.3 L502.5,77.4 L503.5,78.3 L504.5,78.6 L505.5,78.1 L506.5,77.7 L507.5,78.0 L508.5,77.4 L509.5,77.3 L510.5,78.6 L511.5,78.2 L512.5,78.0 L513.5,78.6 L514.5,77.9 L515.5,78.6 L516.5,78.5 L517.5,77.7 L518.5,77.7 L519.5,77.8 L520.5,77.7 L521.5,78.2 L522.5,77.8 L523.5,78.0 L524.5,77.6 L525.5,78.7 L526.5,78.0 L527.5,78.1 L528.5,78.3 L529.5,78.8 L530.5,78.1 L531.5,78.8 L532.5,78.3 L533.6,78.3 L534.6,78.3 L535.6,77.6 L536.6,78.2 L537.6,77.9 L538.6,77.7 L539.6,78.8 L540.6,77.9 L541.6,78.3 L542.6,78.7 L543.6,78.4 L544.6,78.1 L545.6,78.3 L546.6,78.3 L547.6,78.6 L548.6,77.6 L549.6,78.2 L550.6,77.7 L551.6,77.6 L552.6,78.2 L553.6,77.7 L554.6,77.6 L555.6,77.7 L556.6,77.8 L557.6,76.9 L558.6,76.9 L559.6,76.5 L560.6,76.2 L561.6,76.2 L562.6,75.5 L563.6,75.3 L564.6,75.0 L565.6,75.3 L566.6,74.7 L567.7,74.8 L568.7,74.6 L569.7,73.3 L570.7,73.3 L571.7,73.3 L572.7,72.6 L573.7,70.9 L574.7,70.2 L575.7,69.9 L576.7,68.7 L577.7,68.3 L578.7,67.4 L579.7,67.3 L580.7,66.4 L581.7,65.1 L582.7,62.4 L583.7,61.1 L584.7,58.9 L585.7,56.0 L586.7,55.1 L587.7,53.8 L588.7,52.0 L589.7,53.0 L590.7,52.9 L591.7,54.3 L592.7,56.6 L593.7,58.2 L594.7,58.9 L595.7,60.7 L596.7,61.9 L597.7,62.5 L598.7,62.9 L599.7,63.9 L600.8,65.6 L601.8,65.8 L602.8,67.8 L603.8,68.9 L604.8,69.3 L605.8,70.5 L606.8,71.4 L607.8,71.4 L608.8,70.5 L609.8,71.3 L610.8,70.3 L611.8,69.7 L612.8,67.5 L613.8,66.7 L614.8,65.4 L615.8,65.6 L616.8,64.2 L617.8,63.5 L618.8,63.6 L619.8,64.2 L620.8,64.3 L621.8,63.8 L622.8,64.2 L623.8,65.9 L624.8,66.2 L625.8,67.3 L626.8,67.4 L627.8,68.5 L628.8,70.4 L629.8,71.2 L630.8,71.9 L631.8,74.3 L632.8,75.1 L633.9,76.3 L634.9,76.2 L635.9,78.1 L636.9,77.6 L637.9,79.2 L638.9,79.0 L639.9,79.1 L640.9,79.7 L641.9,80.3 L642.9,79.4 L643.9,79.2 L644.9,79.8 L645.9,79.4 L646.9,79.2 L647.9,79.3 L648.9,79.2 L649.9,79.4 L650.9,79.6 L651.9,79.6 L652.9,80.2 L653.9,79.6 L654.9,79.9 L655.9,79.5 L656.9,79.7 L657.9,79.3 L658.9,79.6 L659.9,79.3 L660.9,80.3 L661.9,80.1 L662.9,79.6 L663.9,80.0 L664.9,80.6 L665.9,79.5 L666.9,80.5 L668.0,80.0 L669.0,80.1 L670.0,80.6 L671.0,80.0 L672.0,80.1 L673.0,80.4 L674.0,80.8 L675.0,79.9 L676.0,80.6 L677.0,80.5 L678.0,80.4 L679.0,80.1 L680.0,80.0 L681.0,79.6 L682.0,79.7 L683.0,79.7 L684.0,80.6 L684.0,81.3 Z" fill="#fcfaec"/>
<path d="M483.4,78.6 L483.4,78.6 L484.4,78.6 L485.4,78.6 L486.4,78.6 L487.4,78.7 L488.4,78.7 L489.4,78.7 L490.4,78.7 L491.4,78.7 L492.4,78.7 L493.4,78.7 L494.4,78.7 L495.4,78.8 L496.4,78.8 L497.4,78.8 L498.4,78.8 L499.4,78.8 L500.5,78.8 L501.5,78.8 L502.5,78.9 L503.5,78.9 L504.5,78.9 L505.5,78.9 L506.5,78.9 L507.5,78.9 L508.5,78.9 L509.5,78.9 L510.5,79.0 L511.5,79.0 L512.5,79.0 L513.5,79.0 L514.5,79.0 L515.5,79.0 L516.5,79.0 L517.5,79.1 L518.5,79.1 L519.5,79.1 L520.5,79.1 L521.5,79.1 L522.5,79.1 L523.5,79.1 L524.5,79.1 L525.5,79.2 L526.5,79.2 L527.5,79.2 L528.5,79.2 L529.5,79.2 L530.5,79.2 L531.5,79.2 L532.5,79.2 L533.6,79.3 L534.6,79.3 L535.6,79.3 L536.6,79.3 L537.6,79.3 L538.6,79.3 L539.6,79.3 L540.6,79.3 L541.6,79.4 L542.6,79.4 L543.6,79.4 L544.6,79.4 L545.6,79.4 L546.6,79.4 L547.6,79.4 L548.6,79.4 L549.6,79.5 L550.6,79.5 L551.6,79.5 L552.6,79.5 L553.6,79.5 L554.6,79.5 L555.6,79.5 L556.6,79.5 L557.6,79.5 L558.6,79.6 L559.6,79.6 L560.6,79.6 L561.6,79.6 L562.6,79.6 L563.6,79.6 L564.6,79.6 L565.6,79.6 L566.6,79.6 L567.7,79.6 L568.7,79.7 L569.7,79.7 L570.7,79.7 L571.7,79.7 L572.7,79.7 L573.7,79.7 L574.7,79.7 L575.7,79.7 L576.7,79.7 L577.7,79.7 L578.7,79.7 L579.7,79.7 L580.7,79.7 L581.7,79.7 L582.7,79.6 L583.7,79.6 L584.7,79.6 L585.7,79.6 L586.7,79.5 L587.7,79.5 L588.7,79.4 L589.7,79.3 L590.7,79.1 L591.7,78.8 L592.7,78.4 L593.7,77.9 L594.7,77.1 L595.7,76.1 L596.7,75.0 L597.7,73.9 L598.7,72.9 L599.7,72.5 L600.8,72.6 L601.8,73.1 L602.8,73.9 L603.8,74.9 L604.8,76.0 L605.8,76.9 L606.8,77.6 L607.8,78.3 L608.8,78.7 L609.8,79.1 L610.8,79.3 L611.8,79.5 L612.8,79.7 L613.8,79.8 L614.8,79.9 L615.8,79.9 L616.8,80.0 L617.8,80.0 L618.8,80.1 L619.8,80.1 L620.8,80.2 L621.8,80.2 L622.8,80.2 L623.8,80.3 L624.8,80.3 L625.8,80.3 L626.8,80.4 L627.8,80.4 L628.8,80.4 L629.8,80.4 L630.8,80.5 L631.8,80.5 L632.8,80.5 L633.9,80.5 L634.9,80.5 L635.9,80.5 L636.9,80.6 L637.9,80.6 L638.9,80.6 L639.9,80.6 L640.9,80.6 L641.9,80.7 L642.9,80.7 L643.9,80.7 L644.9,80.7 L645.9,80.7 L646.9,80.7 L647.9,80.8 L648.9,80.8 L649.9,80.8 L650.9,80.8 L651.9,80.8 L652.9,80.8 L653.9,80.8 L654.9,80.9 L655.9,80.9 L656.9,80.9 L657.9,80.9 L658.9,80.9 L659.9,80.9 L660.9,80.9 L661.9,81.0 L662.9,81.0 L663.9,81.0 L664.9,81.0 L665.9,81.0 L666.9,81.0 L668.0,81.0 L669.0,81.1 L670.0,81.1 L671.0,81.1 L672.0,81.1 L673.0,81.1 L674.0,81.1 L675.0,81.1 L676.0,81.2 L677.0,81.2 L678.0,81.2 L679.0,81.2 L680.0,81.2 L681.0,81.2 L682.0,81.2 L683.0,81.3 L684.0,81.3 L684.0,81.3 Z" fill="#2ac41e"/>
<path d="M483.4,78.6 L483.4,78.6 L484.4,78.6 L485.4,78.6 L486.4,78.7 L487.4,78.7 L488.4,78.7 L489.4,78.7 L490.4,78.7 L491.4,78.7 L492.4,78.7 L493.4,78.7 L494.4,78.8 L495.4,78.8 L496.4,78.8 L497.4,78.8 L498.4,78.8 L499.4,78.8 L500.5,78.8 L501.5,78.9 L502.5,78.9 L503.5,78.9 L504.5,78.9 L505.5,78.9 L506.5,78.9 L507.5,78.9 L508.5,78.9 L509.5,79.0 L510.5,79.0 L511.5,79.0 L512.5,79.0 L513.5,79.0 L514.5,79.0 L515.5,79.0 L516.5,79.1 L517.5,79.1 L518.5,79.1 L519.5,79.1 L520.5,79.1 L521.5,79.1 L522.5,79.1 L523.5,79.1 L524.5,79.2 L525.5,79.2 L526.5,79.2 L527.5,79.2 L528.5,79.2 L529.5,79.2 L530.5,79.2 L531.5,79.3 L532.5,79.3 L533.6,79.3 L534.6,79.3 L535.6,79.3 L536.6,79.3 L537.6,79.3 L538.6,79.3 L539.6,79.4 L540.6,79.4 L541.6,79.4 L542.6,79.4 L543.6,79.4 L544.6,79.4 L545.6,79.4 L546.6,79.5 L547.6,79.5 L548.6,79.5 L549.6,79.5 L550.6,79.5 L551.6,79.5 L552.6,79.5 L553.6,79.5 L554.6,79.6 L555.6,79.6 L556.6,79.6 L557.6,79.6 L558.6,79.6 L559.6,79.6 L560.6,79.6 L561.6,79.7 L562.6,79.7 L563.6,79.7 L564.6,79.7 L565.6,79.7 L566.6,79.7 L567.7,79.7 L568.7,79.7 L569.7,79.8 L570.7,79.8 L571.7,79.8 L572.7,79.8 L573.7,79.8 L574.7,79.8 L575.7,79.8 L576.7,79.9 L577.7,79.9 L578.7,79.9 L579.7,79.9 L580.7,79.9 L581.7,79.9 L582.7,79.9 L583.7,79.9 L584.7,80.0 L585.7,80.0 L586.7,80.0 L587.7,80.0 L588.7,80.0 L589.7,80.0 L590.7,80.0 L591.7,80.0 L592.7,80.0 L593.7,80.0 L594.7,80.0 L595.7,80.0 L596.7,79.9 L597.7,79.9 L598.7,79.8 L599.7,79.6 L600.8,79.4 L601.8,79.1 L602.8,78.8 L603.8,78.4 L604.8,77.9 L605.8,77.2 L606.8,76.5 L607.8,75.6 L608.8,74.6 L609.8,73.6 L610.8,72.5 L611.8,71.3 L612.8,70.2 L613.8,69.1 L614.8,68.0 L615.8,67.1 L616.8,66.4 L617.8,65.9 L618.8,65.6 L619.8,65.6 L620.8,65.7 L621.8,66.1 L622.8,66.6 L623.8,67.3 L624.8,68.1 L625.8,69.1 L626.8,70.0 L627.8,71.1 L628.8,72.1 L629.8,73.2 L630.8,74.2 L631.8,75.1 L632.8,76.0 L633.9,76.7 L634.9,77.4 L635.9,78.0 L636.9,78.6 L637.9,79.0 L638.9,79.4 L639.9,79.7 L640.9,80.0 L641.9,80.2 L642.9,80.3 L643.9,80.4 L644.9,80.5 L645.9,80.6 L646.9,80.7 L647.9,80.7 L648.9,80.8 L649.9,80.8 L650.9,80.8 L651.9,80.8 L652.9,80.9 L653.9,80.9 L654.9,80.9 L655.9,80.9 L656.9,80.9 L657.9,80.9 L658.9,81.0 L659.9,81.0 L660.9,81.0 L661.9,81.0 L662.9,81.0 L663.9,81.0 L664.9,81.0 L665.9,81.0 L666.9,81.1 L668.0,81.1 L669.0,81.1 L670.0,81.1 L671.0,81.1 L672.0,81.1 L673.0,81.1 L674.0,81.2 L675.0,81.2 L676.0,81.2 L677.0,81.2 L678.0,81.2 L679.0,81.2 L680.0,81.2 L681.0,81.2 L682.0,81.3 L683.0,81.3 L684.0,81.3 L684.0,81.3 Z" fill="url(#pm)"/>
<path d="M483.4,78.6 L483.4,78.6 L484.4,78.6 L485.4,78.6 L486.4,78.6 L487.4,78.6 L488.4,78.7 L489.4,78.7 L490.4,78.7 L491.4,78.7 L492.4,78.7 L493.4,78.7 L494.4,78.7 L495.4,78.7 L496.4,78.8 L497.4,78.8 L498.4,78.8 L499.4,78.8 L500.5,78.8 L501.5,78.8 L502.5,78.8 L503.5,78.9 L504.5,78.9 L505.5,78.9 L506.5,78.9 L507.5,78.9 L508.5,78.9 L509.5,78.9 L510.5,78.9 L511.5,79.0 L512.5,79.0 L513.5,79.0 L514.5,79.0 L515.5,79.0 L516.5,79.0 L517.5,79.0 L518.5,79.0 L519.5,79.1 L520.5,79.1 L521.5,79.1 L522.5,79.1 L523.5,79.1 L524.5,79.1 L525.5,79.1 L526.5,79.1 L527.5,79.1 L528.5,79.2 L529.5,79.2 L530.5,79.2 L531.5,79.2 L532.5,79.2 L533.6,79.2 L534.6,79.2 L535.6,79.2 L536.6,79.2 L537.6,79.2 L538.6,79.2 L539.6,79.2 L540.6,79.2 L541.6,79.2 L542.6,79.2 L543.6,79.2 L544.6,79.2 L545.6,79.2 L546.6,79.1 L547.6,79.1 L548.6,79.1 L549.6,79.0 L550.6,78.9 L551.6,78.8 L552.6,78.7 L553.6,78.6 L554.6,78.5 L555.6,78.3 L556.6,78.1 L557.6,77.9 L558.6,77.7 L559.6,77.5 L560.6,77.2 L561.6,76.9 L562.6,76.6 L563.6,76.2 L564.6,75.8 L565.6,75.5 L566.6,75.1 L567.7,74.6 L568.7,74.2 L569.7,73.8 L570.7,73.4 L571.7,72.9 L572.7,72.5 L573.7,72.0 L574.7,71.5 L575.7,71.0 L576.7,70.4 L577.7,69.7 L578.7,68.9 L579.7,67.9 L580.7,66.6 L581.7,65.1 L582.7,63.3 L583.7,61.4 L584.7,59.3 L585.7,57.4 L586.7,55.8 L587.7,54.6 L588.7,54.1 L589.7,54.3 L590.7,55.3 L591.7,56.9 L592.7,59.0 L593.7,61.3 L594.7,63.8 L595.7,66.3 L596.7,68.6 L597.7,70.6 L598.7,72.3 L599.7,73.8 L600.8,75.0 L601.8,75.9 L602.8,76.7 L603.8,77.3 L604.8,77.7 L605.8,78.1 L606.8,78.4 L607.8,78.7 L608.8,78.9 L609.8,79.1 L610.8,79.3 L611.8,79.4 L612.8,79.6 L613.8,79.7 L614.8,79.8 L615.8,79.9 L616.8,79.9 L617.8,80.0 L618.8,80.1 L619.8,80.1 L620.8,80.2 L621.8,80.2 L622.8,80.2 L623.8,80.3 L624.8,80.3 L625.8,80.3 L626.8,80.4 L627.8,80.4 L628.8,80.4 L629.8,80.4 L630.8,80.4 L631.8,80.5 L632.8,80.5 L633.9,80.5 L634.9,80.5 L635.9,80.5 L636.9,80.6 L637.9,80.6 L638.9,80.6 L639.9,80.6 L640.9,80.6 L641.9,80.6 L642.9,80.7 L643.9,80.7 L644.9,80.7 L645.9,80.7 L646.9,80.7 L647.9,80.7 L648.9,80.8 L649.9,80.8 L650.9,80.8 L651.9,80.8 L652.9,80.8 L653.9,80.8 L654.9,80.8 L655.9,80.9 L656.9,80.9 L657.9,80.9 L658.9,80.9 L659.9,80.9 L660.9,80.9 L661.9,81.0 L662.9,81.0 L663.9,81.0 L664.9,81.0 L665.9,81.0 L666.9,81.0 L668.0,81.0 L669.0,81.1 L670.0,81.1 L671.0,81.1 L672.0,81.1 L673.0,81.1 L674.0,81.1 L675.0,81.1 L676.0,81.2 L677.0,81.2 L678.0,81.2 L679.0,81.2 L680.0,81.2 L681.0,81.2 L682.0,81.2 L683.0,81.3 L684.0,81.3 L684.0,81.3 Z" fill="url(#pbc)"/>
<path d="M483.4,78.6 L483.4,78.6 L484.4,78.6 L485.4,78.6 L486.4,78.6 L487.4,78.7 L488.4,78.7 L489.4,78.7 L490.4,78.7 L491.4,78.7 L492.4,78.7 L493.4,78.7 L494.4,78.7 L495.4,78.8 L496.4,78.8 L497.4,78.8 L498.4,78.8 L499.4,78.8 L500.5,78.8 L501.5,78.8 L502.5,78.9 L503.5,78.9 L504.5,78.9 L505.5,78.9 L506.5,78.9 L507.5,78.9 L508.5,78.9 L509.5,78.9 L510.5,79.0 L511.5,79.0 L512.5,79.0 L513.5,79.0 L514.5,79.0 L515.5,79.0 L516.5,79.0 L517.5,79.1 L518.5,79.1 L519.5,79.1 L520.5,79.1 L521.5,79.1 L522.5,79.1 L523.5,79.1 L524.5,79.1 L525.5,79.2 L526.5,79.2 L527.5,79.2 L528.5,79.2 L529.5,79.2 L530.5,79.2 L531.5,79.2 L532.5,79.2 L533.6,79.3 L534.6,79.3 L535.6,79.3 L536.6,79.3 L537.6,79.3 L538.6,79.3 L539.6,79.3 L540.6,79.3 L541.6,79.4 L542.6,79.4 L543.6,79.4 L544.6,79.4 L545.6,79.4 L546.6,79.4 L547.6,79.4 L548.6,79.4 L549.6,79.5 L550.6,79.5 L551.6,79.5 L552.6,79.5 L553.6,79.5 L554.6,79.5 L555.6,79.5 L556.6,79.5 L557.6,79.5 L558.6,79.6 L559.6,79.6 L560.6,79.6 L561.6,79.6 L562.6,79.6 L563.6,79.6 L564.6,79.6 L565.6,79.6 L566.6,79.6 L567.7,79.6 L568.7,79.7 L569.7,79.7 L570.7,79.7 L571.7,79.7 L572.7,79.7 L573.7,79.7 L574.7,79.7 L575.7,79.7 L576.7,79.7 L577.7,79.7 L578.7,79.7 L579.7,79.7 L580.7,79.7 L581.7,79.7 L582.7,79.6 L583.7,79.6 L584.7,79.6 L585.7,79.6 L586.7,79.5 L587.7,79.5 L588.7,79.4 L589.7,79.3 L590.7,79.1 L591.7,78.8 L592.7,78.4 L593.7,77.9 L594.7,77.1 L595.7,76.1 L596.7,75.0 L597.7,73.9 L598.7,72.9 L599.7,73.8 L600.8,75.0 L601.8,75.9 L602.8,76.7 L603.8,77.3 L604.8,77.7 L605.8,78.1 L606.8,78.4 L607.8,78.7 L608.8,78.9 L609.8,79.1 L610.8,79.3 L611.8,79.5 L612.8,79.7 L613.8,79.8 L614.8,79.9 L615.8,79.9 L616.8,80.0 L617.8,80.0 L618.8,80.1 L619.8,80.1 L620.8,80.2 L621.8,80.2 L622.8,80.2 L623.8,80.3 L624.8,80.3 L625.8,80.3 L626.8,80.4 L627.8,80.4 L628.8,80.4 L629.8,80.4 L630.8,80.5 L631.8,80.5 L632.8,80.5 L633.9,80.5 L634.9,80.5 L635.9,80.5 L636.9,80.6 L637.9,80.6 L638.9,80.6 L639.9,80.6 L640.9,80.6 L641.9,80.7 L642.9,80.7 L643.9,80.7 L644.9,80.7 L645.9,80.7 L646.9,80.7 L647.9,80.8 L648.9,80.8 L649.9,80.8 L650.9,80.8 L651.9,80.8 L652.9,80.8 L653.9,80.8 L654.9,80.9 L655.9,80.9 L656.9,80.9 L657.9,80.9 L658.9,80.9 L659.9,80.9 L660.9,80.9 L661.9,81.0 L662.9,81.0 L663.9,81.0 L664.9,81.0 L665.9,81.0 L666.9,81.0 L668.0,81.0 L669.0,81.1 L670.0,81.1 L671.0,81.1 L672.0,81.1 L673.0,81.1 L674.0,81.1 L675.0,81.1 L676.0,81.2 L677.0,81.2 L678.0,81.2 L679.0,81.2 L680.0,81.2 L681.0,81.2 L682.0,81.2 L683.0,81.3 L684.0,81.3 L684.0,81.3 Z" fill="url(#pgo)"/>
<path d="M558.6,77.4 L559.6,77.1 L560.6,76.8 L561.6,76.5 L562.6,76.2 L563.6,75.8 L564.6,75.5 L565.6,75.1 L566.6,74.7 L567.7,74.3 L568.7,73.8 L569.7,73.4 L570.7,72.9 L571.7,72.5 L572.7,72.1 L573.7,71.6 L574.7,71.1 L575.7,70.6 L576.7,70.0 L577.7,69.3 L578.7,68.4 L579.7,67.3 L580.7,66.0 L581.7,64.5 L582.7,62.7 L583.7,60.7 L584.7,58.7 L585.7,56.7 L586.7,55.0 L587.7,53.8 L588.7,53.1 L589.7,53.3 L590.7,54.0 L591.7,55.3 L592.7,57.0 L593.7,58.8 L594.7,60.4 L595.7,61.9 L596.7,62.9 L597.7,63.7 L598.7,64.4 L599.7,65.2 L600.8,66.3 L601.8,67.5 L602.8,68.7 L603.8,69.8 L604.8,70.8 L605.8,71.4 L606.8,71.7 L607.8,71.7 L608.8,71.5 L609.8,70.9 L610.8,70.2 L611.8,69.3 L612.8,68.4 L613.8,67.5 L614.8,66.6 L615.8,65.9 L616.8,65.3 L617.8,64.8 L618.8,64.6 L619.8,64.7 L620.8,64.9 L621.8,65.3 L622.8,65.9 L623.8,66.6 L624.8,67.4 L625.8,68.4 L626.8,69.4 L627.8,70.5 L628.8,71.5 L629.8,72.6 L630.8,73.6 L631.8,74.5 L632.8,75.4 L633.9,76.2 L634.9,76.9 L635.9,77.6 L636.9,78.1 L637.9,78.5" fill="none" stroke="#f0309c" stroke-width="2.0" stroke-linecap="round" stroke-dasharray="0.1,3.5"/>
<path d="M483.4,77.8 L484.4,78.2 L485.4,78.0 L486.4,78.0 L487.4,77.6 L488.4,77.2 L489.4,78.1 L490.4,77.5 L491.4,78.1 L492.4,78.4 L493.4,77.6 L494.4,77.6 L495.4,78.4 L496.4,78.1 L497.4,77.3 L498.4,77.3 L499.4,77.3 L500.5,78.4 L501.5,78.3 L502.5,77.4 L503.5,78.3 L504.5,78.6 L505.5,78.1 L506.5,77.7 L507.5,78.0 L508.5,77.4 L509.5,77.3 L510.5,78.6 L511.5,78.2 L512.5,78.0 L513.5,78.6 L514.5,77.9 L515.5,78.6 L516.5,78.5 L517.5,77.7 L518.5,77.7 L519.5,77.8 L520.5,77.7 L521.5,78.2 L522.5,77.8 L523.5,78.0 L524.5,77.6 L525.5,78.7 L526.5,78.0 L527.5,78.1 L528.5,78.3 L529.5,78.8 L530.5,78.1 L531.5,78.8 L532.5,78.3 L533.6,78.3 L534.6,78.3 L535.6,77.6 L536.6,78.2 L537.6,77.9 L538.6,77.7 L539.6,78.8 L540.6,77.9 L541.6,78.3 L542.6,78.7 L543.6,78.4 L544.6,78.1 L545.6,78.3 L546.6,78.3 L547.6,78.6 L548.6,77.6 L549.6,78.2 L550.6,77.7 L551.6,77.6 L552.6,78.2 L553.6,77.7 L554.6,77.6 L555.6,77.7 L556.6,77.8 L557.6,76.9 L558.6,76.9 L559.6,76.5 L560.6,76.2 L561.6,76.2 L562.6,75.5 L563.6,75.3 L564.6,75.0 L565.6,75.3 L566.6,74.7 L567.7,74.8 L568.7,74.6 L569.7,73.3 L570.7,73.3 L571.7,73.3 L572.7,72.6 L573.7,70.9 L574.7,70.2 L575.7,69.9 L576.7,68.7 L577.7,68.3 L578.7,67.4 L579.7,67.3 L580.7,66.4 L581.7,65.1 L582.7,62.4 L583.7,61.1 L584.7,58.9 L585.7,56.0 L586.7,55.1 L587.7,53.8 L588.7,52.0 L589.7,53.0 L590.7,52.9 L591.7,54.3 L592.7,56.6 L593.7,58.2 L594.7,58.9 L595.7,60.7 L596.7,61.9 L597.7,62.5 L598.7,62.9 L599.7,63.9 L600.8,65.6 L601.8,65.8 L602.8,67.8 L603.8,68.9 L604.8,69.3 L605.8,70.5 L606.8,71.4 L607.8,71.4 L608.8,70.5 L609.8,71.3 L610.8,70.3 L611.8,69.7 L612.8,67.5 L613.8,66.7 L614.8,65.4 L615.8,65.6 L616.8,64.2 L617.8,63.5 L618.8,63.6 L619.8,64.2 L620.8,64.3 L621.8,63.8 L622.8,64.2 L623.8,65.9 L624.8,66.2 L625.8,67.3 L626.8,67.4 L627.8,68.5 L628.8,70.4 L629.8,71.2 L630.8,71.9 L631.8,74.3 L632.8,75.1 L633.9,76.3 L634.9,76.2 L635.9,78.1 L636.9,77.6 L637.9,79.2 L638.9,79.0 L639.9,79.1 L640.9,79.7 L641.9,80.3 L642.9,79.4 L643.9,79.2 L644.9,79.8 L645.9,79.4 L646.9,79.2 L647.9,79.3 L648.9,79.2 L649.9,79.4 L650.9,79.6 L651.9,79.6 L652.9,80.2 L653.9,79.6 L654.9,79.9 L655.9,79.5 L656.9,79.7 L657.9,79.3 L658.9,79.6 L659.9,79.3 L660.9,80.3 L661.9,80.1 L662.9,79.6 L663.9,80.0 L664.9,80.6 L665.9,79.5 L666.9,80.5 L668.0,80.0 L669.0,80.1 L670.0,80.6 L671.0,80.0 L672.0,80.1 L673.0,80.4 L674.0,80.8 L675.0,79.9 L676.0,80.6 L677.0,80.5 L678.0,80.4 L679.0,80.1 L680.0,80.0 L681.0,79.6 L682.0,79.7 L683.0,79.7 L684.0,80.6" fill="none" stroke="#111" stroke-width="1.2"/>
<line x1="482.6" y1="79.0" x2="684.8" y2="81.7" stroke="#2236e4" stroke-width="1.5"/>
<path d="M483.4,118.8 L483.4,117.5 L484.4,117.4 L485.4,117.3 L486.4,118.3 L487.4,118.4 L488.4,118.1 L489.4,117.6 L490.4,117.6 L491.4,117.6 L492.4,117.9 L493.4,117.5 L494.4,117.9 L495.4,117.7 L496.4,118.7 L497.4,118.7 L498.4,118.1 L499.4,117.7 L500.5,118.7 L501.5,117.8 L502.5,117.9 L503.5,117.4 L504.5,118.0 L505.5,118.1 L506.5,118.2 L507.5,117.8 L508.5,118.2 L509.5,117.5 L510.5,117.9 L511.5,117.7 L512.5,118.1 L513.5,117.6 L514.5,117.6 L515.5,118.0 L516.5,117.9 L517.5,118.4 L518.5,118.4 L519.5,118.7 L520.5,118.6 L521.5,118.7 L522.5,118.9 L523.5,118.3 L524.5,118.2 L525.5,119.1 L526.5,118.0 L527.5,118.8 L528.5,118.7 L529.5,117.9 L530.5,119.0 L531.5,119.1 L532.5,118.7 L533.6,118.9 L534.6,119.0 L535.6,118.1 L536.6,118.6 L537.6,118.6 L538.6,119.1 L539.6,119.1 L540.6,119.1 L541.6,118.8 L542.6,119.2 L543.6,119.0 L544.6,119.0 L545.6,118.4 L546.6,118.0 L547.6,118.1 L548.6,118.3 L549.6,117.9 L550.6,118.8 L551.6,118.2 L552.6,118.2 L553.6,118.0 L554.6,117.8 L555.6,117.3 L556.6,116.3 L557.6,117.1 L558.6,116.7 L559.6,116.0 L560.6,115.6 L561.6,115.4 L562.6,114.1 L563.6,114.5 L564.6,113.3 L565.6,112.6 L566.6,112.3 L567.7,112.4 L568.7,111.2 L569.7,111.4 L570.7,111.1 L571.7,109.8 L572.7,108.9 L573.7,108.3 L574.7,107.8 L575.7,107.1 L576.7,106.0 L577.7,105.1 L578.7,103.2 L579.7,101.9 L580.7,100.6 L581.7,99.5 L582.7,97.0 L583.7,95.4 L584.7,92.7 L585.7,91.2 L586.7,90.3 L587.7,90.4 L588.7,90.4 L589.7,90.6 L590.7,90.6 L591.7,91.7 L592.7,92.6 L593.7,93.8 L594.7,94.7 L595.7,97.2 L596.7,97.6 L597.7,100.2 L598.7,101.5 L599.7,101.6 L600.8,103.5 L601.8,105.3 L602.8,106.6 L603.8,106.9 L604.8,107.6 L605.8,108.2 L606.8,109.7 L607.8,109.0 L608.8,109.6 L609.8,108.9 L610.8,109.1 L611.8,109.2 L612.8,107.4 L613.8,107.6 L614.8,106.3 L615.8,106.1 L616.8,105.1 L617.8,103.8 L618.8,104.1 L619.8,103.2 L620.8,102.3 L621.8,102.3 L622.8,103.2 L623.8,103.8 L624.8,104.3 L625.8,105.1 L626.8,106.5 L627.8,107.7 L628.8,109.6 L629.8,109.6 L630.8,111.8 L631.8,113.0 L632.8,113.0 L633.9,115.0 L634.9,115.5 L635.9,116.4 L636.9,116.1 L637.9,116.7 L638.9,117.1 L639.9,118.2 L640.9,117.9 L641.9,117.8 L642.9,118.1 L643.9,118.1 L644.9,117.9 L645.9,118.1 L646.9,119.2 L647.9,118.6 L648.9,119.6 L649.9,118.7 L650.9,118.8 L651.9,119.2 L652.9,118.9 L653.9,119.2 L654.9,120.1 L655.9,120.1 L656.9,120.0 L657.9,119.8 L658.9,120.3 L659.9,120.4 L660.9,119.9 L661.9,120.2 L662.9,119.3 L663.9,120.3 L664.9,120.0 L665.9,120.5 L666.9,120.4 L668.0,119.9 L669.0,119.6 L670.0,120.9 L671.0,119.8 L672.0,120.4 L673.0,120.2 L674.0,120.2 L675.0,120.9 L676.0,121.3 L677.0,120.3 L678.0,120.9 L679.0,120.4 L680.0,120.8 L681.0,120.6 L682.0,120.3 L683.0,120.3 L684.0,120.4 L684.0,121.8 Z" fill="#fcfaec"/>
<path d="M483.4,118.8 L483.4,118.8 L484.4,118.8 L485.4,118.8 L486.4,118.8 L487.4,118.8 L488.4,118.8 L489.4,118.8 L490.4,118.9 L491.4,118.9 L492.4,118.9 L493.4,118.9 L494.4,118.9 L495.4,118.9 L496.4,118.9 L497.4,119.0 L498.4,119.0 L499.4,119.0 L500.5,119.0 L501.5,119.0 L502.5,119.0 L503.5,119.0 L504.5,119.1 L505.5,119.1 L506.5,119.1 L507.5,119.1 L508.5,119.1 L509.5,119.1 L510.5,119.1 L511.5,119.2 L512.5,119.2 L513.5,119.2 L514.5,119.2 L515.5,119.2 L516.5,119.2 L517.5,119.2 L518.5,119.2 L519.5,119.3 L520.5,119.3 L521.5,119.3 L522.5,119.3 L523.5,119.3 L524.5,119.3 L525.5,119.3 L526.5,119.3 L527.5,119.4 L528.5,119.4 L529.5,119.4 L530.5,119.4 L531.5,119.4 L532.5,119.4 L533.6,119.4 L534.6,119.4 L535.6,119.5 L536.6,119.5 L537.6,119.5 L538.6,119.5 L539.6,119.5 L540.6,119.5 L541.6,119.5 L542.6,119.5 L543.6,119.6 L544.6,119.6 L545.6,119.6 L546.6,119.6 L547.6,119.6 L548.6,119.6 L549.6,119.6 L550.6,119.6 L551.6,119.6 L552.6,119.6 L553.6,119.7 L554.6,119.7 L555.6,119.7 L556.6,119.7 L557.6,119.7 L558.6,119.7 L559.6,119.7 L560.6,119.7 L561.6,119.7 L562.6,119.7 L563.6,119.7 L564.6,119.7 L565.6,119.7 L566.6,119.7 L567.7,119.8 L568.7,119.8 L569.7,119.8 L570.7,119.8 L571.7,119.8 L572.7,119.8 L573.7,119.8 L574.7,119.8 L575.7,119.8 L576.7,119.8 L577.7,119.8 L578.7,119.7 L579.7,119.7 L580.7,119.7 L581.7,119.7 L582.7,119.7 L583.7,119.7 L584.7,119.7 L585.7,119.7 L586.7,119.6 L587.7,119.6 L588.7,119.6 L589.7,119.6 L590.7,119.5 L591.7,119.5 L592.7,119.4 L593.7,119.4 L594.7,119.3 L595.7,119.2 L596.7,119.1 L597.7,119.0 L598.7,118.8 L599.7,118.6 L600.8,118.4 L601.8,118.1 L602.8,117.8 L603.8,117.4 L604.8,116.9 L605.8,116.3 L606.8,115.7 L607.8,115.0 L608.8,114.3 L609.8,113.4 L610.8,112.5 L611.8,111.5 L612.8,110.5 L613.8,109.5 L614.8,108.5 L615.8,107.5 L616.8,106.6 L617.8,105.9 L618.8,105.3 L619.8,104.8 L620.8,104.6 L621.8,104.6 L622.8,104.9 L623.8,105.5 L624.8,106.4 L625.8,107.4 L626.8,108.6 L627.8,109.8 L628.8,111.1 L629.8,112.3 L630.8,113.5 L631.8,114.6 L632.8,115.5 L633.9,116.4 L634.9,117.1 L635.9,117.7 L636.9,118.3 L637.9,118.7 L638.9,119.0 L639.9,119.3 L640.9,119.6 L641.9,119.8 L642.9,119.9 L643.9,120.1 L644.9,120.2 L645.9,120.3 L646.9,120.4 L647.9,120.4 L648.9,120.5 L649.9,120.6 L650.9,120.6 L651.9,120.7 L652.9,120.7 L653.9,120.8 L654.9,120.8 L655.9,120.9 L656.9,120.9 L657.9,121.0 L658.9,121.0 L659.9,121.0 L660.9,121.1 L661.9,121.1 L662.9,121.1 L663.9,121.2 L664.9,121.2 L665.9,121.2 L666.9,121.2 L668.0,121.3 L669.0,121.3 L670.0,121.3 L671.0,121.3 L672.0,121.4 L673.0,121.4 L674.0,121.4 L675.0,121.4 L676.0,121.5 L677.0,121.5 L678.0,121.5 L679.0,121.5 L680.0,121.5 L681.0,121.6 L682.0,121.6 L683.0,121.6 L684.0,121.6 L684.0,121.8 Z" fill="url(#pm)"/>
<path d="M483.4,118.8 L483.4,118.8 L484.4,118.8 L485.4,118.8 L486.4,118.8 L487.4,118.9 L488.4,118.9 L489.4,118.9 L490.4,118.9 L491.4,118.9 L492.4,118.9 L493.4,118.9 L494.4,119.0 L495.4,119.0 L496.4,119.0 L497.4,119.0 L498.4,119.0 L499.4,119.0 L500.5,119.0 L501.5,119.1 L502.5,119.1 L503.5,119.1 L504.5,119.1 L505.5,119.1 L506.5,119.1 L507.5,119.1 L508.5,119.2 L509.5,119.2 L510.5,119.2 L511.5,119.2 L512.5,119.2 L513.5,119.2 L514.5,119.2 L515.5,119.3 L516.5,119.3 L517.5,119.3 L518.5,119.3 L519.5,119.3 L520.5,119.3 L521.5,119.3 L522.5,119.4 L523.5,119.4 L524.5,119.4 L525.5,119.4 L526.5,119.4 L527.5,119.4 L528.5,119.4 L529.5,119.5 L530.5,119.5 L531.5,119.5 L532.5,119.5 L533.6,119.5 L534.6,119.5 L535.6,119.5 L536.6,119.5 L537.6,119.5 L538.6,119.5 L539.6,119.5 L540.6,119.5 L541.6,119.5 L542.6,119.5 L543.6,119.4 L544.6,119.4 L545.6,119.4 L546.6,119.3 L547.6,119.2 L548.6,119.1 L549.6,119.0 L550.6,118.9 L551.6,118.8 L552.6,118.6 L553.6,118.4 L554.6,118.2 L555.6,118.0 L556.6,117.7 L557.6,117.4 L558.6,117.0 L559.6,116.7 L560.6,116.2 L561.6,115.8 L562.6,115.3 L563.6,114.8 L564.6,114.3 L565.6,113.7 L566.6,113.2 L567.7,112.6 L568.7,112.0 L569.7,111.3 L570.7,110.7 L571.7,110.1 L572.7,109.5 L573.7,108.8 L574.7,108.1 L575.7,107.3 L576.7,106.5 L577.7,105.5 L578.7,104.3 L579.7,103.0 L580.7,101.5 L581.7,99.9 L582.7,98.2 L583.7,96.5 L584.7,95.0 L585.7,93.9 L586.7,93.3 L587.7,93.3 L588.7,93.7 L589.7,94.4 L590.7,95.2 L591.7,96.2 L592.7,97.2 L593.7,98.4 L594.7,99.7 L595.7,101.1 L596.7,102.4 L597.7,103.8 L598.7,105.2 L599.7,106.6 L600.8,107.9 L601.8,109.2 L602.8,110.4 L603.8,111.5 L604.8,112.6 L605.8,113.6 L606.8,114.5 L607.8,115.3 L608.8,116.0 L609.8,116.6 L610.8,117.2 L611.8,117.7 L612.8,118.2 L613.8,118.5 L614.8,118.9 L615.8,119.1 L616.8,119.4 L617.8,119.6 L618.8,119.8 L619.8,119.9 L620.8,120.0 L621.8,120.1 L622.8,120.2 L623.8,120.3 L624.8,120.4 L625.8,120.4 L626.8,120.5 L627.8,120.5 L628.8,120.6 L629.8,120.6 L630.8,120.7 L631.8,120.7 L632.8,120.7 L633.9,120.8 L634.9,120.8 L635.9,120.8 L636.9,120.8 L637.9,120.9 L638.9,120.9 L639.9,120.9 L640.9,120.9 L641.9,121.0 L642.9,121.0 L643.9,121.0 L644.9,121.0 L645.9,121.0 L646.9,121.1 L647.9,121.1 L648.9,121.1 L649.9,121.1 L650.9,121.1 L651.9,121.2 L652.9,121.2 L653.9,121.2 L654.9,121.2 L655.9,121.2 L656.9,121.3 L657.9,121.3 L658.9,121.3 L659.9,121.3 L660.9,121.3 L661.9,121.3 L662.9,121.4 L663.9,121.4 L664.9,121.4 L665.9,121.4 L666.9,121.4 L668.0,121.5 L669.0,121.5 L670.0,121.5 L671.0,121.5 L672.0,121.5 L673.0,121.5 L674.0,121.6 L675.0,121.6 L676.0,121.6 L677.0,121.6 L678.0,121.6 L679.0,121.6 L680.0,121.7 L681.0,121.7 L682.0,121.7 L683.0,121.7 L684.0,121.7 L684.0,121.8 Z" fill="url(#pbc)"/>
<path d="M554.6,117.7 L555.6,117.4 L556.6,117.2 L557.6,116.8 L558.6,116.5 L559.6,116.1 L560.6,115.7 L561.6,115.2 L562.6,114.8 L563.6,114.3 L564.6,113.7 L565.6,113.1 L566.6,112.6 L567.7,112.0 L568.7,111.3 L569.7,110.7 L570.7,110.1 L571.7,109.4 L572.7,108.8 L573.7,108.1 L574.7,107.4 L575.7,106.6 L576.7,105.7 L577.7,104.7 L578.7,103.5 L579.7,102.2 L580.7,100.6 L581.7,99.0 L582.7,97.2 L583.7,95.5 L584.7,94.0 L585.7,92.8 L586.7,92.2 L587.7,92.1 L588.7,92.6 L589.7,93.1 L590.7,93.9 L591.7,94.8 L592.7,95.8 L593.7,96.9 L594.7,98.1 L595.7,99.3 L596.7,100.6 L597.7,101.8 L598.7,103.0 L599.7,104.2 L600.8,105.2 L601.8,106.2 L602.8,107.1 L603.8,107.9 L604.8,108.5 L605.8,108.9 L606.8,109.2 L607.8,109.3 L608.8,109.3 L609.8,109.1 L610.8,108.7 L611.8,108.2 L612.8,107.6 L613.8,107.0 L614.8,106.3 L615.8,105.6 L616.8,104.9 L617.8,104.4 L618.8,103.9 L619.8,103.6 L620.8,103.5 L621.8,103.6 L622.8,104.0 L623.8,104.6 L624.8,105.5 L625.8,106.6 L626.8,107.8 L627.8,109.1 L628.8,110.4 L629.8,111.7 L630.8,112.8 L631.8,113.9 L632.8,114.9 L633.9,115.8 L634.9,116.5 L635.9,117.2 L636.9,117.7 L637.9,118.1 L638.9,118.5 L639.9,118.8 L640.9,119.0" fill="none" stroke="#f0309c" stroke-width="2.0" stroke-linecap="round" stroke-dasharray="0.1,3.5"/>
<path d="M483.4,117.5 L484.4,117.4 L485.4,117.3 L486.4,118.3 L487.4,118.4 L488.4,118.1 L489.4,117.6 L490.4,117.6 L491.4,117.6 L492.4,117.9 L493.4,117.5 L494.4,117.9 L495.4,117.7 L496.4,118.7 L497.4,118.7 L498.4,118.1 L499.4,117.7 L500.5,118.7 L501.5,117.8 L502.5,117.9 L503.5,117.4 L504.5,118.0 L505.5,118.1 L506.5,118.2 L507.5,117.8 L508.5,118.2 L509.5,117.5 L510.5,117.9 L511.5,117.7 L512.5,118.1 L513.5,117.6 L514.5,117.6 L515.5,118.0 L516.5,117.9 L517.5,118.4 L518.5,118.4 L519.5,118.7 L520.5,118.6 L521.5,118.7 L522.5,118.9 L523.5,118.3 L524.5,118.2 L525.5,119.1 L526.5,118.0 L527.5,118.8 L528.5,118.7 L529.5,117.9 L530.5,119.0 L531.5,119.1 L532.5,118.7 L533.6,118.9 L534.6,119.0 L535.6,118.1 L536.6,118.6 L537.6,118.6 L538.6,119.1 L539.6,119.1 L540.6,119.1 L541.6,118.8 L542.6,119.2 L543.6,119.0 L544.6,119.0 L545.6,118.4 L546.6,118.0 L547.6,118.1 L548.6,118.3 L549.6,117.9 L550.6,118.8 L551.6,118.2 L552.6,118.2 L553.6,118.0 L554.6,117.8 L555.6,117.3 L556.6,116.3 L557.6,117.1 L558.6,116.7 L559.6,116.0 L560.6,115.6 L561.6,115.4 L562.6,114.1 L563.6,114.5 L564.6,113.3 L565.6,112.6 L566.6,112.3 L567.7,112.4 L568.7,111.2 L569.7,111.4 L570.7,111.1 L571.7,109.8 L572.7,108.9 L573.7,108.3 L574.7,107.8 L575.7,107.1 L576.7,106.0 L577.7,105.1 L578.7,103.2 L579.7,101.9 L580.7,100.6 L581.7,99.5 L582.7,97.0 L583.7,95.4 L584.7,92.7 L585.7,91.2 L586.7,90.3 L587.7,90.4 L588.7,90.4 L589.7,90.6 L590.7,90.6 L591.7,91.7 L592.7,92.6 L593.7,93.8 L594.7,94.7 L595.7,97.2 L596.7,97.6 L597.7,100.2 L598.7,101.5 L599.7,101.6 L600.8,103.5 L601.8,105.3 L602.8,106.6 L603.8,106.9 L604.8,107.6 L605.8,108.2 L606.8,109.7 L607.8,109.0 L608.8,109.6 L609.8,108.9 L610.8,109.1 L611.8,109.2 L612.8,107.4 L613.8,107.6 L614.8,106.3 L615.8,106.1 L616.8,105.1 L617.8,103.8 L618.8,104.1 L619.8,103.2 L620.8,102.3 L621.8,102.3 L622.8,103.2 L623.8,103.8 L624.8,104.3 L625.8,105.1 L626.8,106.5 L627.8,107.7 L628.8,109.6 L629.8,109.6 L630.8,111.8 L631.8,113.0 L632.8,113.0 L633.9,115.0 L634.9,115.5 L635.9,116.4 L636.9,116.1 L637.9,116.7 L638.9,117.1 L639.9,118.2 L640.9,117.9 L641.9,117.8 L642.9,118.1 L643.9,118.1 L644.9,117.9 L645.9,118.1 L646.9,119.2 L647.9,118.6 L648.9,119.6 L649.9,118.7 L650.9,118.8 L651.9,119.2 L652.9,118.9 L653.9,119.2 L654.9,120.1 L655.9,120.1 L656.9,120.0 L657.9,119.8 L658.9,120.3 L659.9,120.4 L660.9,119.9 L661.9,120.2 L662.9,119.3 L663.9,120.3 L664.9,120.0 L665.9,120.5 L666.9,120.4 L668.0,119.9 L669.0,119.6 L670.0,120.9 L671.0,119.8 L672.0,120.4 L673.0,120.2 L674.0,120.2 L675.0,120.9 L676.0,121.3 L677.0,120.3 L678.0,120.9 L679.0,120.4 L680.0,120.8 L681.0,120.6 L682.0,120.3 L683.0,120.3 L684.0,120.4" fill="none" stroke="#111" stroke-width="1.2"/>
<line x1="482.6" y1="119.2" x2="684.8" y2="122.2" stroke="#2236e4" stroke-width="1.5"/>
<path d="M483.4,157.0 L483.4,156.6 L484.4,156.0 L485.4,155.6 L486.4,156.6 L487.4,156.7 L488.4,156.0 L489.4,155.6 L490.4,155.7 L491.4,155.5 L492.4,155.9 L493.4,155.5 L494.4,155.8 L495.4,155.8 L496.4,156.2 L497.4,156.7 L498.4,156.5 L499.4,156.1 L500.5,156.1 L501.5,156.2 L502.5,156.0 L503.5,156.0 L504.5,155.6 L505.5,155.9 L506.5,156.9 L507.5,155.7 L508.5,156.3 L509.5,156.5 L510.5,156.8 L511.5,155.9 L512.5,156.0 L513.5,156.0 L514.5,156.2 L515.5,156.3 L516.5,157.0 L517.5,156.9 L518.5,156.9 L519.5,155.7 L520.5,155.7 L521.5,156.7 L522.5,157.0 L523.5,156.4 L524.5,156.6 L525.5,155.7 L526.5,156.3 L527.5,157.1 L528.5,156.9 L529.5,157.0 L530.5,157.2 L531.5,156.2 L532.5,156.0 L533.6,156.0 L534.6,156.6 L535.6,156.8 L536.6,157.2 L537.6,156.9 L538.6,156.8 L539.6,157.0 L540.6,156.5 L541.6,156.7 L542.6,156.0 L543.6,157.0 L544.6,156.3 L545.6,157.2 L546.6,156.7 L547.6,156.2 L548.6,155.9 L549.6,155.9 L550.6,156.4 L551.6,156.3 L552.6,155.3 L553.6,155.1 L554.6,155.5 L555.6,155.4 L556.6,154.8 L557.6,154.3 L558.6,154.5 L559.6,153.3 L560.6,153.3 L561.6,153.1 L562.6,153.3 L563.6,152.4 L564.6,152.2 L565.6,151.2 L566.6,150.3 L567.7,149.9 L568.7,150.4 L569.7,149.5 L570.7,148.5 L571.7,147.6 L572.7,147.9 L573.7,147.7 L574.7,146.9 L575.7,146.2 L576.7,146.3 L577.7,146.0 L578.7,144.3 L579.7,143.1 L580.7,142.3 L581.7,141.0 L582.7,139.7 L583.7,137.1 L584.7,135.7 L585.7,133.4 L586.7,130.8 L587.7,128.5 L588.7,128.2 L589.7,126.8 L590.7,127.8 L591.7,127.5 L592.7,128.4 L593.7,130.2 L594.7,130.8 L595.7,133.1 L596.7,133.9 L597.7,134.9 L598.7,136.5 L599.7,138.2 L600.8,139.9 L601.8,141.6 L602.8,141.8 L603.8,143.4 L604.8,144.4 L605.8,146.5 L606.8,146.2 L607.8,146.7 L608.8,147.1 L609.8,147.7 L610.8,148.2 L611.8,147.7 L612.8,146.7 L613.8,146.2 L614.8,145.1 L615.8,143.3 L616.8,142.2 L617.8,142.4 L618.8,141.5 L619.8,140.0 L620.8,140.7 L621.8,140.2 L622.8,140.4 L623.8,140.8 L624.8,141.3 L625.8,142.0 L626.8,143.4 L627.8,144.7 L628.8,146.7 L629.8,146.8 L630.8,149.2 L631.8,149.3 L632.8,150.7 L633.9,152.4 L634.9,153.4 L635.9,153.6 L636.9,153.8 L637.9,155.0 L638.9,155.3 L639.9,156.5 L640.9,155.8 L641.9,156.3 L642.9,157.2 L643.9,156.2 L644.9,156.8 L645.9,157.5 L646.9,157.5 L647.9,156.6 L648.9,156.6 L649.9,156.7 L650.9,158.0 L651.9,157.1 L652.9,157.8 L653.9,158.1 L654.9,157.3 L655.9,157.3 L656.9,158.2 L657.9,157.8 L658.9,157.3 L659.9,158.0 L660.9,157.5 L661.9,157.4 L662.9,157.1 L663.9,158.1 L664.9,158.4 L665.9,158.0 L666.9,158.5 L668.0,157.2 L669.0,157.5 L670.0,157.9 L671.0,158.6 L672.0,158.6 L673.0,157.8 L674.0,157.6 L675.0,157.9 L676.0,158.0 L677.0,158.6 L678.0,157.6 L679.0,158.5 L680.0,158.4 L681.0,158.5 L682.0,158.5 L683.0,158.2 L684.0,157.9 L684.0,159.1 Z" fill="#fcfaec"/>
<path d="M483.4,157.0 L483.4,157.0 L484.4,157.0 L485.4,157.0 L486.4,157.0 L487.4,157.0 L488.4,157.1 L489.4,157.1 L490.4,157.1 L491.4,157.1 L492.4,157.1 L493.4,157.1 L494.4,157.1 L495.4,157.1 L496.4,157.1 L497.4,157.1 L498.4,157.2 L499.4,157.2 L500.5,157.2 L501.5,157.2 L502.5,157.2 L503.5,157.2 L504.5,157.2 L505.5,157.2 L506.5,157.2 L507.5,157.3 L508.5,157.3 L509.5,157.3 L510.5,157.3 L511.5,157.3 L512.5,157.3 L513.5,157.3 L514.5,157.3 L515.5,157.3 L516.5,157.3 L517.5,157.4 L518.5,157.4 L519.5,157.4 L520.5,157.4 L521.5,157.4 L522.5,157.4 L523.5,157.4 L524.5,157.4 L525.5,157.4 L526.5,157.4 L527.5,157.5 L528.5,157.5 L529.5,157.5 L530.5,157.5 L531.5,157.5 L532.5,157.5 L533.6,157.5 L534.6,157.5 L535.6,157.5 L536.6,157.5 L537.6,157.6 L538.6,157.6 L539.6,157.6 L540.6,157.6 L541.6,157.6 L542.6,157.6 L543.6,157.6 L544.6,157.6 L545.6,157.6 L546.6,157.6 L547.6,157.7 L548.6,157.7 L549.6,157.7 L550.6,157.7 L551.6,157.7 L552.6,157.7 L553.6,157.7 L554.6,157.7 L555.6,157.7 L556.6,157.7 L557.6,157.8 L558.6,157.8 L559.6,157.8 L560.6,157.8 L561.6,157.8 L562.6,157.8 L563.6,157.8 L564.6,157.8 L565.6,157.8 L566.6,157.8 L567.7,157.9 L568.7,157.9 L569.7,157.9 L570.7,157.9 L571.7,157.9 L572.7,157.9 L573.7,157.9 L574.7,157.9 L575.7,157.9 L576.7,157.9 L577.7,157.9 L578.7,158.0 L579.7,158.0 L580.7,158.0 L581.7,158.0 L582.7,158.0 L583.7,158.0 L584.7,158.0 L585.7,158.0 L586.7,158.0 L587.7,158.0 L588.7,158.0 L589.7,158.0 L590.7,158.0 L591.7,158.0 L592.7,158.0 L593.7,158.0 L594.7,158.0 L595.7,157.9 L596.7,157.9 L597.7,157.8 L598.7,157.7 L599.7,157.6 L600.8,157.4 L601.8,157.1 L602.8,156.9 L603.8,156.5 L604.8,156.0 L605.8,155.5 L606.8,154.9 L607.8,154.1 L608.8,153.3 L609.8,152.4 L610.8,151.4 L611.8,150.4 L612.8,149.3 L613.8,148.3 L614.8,147.2 L615.8,146.2 L616.8,145.4 L617.8,144.6 L618.8,144.1 L619.8,143.7 L620.8,143.5 L621.8,143.6 L622.8,143.9 L623.8,144.3 L624.8,145.0 L625.8,145.8 L626.8,146.8 L627.8,147.8 L628.8,148.9 L629.8,150.0 L630.8,151.1 L631.8,152.2 L632.8,153.2 L633.9,154.0 L634.9,154.8 L635.9,155.5 L636.9,156.1 L637.9,156.7 L638.9,157.1 L639.9,157.4 L640.9,157.7 L641.9,157.9 L642.9,158.1 L643.9,158.2 L644.9,158.4 L645.9,158.4 L646.9,158.5 L647.9,158.5 L648.9,158.6 L649.9,158.6 L650.9,158.6 L651.9,158.7 L652.9,158.7 L653.9,158.7 L654.9,158.7 L655.9,158.7 L656.9,158.7 L657.9,158.8 L658.9,158.8 L659.9,158.8 L660.9,158.8 L661.9,158.8 L662.9,158.8 L663.9,158.8 L664.9,158.9 L665.9,158.9 L666.9,158.9 L668.0,158.9 L669.0,158.9 L670.0,158.9 L671.0,158.9 L672.0,158.9 L673.0,158.9 L674.0,159.0 L675.0,159.0 L676.0,159.0 L677.0,159.0 L678.0,159.0 L679.0,159.0 L680.0,159.0 L681.0,159.0 L682.0,159.0 L683.0,159.1 L684.0,159.1 L684.0,159.1 Z" fill="url(#pm)"/>
<path d="M483.4,157.0 L483.4,157.0 L484.4,157.0 L485.4,157.0 L486.4,157.0 L487.4,157.0 L488.4,157.0 L489.4,157.0 L490.4,157.0 L491.4,157.0 L492.4,157.0 L493.4,157.0 L494.4,157.1 L495.4,157.1 L496.4,157.1 L497.4,157.1 L498.4,157.1 L499.4,157.1 L500.5,157.1 L501.5,157.1 L502.5,157.1 L503.5,157.1 L504.5,157.1 L505.5,157.2 L506.5,157.2 L507.5,157.2 L508.5,157.2 L509.5,157.2 L510.5,157.2 L511.5,157.2 L512.5,157.2 L513.5,157.2 L514.5,157.2 L515.5,157.2 L516.5,157.2 L517.5,157.2 L518.5,157.3 L519.5,157.3 L520.5,157.3 L521.5,157.3 L522.5,157.3 L523.5,157.3 L524.5,157.3 L525.5,157.3 L526.5,157.3 L527.5,157.3 L528.5,157.3 L529.5,157.3 L530.5,157.3 L531.5,157.3 L532.5,157.3 L533.6,157.3 L534.6,157.3 L535.6,157.3 L536.6,157.3 L537.6,157.3 L538.6,157.3 L539.6,157.3 L540.6,157.3 L541.6,157.3 L542.6,157.3 L543.6,157.3 L544.6,157.2 L545.6,157.2 L546.6,157.1 L547.6,157.1 L548.6,157.0 L549.6,156.9 L550.6,156.8 L551.6,156.6 L552.6,156.5 L553.6,156.3 L554.6,156.1 L555.6,155.8 L556.6,155.6 L557.6,155.3 L558.6,154.9 L559.6,154.6 L560.6,154.2 L561.6,153.7 L562.6,153.3 L563.6,152.8 L564.6,152.3 L565.6,151.8 L566.6,151.2 L567.7,150.7 L568.7,150.2 L569.7,149.7 L570.7,149.2 L571.7,148.7 L572.7,148.3 L573.7,147.8 L574.7,147.4 L575.7,147.0 L576.7,146.5 L577.7,145.9 L578.7,145.3 L579.7,144.5 L580.7,143.5 L581.7,142.2 L582.7,140.7 L583.7,138.9 L584.7,136.9 L585.7,134.8 L586.7,132.7 L587.7,131.0 L588.7,129.8 L589.7,129.5 L590.7,129.9 L591.7,130.6 L592.7,131.5 L593.7,132.7 L594.7,133.9 L595.7,135.3 L596.7,136.8 L597.7,138.3 L598.7,139.8 L599.7,141.3 L600.8,142.8 L601.8,144.2 L602.8,145.6 L603.8,146.8 L604.8,148.0 L605.8,149.1 L606.8,150.0 L607.8,150.9 L608.8,151.7 L609.8,152.4 L610.8,153.0 L611.8,153.6 L612.8,154.0 L613.8,154.5 L614.8,154.8 L615.8,155.1 L616.8,155.4 L617.8,155.7 L618.8,155.9 L619.8,156.1 L620.8,156.2 L621.8,156.4 L622.8,156.5 L623.8,156.6 L624.8,156.7 L625.8,156.8 L626.8,156.9 L627.8,157.0 L628.8,157.1 L629.8,157.2 L630.8,157.2 L631.8,157.3 L632.8,157.4 L633.9,157.4 L634.9,157.5 L635.9,157.5 L636.9,157.6 L637.9,157.6 L638.9,157.7 L639.9,157.7 L640.9,157.8 L641.9,157.8 L642.9,157.9 L643.9,157.9 L644.9,157.9 L645.9,158.0 L646.9,158.0 L647.9,158.0 L648.9,158.1 L649.9,158.1 L650.9,158.1 L651.9,158.2 L652.9,158.2 L653.9,158.2 L654.9,158.2 L655.9,158.3 L656.9,158.3 L657.9,158.3 L658.9,158.3 L659.9,158.4 L660.9,158.4 L661.9,158.4 L662.9,158.4 L663.9,158.5 L664.9,158.5 L665.9,158.5 L666.9,158.5 L668.0,158.5 L669.0,158.6 L670.0,158.6 L671.0,158.6 L672.0,158.6 L673.0,158.6 L674.0,158.7 L675.0,158.7 L676.0,158.7 L677.0,158.7 L678.0,158.7 L679.0,158.7 L680.0,158.8 L681.0,158.8 L682.0,158.8 L683.0,158.8 L684.0,158.8 L684.0,159.1 Z" fill="url(#pbc)"/>
<path d="M555.6,155.5 L556.6,155.2 L557.6,154.9 L558.6,154.6 L559.6,154.2 L560.6,153.8 L561.6,153.4 L562.6,152.9 L563.6,152.5 L564.6,151.9 L565.6,151.4 L566.6,150.9 L567.7,150.4 L568.7,149.8 L569.7,149.3 L570.7,148.8 L571.7,148.3 L572.7,147.9 L573.7,147.4 L574.7,147.0 L575.7,146.5 L576.7,146.0 L577.7,145.4 L578.7,144.8 L579.7,143.9 L580.7,142.9 L581.7,141.6 L582.7,140.0 L583.7,138.2 L584.7,136.1 L585.7,133.9 L586.7,131.8 L587.7,130.1 L588.7,128.8 L589.7,128.4 L590.7,128.8 L591.7,129.4 L592.7,130.3 L593.7,131.3 L594.7,132.5 L595.7,133.8 L596.7,135.2 L597.7,136.6 L598.7,138.0 L599.7,139.3 L600.8,140.6 L601.8,141.8 L602.8,142.9 L603.8,143.9 L604.8,144.7 L605.8,145.4 L606.8,145.8 L607.8,145.9 L608.8,145.9 L609.8,145.6 L610.8,145.2 L611.8,144.6 L612.8,144.0 L613.8,143.3 L614.8,142.6 L615.8,142.0 L616.8,141.4 L617.8,141.0 L618.8,140.7 L619.8,140.6 L620.8,140.7 L621.8,141.0 L622.8,141.4 L623.8,142.1 L624.8,142.9 L625.8,143.9 L626.8,144.9 L627.8,146.0 L628.8,147.2 L629.8,148.4 L630.8,149.5 L631.8,150.6 L632.8,151.7 L633.9,152.6 L634.9,153.5 L635.9,154.2 L636.9,154.8 L637.9,155.4 L638.9,155.9 L639.9,156.2" fill="none" stroke="#f0309c" stroke-width="2.0" stroke-linecap="round" stroke-dasharray="0.1,3.5"/>
<path d="M483.4,156.6 L484.4,156.0 L485.4,155.6 L486.4,156.6 L487.4,156.7 L488.4,156.0 L489.4,155.6 L490.4,155.7 L491.4,155.5 L492.4,155.9 L493.4,155.5 L494.4,155.8 L495.4,155.8 L496.4,156.2 L497.4,156.7 L498.4,156.5 L499.4,156.1 L500.5,156.1 L501.5,156.2 L502.5,156.0 L503.5,156.0 L504.5,155.6 L505.5,155.9 L506.5,156.9 L507.5,155.7 L508.5,156.3 L509.5,156.5 L510.5,156.8 L511.5,155.9 L512.5,156.0 L513.5,156.0 L514.5,156.2 L515.5,156.3 L516.5,157.0 L517.5,156.9 L518.5,156.9 L519.5,155.7 L520.5,155.7 L521.5,156.7 L522.5,157.0 L523.5,156.4 L524.5,156.6 L525.5,155.7 L526.5,156.3 L527.5,157.1 L528.5,156.9 L529.5,157.0 L530.5,157.2 L531.5,156.2 L532.5,156.0 L533.6,156.0 L534.6,156.6 L535.6,156.8 L536.6,157.2 L537.6,156.9 L538.6,156.8 L539.6,157.0 L540.6,156.5 L541.6,156.7 L542.6,156.0 L543.6,157.0 L544.6,156.3 L545.6,157.2 L546.6,156.7 L547.6,156.2 L548.6,155.9 L549.6,155.9 L550.6,156.4 L551.6,156.3 L552.6,155.3 L553.6,155.1 L554.6,155.5 L555.6,155.4 L556.6,154.8 L557.6,154.3 L558.6,154.5 L559.6,153.3 L560.6,153.3 L561.6,153.1 L562.6,153.3 L563.6,152.4 L564.6,152.2 L565.6,151.2 L566.6,150.3 L567.7,149.9 L568.7,150.4 L569.7,149.5 L570.7,148.5 L571.7,147.6 L572.7,147.9 L573.7,147.7 L574.7,146.9 L575.7,146.2 L576.7,146.3 L577.7,146.0 L578.7,144.3 L579.7,143.1 L580.7,142.3 L581.7,141.0 L582.7,139.7 L583.7,137.1 L584.7,135.7 L585.7,133.4 L586.7,130.8 L587.7,128.5 L588.7,128.2 L589.7,126.8 L590.7,127.8 L591.7,127.5 L592.7,128.4 L593.7,130.2 L594.7,130.8 L595.7,133.1 L596.7,133.9 L597.7,134.9 L598.7,136.5 L599.7,138.2 L600.8,139.9 L601.8,141.6 L602.8,141.8 L603.8,143.4 L604.8,144.4 L605.8,146.5 L606.8,146.2 L607.8,146.7 L608.8,147.1 L609.8,147.7 L610.8,148.2 L611.8,147.7 L612.8,146.7 L613.8,146.2 L614.8,145.1 L615.8,143.3 L616.8,142.2 L617.8,142.4 L618.8,141.5 L619.8,140.0 L620.8,140.7 L621.8,140.2 L622.8,140.4 L623.8,140.8 L624.8,141.3 L625.8,142.0 L626.8,143.4 L627.8,144.7 L628.8,146.7 L629.8,146.8 L630.8,149.2 L631.8,149.3 L632.8,150.7 L633.9,152.4 L634.9,153.4 L635.9,153.6 L636.9,153.8 L637.9,155.0 L638.9,155.3 L639.9,156.5 L640.9,155.8 L641.9,156.3 L642.9,157.2 L643.9,156.2 L644.9,156.8 L645.9,157.5 L646.9,157.5 L647.9,156.6 L648.9,156.6 L649.9,156.7 L650.9,158.0 L651.9,157.1 L652.9,157.8 L653.9,158.1 L654.9,157.3 L655.9,157.3 L656.9,158.2 L657.9,157.8 L658.9,157.3 L659.9,158.0 L660.9,157.5 L661.9,157.4 L662.9,157.1 L663.9,158.1 L664.9,158.4 L665.9,158.0 L666.9,158.5 L668.0,157.2 L669.0,157.5 L670.0,157.9 L671.0,158.6 L672.0,158.6 L673.0,157.8 L674.0,157.6 L675.0,157.9 L676.0,158.0 L677.0,158.6 L678.0,157.6 L679.0,158.5 L680.0,158.4 L681.0,158.5 L682.0,158.5 L683.0,158.2 L684.0,157.9" fill="none" stroke="#111" stroke-width="1.2"/>
<line x1="482.6" y1="157.4" x2="684.8" y2="159.5" stroke="#2236e4" stroke-width="1.5"/>
<path d="M483.4,194.7 L483.4,193.5 L484.4,193.5 L485.4,194.1 L486.4,193.2 L487.4,193.3 L488.4,194.1 L489.4,193.4 L490.4,193.2 L491.4,193.2 L492.4,193.9 L493.4,193.6 L494.4,194.5 L495.4,194.4 L496.4,194.6 L497.4,193.6 L498.4,193.3 L499.4,193.4 L500.5,193.9 L501.5,194.2 L502.5,193.9 L503.5,193.6 L504.5,193.9 L505.5,194.2 L506.5,194.3 L507.5,194.4 L508.5,194.5 L509.5,194.3 L510.5,193.5 L511.5,194.5 L512.5,193.8 L513.5,194.2 L514.5,193.9 L515.5,194.5 L516.5,193.7 L517.5,193.8 L518.5,193.8 L519.5,193.7 L520.5,194.7 L521.5,194.3 L522.5,194.0 L523.5,194.1 L524.5,194.9 L525.5,194.3 L526.5,193.9 L527.5,194.7 L528.5,194.5 L529.5,195.0 L530.5,193.8 L531.5,194.3 L532.5,194.8 L533.6,194.8 L534.6,194.9 L535.6,193.7 L536.6,194.1 L537.6,193.9 L538.6,194.0 L539.6,195.1 L540.6,194.6 L541.6,195.1 L542.6,194.3 L543.6,195.0 L544.6,194.3 L545.6,194.0 L546.6,194.7 L547.6,194.8 L548.6,193.6 L549.6,194.2 L550.6,194.1 L551.6,193.3 L552.6,193.4 L553.6,192.9 L554.6,192.7 L555.6,192.5 L556.6,192.7 L557.6,192.5 L558.6,191.5 L559.6,190.9 L560.6,190.9 L561.6,190.9 L562.6,189.7 L563.6,189.4 L564.6,188.7 L565.6,189.0 L566.6,188.1 L567.7,186.8 L568.7,186.2 L569.7,186.0 L570.7,185.5 L571.7,184.8 L572.7,183.1 L573.7,182.2 L574.7,181.9 L575.7,180.3 L576.7,178.9 L577.7,177.5 L578.7,176.9 L579.7,174.4 L580.7,173.1 L581.7,171.1 L582.7,169.5 L583.7,168.7 L584.7,167.8 L585.7,166.3 L586.7,166.0 L587.7,167.0 L588.7,166.9 L589.7,167.4 L590.7,169.7 L591.7,170.3 L592.7,172.1 L593.7,172.9 L594.7,175.0 L595.7,175.8 L596.7,176.6 L597.7,177.6 L598.7,179.5 L599.7,180.5 L600.8,181.7 L601.8,181.1 L602.8,182.1 L603.8,181.8 L604.8,181.8 L605.8,181.0 L606.8,180.5 L607.8,180.1 L608.8,179.7 L609.8,177.5 L610.8,176.9 L611.8,176.3 L612.8,175.5 L613.8,173.5 L614.8,172.7 L615.8,173.4 L616.8,173.3 L617.8,172.7 L618.8,172.5 L619.8,174.4 L620.8,174.4 L621.8,176.2 L622.8,176.9 L623.8,178.5 L624.8,179.0 L625.8,181.3 L626.8,182.0 L627.8,183.7 L628.8,185.7 L629.8,187.1 L630.8,187.5 L631.8,188.7 L632.8,190.0 L633.9,191.1 L634.9,191.7 L635.9,192.1 L636.9,192.9 L637.9,194.1 L638.9,194.7 L639.9,193.9 L640.9,194.9 L641.9,195.4 L642.9,194.6 L643.9,195.9 L644.9,195.0 L645.9,195.7 L646.9,195.8 L647.9,195.9 L648.9,195.5 L649.9,195.7 L650.9,196.0 L651.9,195.8 L652.9,196.1 L653.9,195.8 L654.9,195.8 L655.9,195.3 L656.9,196.1 L657.9,195.9 L658.9,195.6 L659.9,196.3 L660.9,196.4 L661.9,195.9 L662.9,195.6 L663.9,196.0 L664.9,195.5 L665.9,195.5 L666.9,196.0 L668.0,195.5 L669.0,196.0 L670.0,196.1 L671.0,195.5 L672.0,196.3 L673.0,195.6 L674.0,196.5 L675.0,196.6 L676.0,196.2 L677.0,195.6 L678.0,196.2 L679.0,196.1 L680.0,196.9 L681.0,195.7 L682.0,196.8 L683.0,197.0 L684.0,196.6 L684.0,197.3 Z" fill="#fcfaec"/>
<path d="M483.4,194.7 L483.4,194.7 L484.4,194.7 L485.4,194.7 L486.4,194.7 L487.4,194.7 L488.4,194.8 L489.4,194.8 L490.4,194.8 L491.4,194.8 L492.4,194.8 L493.4,194.8 L494.4,194.8 L495.4,194.8 L496.4,194.9 L497.4,194.9 L498.4,194.9 L499.4,194.9 L500.5,194.9 L501.5,194.9 L502.5,194.9 L503.5,194.9 L504.5,195.0 L505.5,195.0 L506.5,195.0 L507.5,195.0 L508.5,195.0 L509.5,195.0 L510.5,195.0 L511.5,195.0 L512.5,195.1 L513.5,195.1 L514.5,195.1 L515.5,195.1 L516.5,195.1 L517.5,195.1 L518.5,195.1 L519.5,195.1 L520.5,195.2 L521.5,195.2 L522.5,195.2 L523.5,195.2 L524.5,195.2 L525.5,195.2 L526.5,195.2 L527.5,195.2 L528.5,195.3 L529.5,195.3 L530.5,195.3 L531.5,195.3 L532.5,195.3 L533.6,195.3 L534.6,195.3 L535.6,195.3 L536.6,195.3 L537.6,195.4 L538.6,195.4 L539.6,195.4 L540.6,195.4 L541.6,195.4 L542.6,195.4 L543.6,195.4 L544.6,195.4 L545.6,195.4 L546.6,195.5 L547.6,195.5 L548.6,195.5 L549.6,195.5 L550.6,195.5 L551.6,195.5 L552.6,195.5 L553.6,195.5 L554.6,195.5 L555.6,195.6 L556.6,195.6 L557.6,195.6 L558.6,195.6 L559.6,195.6 L560.6,195.6 L561.6,195.6 L562.6,195.6 L563.6,195.6 L564.6,195.6 L565.6,195.7 L566.6,195.7 L567.7,195.7 L568.7,195.7 L569.7,195.7 L570.7,195.7 L571.7,195.7 L572.7,195.7 L573.7,195.7 L574.7,195.7 L575.7,195.7 L576.7,195.7 L577.7,195.7 L578.7,195.7 L579.7,195.7 L580.7,195.7 L581.7,195.7 L582.7,195.7 L583.7,195.7 L584.7,195.7 L585.7,195.7 L586.7,195.7 L587.7,195.7 L588.7,195.7 L589.7,195.7 L590.7,195.6 L591.7,195.6 L592.7,195.5 L593.7,195.4 L594.7,195.3 L595.7,195.2 L596.7,194.9 L597.7,194.7 L598.7,194.3 L599.7,193.9 L600.8,193.3 L601.8,192.6 L602.8,191.8 L603.8,190.9 L604.8,189.8 L605.8,188.5 L606.8,187.1 L607.8,185.6 L608.8,184.1 L609.8,182.4 L610.8,180.8 L611.8,179.2 L612.8,177.8 L613.8,176.5 L614.8,175.5 L615.8,174.7 L616.8,174.2 L617.8,174.1 L618.8,174.3 L619.8,174.8 L620.8,175.5 L621.8,176.4 L622.8,177.5 L623.8,178.8 L624.8,180.2 L625.8,181.6 L626.8,183.1 L627.8,184.6 L628.8,186.0 L629.8,187.4 L630.8,188.6 L631.8,189.8 L632.8,190.8 L633.9,191.8 L634.9,192.6 L635.9,193.3 L636.9,193.9 L637.9,194.4 L638.9,194.8 L639.9,195.2 L640.9,195.4 L641.9,195.7 L642.9,195.9 L643.9,196.0 L644.9,196.1 L645.9,196.2 L646.9,196.3 L647.9,196.4 L648.9,196.4 L649.9,196.5 L650.9,196.5 L651.9,196.6 L652.9,196.6 L653.9,196.6 L654.9,196.6 L655.9,196.7 L656.9,196.7 L657.9,196.7 L658.9,196.7 L659.9,196.8 L660.9,196.8 L661.9,196.8 L662.9,196.8 L663.9,196.9 L664.9,196.9 L665.9,196.9 L666.9,196.9 L668.0,196.9 L669.0,196.9 L670.0,197.0 L671.0,197.0 L672.0,197.0 L673.0,197.0 L674.0,197.0 L675.0,197.1 L676.0,197.1 L677.0,197.1 L678.0,197.1 L679.0,197.1 L680.0,197.1 L681.0,197.2 L682.0,197.2 L683.0,197.2 L684.0,197.2 L684.0,197.3 Z" fill="url(#pm)"/>
<path d="M483.4,194.7 L483.4,194.7 L484.4,194.7 L485.4,194.7 L486.4,194.7 L487.4,194.7 L488.4,194.7 L489.4,194.7 L490.4,194.8 L491.4,194.8 L492.4,194.8 L493.4,194.8 L494.4,194.8 L495.4,194.8 L496.4,194.8 L497.4,194.8 L498.4,194.9 L499.4,194.9 L500.5,194.9 L501.5,194.9 L502.5,194.9 L503.5,194.9 L504.5,194.9 L505.5,194.9 L506.5,194.9 L507.5,195.0 L508.5,195.0 L509.5,195.0 L510.5,195.0 L511.5,195.0 L512.5,195.0 L513.5,195.0 L514.5,195.0 L515.5,195.0 L516.5,195.1 L517.5,195.1 L518.5,195.1 L519.5,195.1 L520.5,195.1 L521.5,195.1 L522.5,195.1 L523.5,195.1 L524.5,195.1 L525.5,195.1 L526.5,195.2 L527.5,195.2 L528.5,195.2 L529.5,195.2 L530.5,195.2 L531.5,195.2 L532.5,195.2 L533.6,195.2 L534.6,195.2 L535.6,195.2 L536.6,195.2 L537.6,195.2 L538.6,195.2 L539.6,195.2 L540.6,195.2 L541.6,195.1 L542.6,195.1 L543.6,195.1 L544.6,195.0 L545.6,195.0 L546.6,194.9 L547.6,194.8 L548.6,194.7 L549.6,194.6 L550.6,194.5 L551.6,194.4 L552.6,194.2 L553.6,194.0 L554.6,193.8 L555.6,193.5 L556.6,193.2 L557.6,192.9 L558.6,192.6 L559.6,192.2 L560.6,191.8 L561.6,191.3 L562.6,190.8 L563.6,190.3 L564.6,189.8 L565.6,189.2 L566.6,188.6 L567.7,187.9 L568.7,187.3 L569.7,186.6 L570.7,185.8 L571.7,185.0 L572.7,184.2 L573.7,183.3 L574.7,182.2 L575.7,181.1 L576.7,179.8 L577.7,178.4 L578.7,176.8 L579.7,175.1 L580.7,173.4 L581.7,171.7 L582.7,170.0 L583.7,168.7 L584.7,167.6 L585.7,167.1 L586.7,167.2 L587.7,167.6 L588.7,168.4 L589.7,169.5 L590.7,170.8 L591.7,172.3 L592.7,174.0 L593.7,175.7 L594.7,177.4 L595.7,179.2 L596.7,180.9 L597.7,182.5 L598.7,184.0 L599.7,185.4 L600.8,186.7 L601.8,187.9 L602.8,188.9 L603.8,189.9 L604.8,190.7 L605.8,191.4 L606.8,192.0 L607.8,192.6 L608.8,193.1 L609.8,193.5 L610.8,193.8 L611.8,194.2 L612.8,194.4 L613.8,194.7 L614.8,194.9 L615.8,195.0 L616.8,195.2 L617.8,195.3 L618.8,195.5 L619.8,195.6 L620.8,195.7 L621.8,195.7 L622.8,195.8 L623.8,195.9 L624.8,195.9 L625.8,196.0 L626.8,196.0 L627.8,196.1 L628.8,196.1 L629.8,196.2 L630.8,196.2 L631.8,196.2 L632.8,196.3 L633.9,196.3 L634.9,196.3 L635.9,196.3 L636.9,196.4 L637.9,196.4 L638.9,196.4 L639.9,196.4 L640.9,196.5 L641.9,196.5 L642.9,196.5 L643.9,196.5 L644.9,196.5 L645.9,196.6 L646.9,196.6 L647.9,196.6 L648.9,196.6 L649.9,196.6 L650.9,196.7 L651.9,196.7 L652.9,196.7 L653.9,196.7 L654.9,196.7 L655.9,196.8 L656.9,196.8 L657.9,196.8 L658.9,196.8 L659.9,196.8 L660.9,196.8 L661.9,196.9 L662.9,196.9 L663.9,196.9 L664.9,196.9 L665.9,196.9 L666.9,196.9 L668.0,197.0 L669.0,197.0 L670.0,197.0 L671.0,197.0 L672.0,197.0 L673.0,197.0 L674.0,197.1 L675.0,197.1 L676.0,197.1 L677.0,197.1 L678.0,197.1 L679.0,197.1 L680.0,197.1 L681.0,197.2 L682.0,197.2 L683.0,197.2 L684.0,197.2 L684.0,197.3 Z" fill="url(#pbc)"/>
<path d="M554.6,193.4 L555.6,193.1 L556.6,192.8 L557.6,192.5 L558.6,192.2 L559.6,191.8 L560.6,191.4 L561.6,190.9 L562.6,190.4 L563.6,189.9 L564.6,189.3 L565.6,188.8 L566.6,188.1 L567.7,187.5 L568.7,186.8 L569.7,186.1 L570.7,185.4 L571.7,184.6 L572.7,183.7 L573.7,182.8 L574.7,181.8 L575.7,180.6 L576.7,179.3 L577.7,177.9 L578.7,176.3 L579.7,174.6 L580.7,172.9 L581.7,171.1 L582.7,169.5 L583.7,168.1 L584.7,167.1 L585.7,166.5 L586.7,166.5 L587.7,167.0 L588.7,167.8 L589.7,168.8 L590.7,170.1 L591.7,171.5 L592.7,173.1 L593.7,174.7 L594.7,176.3 L595.7,177.9 L596.7,179.3 L597.7,180.7 L598.7,181.8 L599.7,182.8 L600.8,183.5 L601.8,184.0 L602.8,184.2 L603.8,184.2 L604.8,183.9 L605.8,183.3 L606.8,182.6 L607.8,181.6 L608.8,180.5 L609.8,179.3 L610.8,178.0 L611.8,176.7 L612.8,175.5 L613.8,174.5 L614.8,173.6 L615.8,173.0 L616.8,172.7 L617.8,172.7 L618.8,173.0 L619.8,173.6 L620.8,174.3 L621.8,175.3 L622.8,176.5 L623.8,177.9 L624.8,179.3 L625.8,180.8 L626.8,182.3 L627.8,183.8 L628.8,185.2 L629.8,186.6 L630.8,187.9 L631.8,189.1 L632.8,190.2 L633.9,191.1 L634.9,191.9 L635.9,192.7 L636.9,193.3 L637.9,193.8 L638.9,194.2 L639.9,194.6" fill="none" stroke="#f0309c" stroke-width="2.0" stroke-linecap="round" stroke-dasharray="0.1,3.5"/>
<path d="M483.4,193.5 L484.4,193.5 L485.4,194.1 L486.4,193.2 L487.4,193.3 L488.4,194.1 L489.4,193.4 L490.4,193.2 L491.4,193.2 L492.4,193.9 L493.4,193.6 L494.4,194.5 L495.4,194.4 L496.4,194.6 L497.4,193.6 L498.4,193.3 L499.4,193.4 L500.5,193.9 L501.5,194.2 L502.5,193.9 L503.5,193.6 L504.5,193.9 L505.5,194.2 L506.5,194.3 L507.5,194.4 L508.5,194.5 L509.5,194.3 L510.5,193.5 L511.5,194.5 L512.5,193.8 L513.5,194.2 L514.5,193.9 L515.5,194.5 L516.5,193.7 L517.5,193.8 L518.5,193.8 L519.5,193.7 L520.5,194.7 L521.5,194.3 L522.5,194.0 L523.5,194.1 L524.5,194.9 L525.5,194.3 L526.5,193.9 L527.5,194.7 L528.5,194.5 L529.5,195.0 L530.5,193.8 L531.5,194.3 L532.5,194.8 L533.6,194.8 L534.6,194.9 L535.6,193.7 L536.6,194.1 L537.6,193.9 L538.6,194.0 L539.6,195.1 L540.6,194.6 L541.6,195.1 L542.6,194.3 L543.6,195.0 L544.6,194.3 L545.6,194.0 L546.6,194.7 L547.6,194.8 L548.6,193.6 L549.6,194.2 L550.6,194.1 L551.6,193.3 L552.6,193.4 L553.6,192.9 L554.6,192.7 L555.6,192.5 L556.6,192.7 L557.6,192.5 L558.6,191.5 L559.6,190.9 L560.6,190.9 L561.6,190.9 L562.6,189.7 L563.6,189.4 L564.6,188.7 L565.6,189.0 L566.6,188.1 L567.7,186.8 L568.7,186.2 L569.7,186.0 L570.7,185.5 L571.7,184.8 L572.7,183.1 L573.7,182.2 L574.7,181.9 L575.7,180.3 L576.7,178.9 L577.7,177.5 L578.7,176.9 L579.7,174.4 L580.7,173.1 L581.7,171.1 L582.7,169.5 L583.7,168.7 L584.7,167.8 L585.7,166.3 L586.7,166.0 L587.7,167.0 L588.7,166.9 L589.7,167.4 L590.7,169.7 L591.7,170.3 L592.7,172.1 L593.7,172.9 L594.7,175.0 L595.7,175.8 L596.7,176.6 L597.7,177.6 L598.7,179.5 L599.7,180.5 L600.8,181.7 L601.8,181.1 L602.8,182.1 L603.8,181.8 L604.8,181.8 L605.8,181.0 L606.8,180.5 L607.8,180.1 L608.8,179.7 L609.8,177.5 L610.8,176.9 L611.8,176.3 L612.8,175.5 L613.8,173.5 L614.8,172.7 L615.8,173.4 L616.8,173.3 L617.8,172.7 L618.8,172.5 L619.8,174.4 L620.8,174.4 L621.8,176.2 L622.8,176.9 L623.8,178.5 L624.8,179.0 L625.8,181.3 L626.8,182.0 L627.8,183.7 L628.8,185.7 L629.8,187.1 L630.8,187.5 L631.8,188.7 L632.8,190.0 L633.9,191.1 L634.9,191.7 L635.9,192.1 L636.9,192.9 L637.9,194.1 L638.9,194.7 L639.9,193.9 L640.9,194.9 L641.9,195.4 L642.9,194.6 L643.9,195.9 L644.9,195.0 L645.9,195.7 L646.9,195.8 L647.9,195.9 L648.9,195.5 L649.9,195.7 L650.9,196.0 L651.9,195.8 L652.9,196.1 L653.9,195.8 L654.9,195.8 L655.9,195.3 L656.9,196.1 L657.9,195.9 L658.9,195.6 L659.9,196.3 L660.9,196.4 L661.9,195.9 L662.9,195.6 L663.9,196.0 L664.9,195.5 L665.9,195.5 L666.9,196.0 L668.0,195.5 L669.0,196.0 L670.0,196.1 L671.0,195.5 L672.0,196.3 L673.0,195.6 L674.0,196.5 L675.0,196.6 L676.0,196.2 L677.0,195.6 L678.0,196.2 L679.0,196.1 L680.0,196.9 L681.0,195.7 L682.0,196.8 L683.0,197.0 L684.0,196.6" fill="none" stroke="#111" stroke-width="1.2"/>
<line x1="482.6" y1="195.1" x2="684.8" y2="197.7" stroke="#2236e4" stroke-width="1.5"/>
<path d="M483.4,231.9 L483.4,231.4 L484.4,230.5 L485.4,231.6 L486.4,230.9 L487.4,231.6 L488.4,231.6 L489.4,230.5 L490.4,231.4 L491.4,231.6 L492.4,230.4 L493.4,230.9 L494.4,231.4 L495.4,230.6 L496.4,231.7 L497.4,230.8 L498.4,231.6 L499.4,230.7 L500.5,231.2 L501.5,231.8 L502.5,230.8 L503.5,230.9 L504.5,231.2 L505.5,231.0 L506.5,230.6 L507.5,230.8 L508.5,230.8 L509.5,231.9 L510.5,231.6 L511.5,231.9 L512.5,230.9 L513.5,231.8 L514.5,230.9 L515.5,231.4 L516.5,231.6 L517.5,231.2 L518.5,232.0 L519.5,231.5 L520.5,231.6 L521.5,232.0 L522.5,230.9 L523.5,232.1 L524.5,231.6 L525.5,231.3 L526.5,231.8 L527.5,231.0 L528.5,232.0 L529.5,231.4 L530.5,231.0 L531.5,231.5 L532.5,231.0 L533.6,230.6 L534.6,231.3 L535.6,230.2 L536.6,231.2 L537.6,230.3 L538.6,230.7 L539.6,231.1 L540.6,230.4 L541.6,230.4 L542.6,229.8 L543.6,229.2 L544.6,229.1 L545.6,229.1 L546.6,229.6 L547.6,229.1 L548.6,229.1 L549.6,229.4 L550.6,228.1 L551.6,228.1 L552.6,228.5 L553.6,227.4 L554.6,227.2 L555.6,227.5 L556.6,226.9 L557.6,227.1 L558.6,226.7 L559.6,227.0 L560.6,226.8 L561.6,226.1 L562.6,226.5 L563.6,226.2 L564.6,225.6 L565.6,226.6 L566.6,225.5 L567.7,225.3 L568.7,225.1 L569.7,225.7 L570.7,225.8 L571.7,225.4 L572.7,224.4 L573.7,223.6 L574.7,222.5 L575.7,222.4 L576.7,221.1 L577.7,219.5 L578.7,218.5 L579.7,216.6 L580.7,215.7 L581.7,213.7 L582.7,211.3 L583.7,210.5 L584.7,207.7 L585.7,207.0 L586.7,205.7 L587.7,204.6 L588.7,203.8 L589.7,204.8 L590.7,203.9 L591.7,205.2 L592.7,206.6 L593.7,206.4 L594.7,207.7 L595.7,209.5 L596.7,210.6 L597.7,212.1 L598.7,213.7 L599.7,214.2 L600.8,215.7 L601.8,216.8 L602.8,217.3 L603.8,219.1 L604.8,219.3 L605.8,219.3 L606.8,218.0 L607.8,218.6 L608.8,217.6 L609.8,216.2 L610.8,215.4 L611.8,213.8 L612.8,212.3 L613.8,210.9 L614.8,210.1 L615.8,209.0 L616.8,208.8 L617.8,208.9 L618.8,208.7 L619.8,209.0 L620.8,209.2 L621.8,209.2 L622.8,210.5 L623.8,211.5 L624.8,213.3 L625.8,214.4 L626.8,215.6 L627.8,217.8 L628.8,219.9 L629.8,220.5 L630.8,223.0 L631.8,223.2 L632.8,224.9 L633.9,226.0 L634.9,227.7 L635.9,228.8 L636.9,229.3 L637.9,229.3 L638.9,230.6 L639.9,230.2 L640.9,230.5 L641.9,231.7 L642.9,231.6 L643.9,231.9 L644.9,232.0 L645.9,232.6 L646.9,232.0 L647.9,232.7 L648.9,232.6 L649.9,232.9 L650.9,232.4 L651.9,232.9 L652.9,232.8 L653.9,232.5 L654.9,232.4 L655.9,233.0 L656.9,232.3 L657.9,233.6 L658.9,232.6 L659.9,232.5 L660.9,232.6 L661.9,233.8 L662.9,233.1 L663.9,232.8 L664.9,232.7 L665.9,232.8 L666.9,233.7 L668.0,233.7 L669.0,233.8 L670.0,233.9 L671.0,233.0 L672.0,233.8 L673.0,233.5 L674.0,234.2 L675.0,234.2 L676.0,234.4 L677.0,233.2 L678.0,234.4 L679.0,234.5 L680.0,234.5 L681.0,233.4 L682.0,233.5 L683.0,233.4 L684.0,233.3 L684.0,235.0 Z" fill="#fcfaec"/>
<path d="M483.4,231.9 L483.4,231.8 L484.4,231.9 L485.4,231.9 L486.4,231.9 L487.4,231.9 L488.4,231.9 L489.4,231.9 L490.4,231.9 L491.4,232.0 L492.4,232.0 L493.4,232.0 L494.4,232.0 L495.4,232.0 L496.4,232.0 L497.4,232.0 L498.4,232.0 L499.4,232.1 L500.5,232.1 L501.5,232.1 L502.5,232.1 L503.5,232.1 L504.5,232.1 L505.5,232.1 L506.5,232.2 L507.5,232.2 L508.5,232.2 L509.5,232.2 L510.5,232.2 L511.5,232.2 L512.5,232.2 L513.5,232.3 L514.5,232.3 L515.5,232.3 L516.5,232.3 L517.5,232.3 L518.5,232.3 L519.5,232.3 L520.5,232.3 L521.5,232.4 L522.5,232.4 L523.5,232.4 L524.5,232.4 L525.5,232.4 L526.5,232.4 L527.5,232.4 L528.5,232.4 L529.5,232.5 L530.5,232.5 L531.5,232.5 L532.5,232.5 L533.6,232.5 L534.6,232.5 L535.6,232.5 L536.6,232.5 L537.6,232.5 L538.6,232.6 L539.6,232.6 L540.6,232.6 L541.6,232.6 L542.6,232.6 L543.6,232.6 L544.6,232.6 L545.6,232.6 L546.6,232.6 L547.6,232.6 L548.6,232.6 L549.6,232.7 L550.6,232.7 L551.6,232.7 L552.6,232.7 L553.6,232.7 L554.6,232.7 L555.6,232.7 L556.6,232.7 L557.6,232.7 L558.6,232.7 L559.6,232.7 L560.6,232.7 L561.6,232.7 L562.6,232.7 L563.6,232.7 L564.6,232.7 L565.6,232.7 L566.6,232.7 L567.7,232.7 L568.7,232.7 L569.7,232.7 L570.7,232.7 L571.7,232.7 L572.7,232.7 L573.7,232.7 L574.7,232.7 L575.7,232.7 L576.7,232.6 L577.7,232.6 L578.7,232.6 L579.7,232.6 L580.7,232.6 L581.7,232.5 L582.7,232.5 L583.7,232.5 L584.7,232.4 L585.7,232.4 L586.7,232.4 L587.7,232.3 L588.7,232.2 L589.7,232.1 L590.7,232.0 L591.7,231.9 L592.7,231.8 L593.7,231.6 L594.7,231.4 L595.7,231.2 L596.7,230.9 L597.7,230.6 L598.7,230.1 L599.7,229.7 L600.8,229.1 L601.8,228.4 L602.8,227.7 L603.8,226.8 L604.8,225.8 L605.8,224.7 L606.8,223.5 L607.8,222.2 L608.8,220.9 L609.8,219.4 L610.8,218.0 L611.8,216.5 L612.8,215.1 L613.8,213.8 L614.8,212.5 L615.8,211.5 L616.8,210.6 L617.8,210.0 L618.8,209.7 L619.8,209.7 L620.8,210.0 L621.8,210.7 L622.8,211.6 L623.8,212.9 L624.8,214.3 L625.8,215.9 L626.8,217.5 L627.8,219.2 L628.8,220.8 L629.8,222.4 L630.8,223.9 L631.8,225.3 L632.8,226.5 L633.9,227.6 L634.9,228.5 L635.9,229.4 L636.9,230.1 L637.9,230.7 L638.9,231.2 L639.9,231.6 L640.9,231.9 L641.9,232.2 L642.9,232.5 L643.9,232.7 L644.9,232.8 L645.9,233.0 L646.9,233.1 L647.9,233.2 L648.9,233.3 L649.9,233.4 L650.9,233.5 L651.9,233.6 L652.9,233.6 L653.9,233.7 L654.9,233.7 L655.9,233.8 L656.9,233.9 L657.9,233.9 L658.9,233.9 L659.9,234.0 L660.9,234.0 L661.9,234.1 L662.9,234.1 L663.9,234.2 L664.9,234.2 L665.9,234.2 L666.9,234.3 L668.0,234.3 L669.0,234.3 L670.0,234.4 L671.0,234.4 L672.0,234.4 L673.0,234.4 L674.0,234.5 L675.0,234.5 L676.0,234.5 L677.0,234.6 L678.0,234.6 L679.0,234.6 L680.0,234.6 L681.0,234.7 L682.0,234.7 L683.0,234.7 L684.0,234.7 L684.0,235.0 Z" fill="url(#pm)"/>
<path d="M483.4,231.9 L483.4,231.9 L484.4,231.9 L485.4,231.9 L486.4,231.9 L487.4,231.9 L488.4,232.0 L489.4,232.0 L490.4,232.0 L491.4,232.0 L492.4,232.0 L493.4,232.0 L494.4,232.0 L495.4,232.1 L496.4,232.1 L497.4,232.1 L498.4,232.1 L499.4,232.1 L500.5,232.1 L501.5,232.1 L502.5,232.2 L503.5,232.2 L504.5,232.2 L505.5,232.2 L506.5,232.2 L507.5,232.2 L508.5,232.2 L509.5,232.2 L510.5,232.2 L511.5,232.3 L512.5,232.3 L513.5,232.3 L514.5,232.3 L515.5,232.3 L516.5,232.3 L517.5,232.3 L518.5,232.3 L519.5,232.3 L520.5,232.3 L521.5,232.3 L522.5,232.2 L523.5,232.2 L524.5,232.2 L525.5,232.2 L526.5,232.2 L527.5,232.1 L528.5,232.1 L529.5,232.1 L530.5,232.0 L531.5,232.0 L532.5,231.9 L533.6,231.8 L534.6,231.8 L535.6,231.7 L536.6,231.6 L537.6,231.5 L538.6,231.4 L539.6,231.3 L540.6,231.2 L541.6,231.0 L542.6,230.9 L543.6,230.8 L544.6,230.6 L545.6,230.5 L546.6,230.3 L547.6,230.1 L548.6,230.0 L549.6,229.8 L550.6,229.6 L551.6,229.4 L552.6,229.2 L553.6,229.0 L554.6,228.8 L555.6,228.7 L556.6,228.5 L557.6,228.3 L558.6,228.1 L559.6,227.9 L560.6,227.7 L561.6,227.6 L562.6,227.4 L563.6,227.2 L564.6,227.1 L565.6,226.9 L566.6,226.7 L567.7,226.5 L568.7,226.3 L569.7,226.0 L570.7,225.6 L571.7,225.2 L572.7,224.7 L573.7,224.1 L574.7,223.3 L575.7,222.4 L576.7,221.3 L577.7,220.1 L578.7,218.7 L579.7,217.2 L580.7,215.6 L581.7,213.9 L582.7,212.2 L583.7,210.5 L584.7,209.0 L585.7,207.7 L586.7,206.7 L587.7,206.1 L588.7,205.8 L589.7,206.0 L590.7,206.5 L591.7,207.5 L592.7,208.9 L593.7,210.5 L594.7,212.3 L595.7,214.3 L596.7,216.4 L597.7,218.4 L598.7,220.4 L599.7,222.2 L600.8,224.0 L601.8,225.5 L602.8,226.8 L603.8,228.0 L604.8,229.0 L605.8,229.8 L606.8,230.5 L607.8,231.1 L608.8,231.5 L609.8,231.9 L610.8,232.2 L611.8,232.5 L612.8,232.7 L613.8,232.8 L614.8,233.0 L615.8,233.1 L616.8,233.2 L617.8,233.3 L618.8,233.4 L619.8,233.4 L620.8,233.5 L621.8,233.6 L622.8,233.6 L623.8,233.7 L624.8,233.7 L625.8,233.8 L626.8,233.8 L627.8,233.8 L628.8,233.9 L629.8,233.9 L630.8,233.9 L631.8,234.0 L632.8,234.0 L633.9,234.0 L634.9,234.1 L635.9,234.1 L636.9,234.1 L637.9,234.1 L638.9,234.2 L639.9,234.2 L640.9,234.2 L641.9,234.2 L642.9,234.2 L643.9,234.3 L644.9,234.3 L645.9,234.3 L646.9,234.3 L647.9,234.3 L648.9,234.4 L649.9,234.4 L650.9,234.4 L651.9,234.4 L652.9,234.4 L653.9,234.4 L654.9,234.5 L655.9,234.5 L656.9,234.5 L657.9,234.5 L658.9,234.5 L659.9,234.6 L660.9,234.6 L661.9,234.6 L662.9,234.6 L663.9,234.6 L664.9,234.6 L665.9,234.7 L666.9,234.7 L668.0,234.7 L669.0,234.7 L670.0,234.7 L671.0,234.7 L672.0,234.8 L673.0,234.8 L674.0,234.8 L675.0,234.8 L676.0,234.8 L677.0,234.8 L678.0,234.9 L679.0,234.9 L680.0,234.9 L681.0,234.9 L682.0,234.9 L683.0,234.9 L684.0,235.0 L684.0,235.0 Z" fill="url(#pbc)"/>
<path d="M540.6,230.6 L541.6,230.5 L542.6,230.4 L543.6,230.2 L544.6,230.1 L545.6,229.9 L546.6,229.7 L547.6,229.6 L548.6,229.4 L549.6,229.2 L550.6,229.0 L551.6,228.8 L552.6,228.6 L553.6,228.4 L554.6,228.2 L555.6,228.0 L556.6,227.8 L557.6,227.6 L558.6,227.4 L559.6,227.3 L560.6,227.1 L561.6,226.9 L562.6,226.7 L563.6,226.5 L564.6,226.3 L565.6,226.1 L566.6,225.9 L567.7,225.7 L568.7,225.5 L569.7,225.2 L570.7,224.8 L571.7,224.4 L572.7,223.8 L573.7,223.2 L574.7,222.4 L575.7,221.4 L576.7,220.3 L577.7,219.1 L578.7,217.7 L579.7,216.1 L580.7,214.4 L581.7,212.7 L582.7,211.0 L583.7,209.3 L584.7,207.7 L585.7,206.4 L586.7,205.3 L587.7,204.6 L588.7,204.2 L589.7,204.3 L590.7,204.7 L591.7,205.6 L592.7,206.8 L593.7,208.2 L594.7,209.8 L595.7,211.6 L596.7,213.3 L597.7,215.0 L598.7,216.6 L599.7,217.9 L600.8,219.0 L601.8,219.9 L602.8,220.5 L603.8,220.7 L604.8,220.7 L605.8,220.4 L606.8,219.9 L607.8,219.2 L608.8,218.2 L609.8,217.1 L610.8,215.8 L611.8,214.5 L612.8,213.2 L613.8,212.0 L614.8,210.9 L615.8,210.0 L616.8,209.3 L617.8,208.9 L618.8,208.7 L619.8,208.8 L620.8,209.2 L621.8,209.9 L622.8,210.9 L623.8,212.2 L624.8,213.7 L625.8,215.3 L626.8,216.9 L627.8,218.6 L628.8,220.3 L629.8,221.9 L630.8,223.4 L631.8,224.7 L632.8,226.0 L633.9,227.1 L634.9,228.1 L635.9,228.9 L636.9,229.6 L637.9,230.2 L638.9,230.7 L639.9,231.2 L640.9,231.5 L641.9,231.8 L642.9,232.1 L643.9,232.3" fill="none" stroke="#f0309c" stroke-width="2.0" stroke-linecap="round" stroke-dasharray="0.1,3.5"/>
<path d="M483.4,231.4 L484.4,230.5 L485.4,231.6 L486.4,230.9 L487.4,231.6 L488.4,231.6 L489.4,230.5 L490.4,231.4 L491.4,231.6 L492.4,230.4 L493.4,230.9 L494.4,231.4 L495.4,230.6 L496.4,231.7 L497.4,230.8 L498.4,231.6 L499.4,230.7 L500.5,231.2 L501.5,231.8 L502.5,230.8 L503.5,230.9 L504.5,231.2 L505.5,231.0 L506.5,230.6 L507.5,230.8 L508.5,230.8 L509.5,231.9 L510.5,231.6 L511.5,231.9 L512.5,230.9 L513.5,231.8 L514.5,230.9 L515.5,231.4 L516.5,231.6 L517.5,231.2 L518.5,232.0 L519.5,231.5 L520.5,231.6 L521.5,232.0 L522.5,230.9 L523.5,232.1 L524.5,231.6 L525.5,231.3 L526.5,231.8 L527.5,231.0 L528.5,232.0 L529.5,231.4 L530.5,231.0 L531.5,231.5 L532.5,231.0 L533.6,230.6 L534.6,231.3 L535.6,230.2 L536.6,231.2 L537.6,230.3 L538.6,230.7 L539.6,231.1 L540.6,230.4 L541.6,230.4 L542.6,229.8 L543.6,229.2 L544.6,229.1 L545.6,229.1 L546.6,229.6 L547.6,229.1 L548.6,229.1 L549.6,229.4 L550.6,228.1 L551.6,228.1 L552.6,228.5 L553.6,227.4 L554.6,227.2 L555.6,227.5 L556.6,226.9 L557.6,227.1 L558.6,226.7 L559.6,227.0 L560.6,226.8 L561.6,226.1 L562.6,226.5 L563.6,226.2 L564.6,225.6 L565.6,226.6 L566.6,225.5 L567.7,225.3 L568.7,225.1 L569.7,225.7 L570.7,225.8 L571.7,225.4 L572.7,224.4 L573.7,223.6 L574.7,222.5 L575.7,222.4 L576.7,221.1 L577.7,219.5 L578.7,218.5 L579.7,216.6 L580.7,215.7 L581.7,213.7 L582.7,211.3 L583.7,210.5 L584.7,207.7 L585.7,207.0 L586.7,205.7 L587.7,204.6 L588.7,203.8 L589.7,204.8 L590.7,203.9 L591.7,205.2 L592.7,206.6 L593.7,206.4 L594.7,207.7 L595.7,209.5 L596.7,210.6 L597.7,212.1 L598.7,213.7 L599.7,214.2 L600.8,215.7 L601.8,216.8 L602.8,217.3 L603.8,219.1 L604.8,219.3 L605.8,219.3 L606.8,218.0 L607.8,218.6 L608.8,217.6 L609.8,216.2 L610.8,215.4 L611.8,213.8 L612.8,212.3 L613.8,210.9 L614.8,210.1 L615.8,209.0 L616.8,208.8 L617.8,208.9 L618.8,208.7 L619.8,209.0 L620.8,209.2 L621.8,209.2 L622.8,210.5 L623.8,211.5 L624.8,213.3 L625.8,214.4 L626.8,215.6 L627.8,217.8 L628.8,219.9 L629.8,220.5 L630.8,223.0 L631.8,223.2 L632.8,224.9 L633.9,226.0 L634.9,227.7 L635.9,228.8 L636.9,229.3 L637.9,229.3 L638.9,230.6 L639.9,230.2 L640.9,230.5 L641.9,231.7 L642.9,231.6 L643.9,231.9 L644.9,232.0 L645.9,232.6 L646.9,232.0 L647.9,232.7 L648.9,232.6 L649.9,232.9 L650.9,232.4 L651.9,232.9 L652.9,232.8 L653.9,232.5 L654.9,232.4 L655.9,233.0 L656.9,232.3 L657.9,233.6 L658.9,232.6 L659.9,232.5 L660.9,232.6 L661.9,233.8 L662.9,233.1 L663.9,232.8 L664.9,232.7 L665.9,232.8 L666.9,233.7 L668.0,233.7 L669.0,233.8 L670.0,233.9 L671.0,233.0 L672.0,233.8 L673.0,233.5 L674.0,234.2 L675.0,234.2 L676.0,234.4 L677.0,233.2 L678.0,234.4 L679.0,234.5 L680.0,234.5 L681.0,233.4 L682.0,233.5 L683.0,233.4 L684.0,233.3" fill="none" stroke="#111" stroke-width="1.2"/>
<line x1="482.6" y1="232.3" x2="684.8" y2="235.4" stroke="#2236e4" stroke-width="1.5"/>
<path d="M483.4,268.8 L483.4,268.3 L484.4,268.3 L485.4,268.0 L486.4,268.3 L487.4,268.1 L488.4,267.6 L489.4,267.4 L490.4,267.4 L491.4,268.3 L492.4,267.6 L493.4,267.8 L494.4,267.9 L495.4,267.4 L496.4,267.7 L497.4,267.8 L498.4,268.4 L499.4,267.9 L500.5,267.9 L501.5,268.8 L502.5,268.2 L503.5,268.7 L504.5,268.4 L505.5,267.6 L506.5,268.1 L507.5,268.2 L508.5,268.7 L509.5,268.1 L510.5,268.6 L511.5,268.4 L512.5,268.0 L513.5,268.9 L514.5,267.8 L515.5,268.9 L516.5,268.0 L517.5,267.8 L518.5,268.1 L519.5,268.9 L520.5,269.2 L521.5,267.9 L522.5,268.6 L523.5,268.6 L524.5,269.0 L525.5,268.2 L526.5,268.6 L527.5,268.5 L528.5,269.2 L529.5,268.4 L530.5,269.3 L531.5,268.4 L532.5,268.3 L533.6,269.0 L534.6,268.7 L535.6,268.1 L536.6,268.8 L537.6,268.0 L538.6,268.9 L539.6,268.8 L540.6,268.8 L541.6,268.6 L542.6,268.1 L543.6,268.1 L544.6,268.0 L545.6,268.6 L546.6,267.4 L547.6,268.4 L548.6,267.1 L549.6,267.2 L550.6,267.2 L551.6,267.9 L552.6,267.2 L553.6,266.9 L554.6,267.4 L555.6,266.3 L556.6,266.4 L557.6,266.3 L558.6,266.4 L559.6,266.2 L560.6,265.8 L561.6,265.1 L562.6,264.9 L563.6,264.4 L564.6,265.1 L565.6,264.6 L566.6,264.5 L567.7,263.4 L568.7,263.6 L569.7,263.8 L570.7,263.2 L571.7,262.3 L572.7,262.4 L573.7,262.6 L574.7,261.2 L575.7,260.6 L576.7,260.1 L577.7,259.8 L578.7,259.0 L579.7,256.9 L580.7,255.6 L581.7,254.2 L582.7,252.7 L583.7,251.3 L584.7,249.0 L585.7,247.5 L586.7,245.7 L587.7,245.4 L588.7,243.9 L589.7,242.3 L590.7,243.2 L591.7,242.0 L592.7,242.8 L593.7,244.2 L594.7,244.7 L595.7,245.6 L596.7,246.3 L597.7,247.2 L598.7,249.1 L599.7,249.7 L600.8,251.2 L601.8,252.8 L602.8,253.5 L603.8,255.0 L604.8,256.4 L605.8,256.9 L606.8,256.9 L607.8,257.2 L608.8,256.8 L609.8,255.9 L610.8,255.9 L611.8,254.8 L612.8,254.3 L613.8,253.5 L614.8,251.8 L615.8,250.9 L616.8,250.3 L617.8,249.1 L618.8,248.2 L619.8,248.6 L620.8,248.8 L621.8,248.9 L622.8,249.6 L623.8,250.9 L624.8,252.0 L625.8,253.6 L626.8,255.1 L627.8,256.7 L628.8,258.8 L629.8,259.7 L630.8,261.7 L631.8,263.5 L632.8,264.7 L633.9,265.6 L634.9,266.0 L635.9,267.0 L636.9,267.7 L637.9,268.5 L638.9,268.7 L639.9,269.4 L640.9,270.1 L641.9,269.2 L642.9,270.1 L643.9,270.4 L644.9,270.0 L645.9,270.3 L646.9,271.1 L647.9,269.9 L648.9,270.6 L649.9,270.2 L650.9,271.1 L651.9,271.4 L652.9,270.9 L653.9,270.3 L654.9,271.1 L655.9,271.1 L656.9,271.4 L657.9,271.1 L658.9,271.3 L659.9,271.6 L660.9,271.2 L661.9,271.1 L662.9,271.9 L663.9,270.9 L664.9,271.6 L665.9,271.2 L666.9,271.7 L668.0,270.8 L669.0,272.1 L670.0,271.2 L671.0,270.8 L672.0,271.1 L673.0,271.3 L674.0,270.8 L675.0,271.4 L676.0,271.4 L677.0,271.8 L678.0,271.4 L679.0,271.3 L680.0,271.2 L681.0,272.0 L682.0,272.3 L683.0,271.7 L684.0,271.3 L684.0,272.7 Z" fill="#fcfaec"/>
<path d="M483.4,268.8 L483.4,268.8 L484.4,268.8 L485.4,268.8 L486.4,268.8 L487.4,268.8 L488.4,268.9 L489.4,268.9 L490.4,268.9 L491.4,268.9 L492.4,268.9 L493.4,268.9 L494.4,269.0 L495.4,269.0 L496.4,269.0 L497.4,269.0 L498.4,269.0 L499.4,269.1 L500.5,269.1 L501.5,269.1 L502.5,269.1 L503.5,269.1 L504.5,269.1 L505.5,269.2 L506.5,269.2 L507.5,269.2 L508.5,269.2 L509.5,269.2 L510.5,269.3 L511.5,269.3 L512.5,269.3 L513.5,269.3 L514.5,269.3 L515.5,269.3 L516.5,269.4 L517.5,269.4 L518.5,269.4 L519.5,269.4 L520.5,269.4 L521.5,269.4 L522.5,269.5 L523.5,269.5 L524.5,269.5 L525.5,269.5 L526.5,269.5 L527.5,269.5 L528.5,269.6 L529.5,269.6 L530.5,269.6 L531.5,269.6 L532.5,269.6 L533.6,269.6 L534.6,269.7 L535.6,269.7 L536.6,269.7 L537.6,269.7 L538.6,269.7 L539.6,269.7 L540.6,269.8 L541.6,269.8 L542.6,269.8 L543.6,269.8 L544.6,269.8 L545.6,269.8 L546.6,269.8 L547.6,269.9 L548.6,269.9 L549.6,269.9 L550.6,269.9 L551.6,269.9 L552.6,269.9 L553.6,269.9 L554.6,270.0 L555.6,270.0 L556.6,270.0 L557.6,270.0 L558.6,270.0 L559.6,270.0 L560.6,270.0 L561.6,270.0 L562.6,270.0 L563.6,270.1 L564.6,270.1 L565.6,270.1 L566.6,270.1 L567.7,270.1 L568.7,270.1 L569.7,270.1 L570.7,270.1 L571.7,270.1 L572.7,270.1 L573.7,270.1 L574.7,270.1 L575.7,270.1 L576.7,270.1 L577.7,270.1 L578.7,270.1 L579.7,270.1 L580.7,270.1 L581.7,270.1 L582.7,270.1 L583.7,270.1 L584.7,270.0 L585.7,270.0 L586.7,270.0 L587.7,270.0 L588.7,269.9 L589.7,269.9 L590.7,269.9 L591.7,269.8 L592.7,269.7 L593.7,269.7 L594.7,269.6 L595.7,269.4 L596.7,269.3 L597.7,269.1 L598.7,268.9 L599.7,268.6 L600.8,268.3 L601.8,267.9 L602.8,267.4 L603.8,266.8 L604.8,266.2 L605.8,265.4 L606.8,264.6 L607.8,263.6 L608.8,262.5 L609.8,261.3 L610.8,260.1 L611.8,258.8 L612.8,257.4 L613.8,256.1 L614.8,254.8 L615.8,253.5 L616.8,252.4 L617.8,251.5 L618.8,250.8 L619.8,250.3 L620.8,250.1 L621.8,250.2 L622.8,250.8 L623.8,251.7 L624.8,252.9 L625.8,254.3 L626.8,255.9 L627.8,257.6 L628.8,259.3 L629.8,260.9 L630.8,262.4 L631.8,263.8 L632.8,265.0 L633.9,266.1 L634.9,267.0 L635.9,267.8 L636.9,268.5 L637.9,269.0 L638.9,269.4 L639.9,269.8 L640.9,270.1 L641.9,270.3 L642.9,270.5 L643.9,270.6 L644.9,270.8 L645.9,270.9 L646.9,271.0 L647.9,271.1 L648.9,271.2 L649.9,271.2 L650.9,271.3 L651.9,271.4 L652.9,271.4 L653.9,271.5 L654.9,271.5 L655.9,271.6 L656.9,271.6 L657.9,271.7 L658.9,271.7 L659.9,271.8 L660.9,271.8 L661.9,271.8 L662.9,271.9 L663.9,271.9 L664.9,272.0 L665.9,272.0 L666.9,272.0 L668.0,272.1 L669.0,272.1 L670.0,272.1 L671.0,272.2 L672.0,272.2 L673.0,272.2 L674.0,272.2 L675.0,272.3 L676.0,272.3 L677.0,272.3 L678.0,272.3 L679.0,272.4 L680.0,272.4 L681.0,272.4 L682.0,272.5 L683.0,272.5 L684.0,272.5 L684.0,272.7 Z" fill="url(#pm)"/>
<path d="M483.4,268.8 L483.4,268.8 L484.4,268.8 L485.4,268.8 L486.4,268.8 L487.4,268.9 L488.4,268.9 L489.4,268.9 L490.4,268.9 L491.4,268.9 L492.4,269.0 L493.4,269.0 L494.4,269.0 L495.4,269.0 L496.4,269.0 L497.4,269.0 L498.4,269.1 L499.4,269.1 L500.5,269.1 L501.5,269.1 L502.5,269.1 L503.5,269.2 L504.5,269.2 L505.5,269.2 L506.5,269.2 L507.5,269.2 L508.5,269.2 L509.5,269.3 L510.5,269.3 L511.5,269.3 L512.5,269.3 L513.5,269.3 L514.5,269.3 L515.5,269.4 L516.5,269.4 L517.5,269.4 L518.5,269.4 L519.5,269.4 L520.5,269.4 L521.5,269.4 L522.5,269.5 L523.5,269.5 L524.5,269.5 L525.5,269.5 L526.5,269.5 L527.5,269.5 L528.5,269.5 L529.5,269.5 L530.5,269.5 L531.5,269.5 L532.5,269.5 L533.6,269.5 L534.6,269.5 L535.6,269.5 L536.6,269.4 L537.6,269.4 L538.6,269.4 L539.6,269.3 L540.6,269.3 L541.6,269.2 L542.6,269.2 L543.6,269.1 L544.6,269.0 L545.6,269.0 L546.6,268.9 L547.6,268.8 L548.6,268.7 L549.6,268.5 L550.6,268.4 L551.6,268.3 L552.6,268.1 L553.6,268.0 L554.6,267.8 L555.6,267.6 L556.6,267.4 L557.6,267.2 L558.6,267.0 L559.6,266.8 L560.6,266.6 L561.6,266.4 L562.6,266.1 L563.6,265.9 L564.6,265.6 L565.6,265.4 L566.6,265.1 L567.7,264.9 L568.7,264.6 L569.7,264.3 L570.7,264.0 L571.7,263.7 L572.7,263.3 L573.7,262.9 L574.7,262.4 L575.7,261.8 L576.7,261.2 L577.7,260.3 L578.7,259.4 L579.7,258.2 L580.7,256.9 L581.7,255.4 L582.7,253.8 L583.7,252.1 L584.7,250.4 L585.7,248.7 L586.7,247.1 L587.7,245.8 L588.7,244.7 L589.7,244.0 L590.7,243.8 L591.7,244.1 L592.7,244.6 L593.7,245.5 L594.7,246.7 L595.7,248.1 L596.7,249.7 L597.7,251.3 L598.7,253.1 L599.7,254.8 L600.8,256.6 L601.8,258.2 L602.8,259.7 L603.8,261.2 L604.8,262.4 L605.8,263.6 L606.8,264.6 L607.8,265.5 L608.8,266.3 L609.8,266.9 L610.8,267.5 L611.8,268.0 L612.8,268.4 L613.8,268.7 L614.8,269.0 L615.8,269.3 L616.8,269.5 L617.8,269.7 L618.8,269.9 L619.8,270.1 L620.8,270.2 L621.8,270.4 L622.8,270.5 L623.8,270.6 L624.8,270.7 L625.8,270.8 L626.8,270.9 L627.8,271.0 L628.8,271.0 L629.8,271.1 L630.8,271.2 L631.8,271.2 L632.8,271.3 L633.9,271.3 L634.9,271.4 L635.9,271.4 L636.9,271.5 L637.9,271.5 L638.9,271.5 L639.9,271.6 L640.9,271.6 L641.9,271.6 L642.9,271.7 L643.9,271.7 L644.9,271.7 L645.9,271.8 L646.9,271.8 L647.9,271.8 L648.9,271.8 L649.9,271.9 L650.9,271.9 L651.9,271.9 L652.9,271.9 L653.9,272.0 L654.9,272.0 L655.9,272.0 L656.9,272.0 L657.9,272.1 L658.9,272.1 L659.9,272.1 L660.9,272.1 L661.9,272.2 L662.9,272.2 L663.9,272.2 L664.9,272.2 L665.9,272.2 L666.9,272.3 L668.0,272.3 L669.0,272.3 L670.0,272.3 L671.0,272.3 L672.0,272.4 L673.0,272.4 L674.0,272.4 L675.0,272.4 L676.0,272.5 L677.0,272.5 L678.0,272.5 L679.0,272.5 L680.0,272.5 L681.0,272.6 L682.0,272.6 L683.0,272.6 L684.0,272.6 L684.0,272.7 Z" fill="url(#pbc)"/>
<path d="M550.6,267.9 L551.6,267.8 L552.6,267.6 L553.6,267.4 L554.6,267.3 L555.6,267.1 L556.6,266.9 L557.6,266.7 L558.6,266.5 L559.6,266.2 L560.6,266.0 L561.6,265.8 L562.6,265.5 L563.6,265.3 L564.6,265.0 L565.6,264.8 L566.6,264.5 L567.7,264.2 L568.7,263.9 L569.7,263.6 L570.7,263.3 L571.7,263.0 L572.7,262.6 L573.7,262.2 L574.7,261.7 L575.7,261.1 L576.7,260.3 L577.7,259.5 L578.7,258.5 L579.7,257.3 L580.7,256.0 L581.7,254.5 L582.7,252.9 L583.7,251.1 L584.7,249.4 L585.7,247.6 L586.7,246.0 L587.7,244.6 L588.7,243.5 L589.7,242.8 L590.7,242.5 L591.7,242.7 L592.7,243.1 L593.7,243.9 L594.7,245.0 L595.7,246.2 L596.7,247.6 L597.7,249.1 L598.7,250.6 L599.7,252.1 L600.8,253.5 L601.8,254.7 L602.8,255.7 L603.8,256.6 L604.8,257.2 L605.8,257.5 L606.8,257.7 L607.8,257.6 L608.8,257.2 L609.8,256.7 L610.8,256.0 L611.8,255.1 L612.8,254.2 L613.8,253.2 L614.8,252.2 L615.8,251.2 L616.8,250.3 L617.8,249.5 L618.8,249.0 L619.8,248.6 L620.8,248.6 L621.8,248.8 L622.8,249.5 L623.8,250.4 L624.8,251.7 L625.8,253.3 L626.8,254.9 L627.8,256.6 L628.8,258.4 L629.8,260.0 L630.8,261.6 L631.8,263.0 L632.8,264.3 L633.9,265.4 L634.9,266.4 L635.9,267.2 L636.9,267.8 L637.9,268.4 L638.9,268.9 L639.9,269.2 L640.9,269.5 L641.9,269.8" fill="none" stroke="#f0309c" stroke-width="2.0" stroke-linecap="round" stroke-dasharray="0.1,3.5"/>
<path d="M483.4,268.3 L484.4,268.3 L485.4,268.0 L486.4,268.3 L487.4,268.1 L488.4,267.6 L489.4,267.4 L490.4,267.4 L491.4,268.3 L492.4,267.6 L493.4,267.8 L494.4,267.9 L495.4,267.4 L496.4,267.7 L497.4,267.8 L498.4,268.4 L499.4,267.9 L500.5,267.9 L501.5,268.8 L502.5,268.2 L503.5,268.7 L504.5,268.4 L505.5,267.6 L506.5,268.1 L507.5,268.2 L508.5,268.7 L509.5,268.1 L510.5,268.6 L511.5,268.4 L512.5,268.0 L513.5,268.9 L514.5,267.8 L515.5,268.9 L516.5,268.0 L517.5,267.8 L518.5,268.1 L519.5,268.9 L520.5,269.2 L521.5,267.9 L522.5,268.6 L523.5,268.6 L524.5,269.0 L525.5,268.2 L526.5,268.6 L527.5,268.5 L528.5,269.2 L529.5,268.4 L530.5,269.3 L531.5,268.4 L532.5,268.3 L533.6,269.0 L534.6,268.7 L535.6,268.1 L536.6,268.8 L537.6,268.0 L538.6,268.9 L539.6,268.8 L540.6,268.8 L541.6,268.6 L542.6,268.1 L543.6,268.1 L544.6,268.0 L545.6,268.6 L546.6,267.4 L547.6,268.4 L548.6,267.1 L549.6,267.2 L550.6,267.2 L551.6,267.9 L552.6,267.2 L553.6,266.9 L554.6,267.4 L555.6,266.3 L556.6,266.4 L557.6,266.3 L558.6,266.4 L559.6,266.2 L560.6,265.8 L561.6,265.1 L562.6,264.9 L563.6,264.4 L564.6,265.1 L565.6,264.6 L566.6,264.5 L567.7,263.4 L568.7,263.6 L569.7,263.8 L570.7,263.2 L571.7,262.3 L572.7,262.4 L573.7,262.6 L574.7,261.2 L575.7,260.6 L576.7,260.1 L577.7,259.8 L578.7,259.0 L579.7,256.9 L580.7,255.6 L581.7,254.2 L582.7,252.7 L583.7,251.3 L584.7,249.0 L585.7,247.5 L586.7,245.7 L587.7,245.4 L588.7,243.9 L589.7,242.3 L590.7,243.2 L591.7,242.0 L592.7,242.8 L593.7,244.2 L594.7,244.7 L595.7,245.6 L596.7,246.3 L597.7,247.2 L598.7,249.1 L599.7,249.7 L600.8,251.2 L601.8,252.8 L602.8,253.5 L603.8,255.0 L604.8,256.4 L605.8,256.9 L606.8,256.9 L607.8,257.2 L608.8,256.8 L609.8,255.9 L610.8,255.9 L611.8,254.8 L612.8,254.3 L613.8,253.5 L614.8,251.8 L615.8,250.9 L616.8,250.3 L617.8,249.1 L618.8,248.2 L619.8,248.6 L620.8,248.8 L621.8,248.9 L622.8,249.6 L623.8,250.9 L624.8,252.0 L625.8,253.6 L626.8,255.1 L627.8,256.7 L628.8,258.8 L629.8,259.7 L630.8,261.7 L631.8,263.5 L632.8,264.7 L633.9,265.6 L634.9,266.0 L635.9,267.0 L636.9,267.7 L637.9,268.5 L638.9,268.7 L639.9,269.4 L640.9,270.1 L641.9,269.2 L642.9,270.1 L643.9,270.4 L644.9,270.0 L645.9,270.3 L646.9,271.1 L647.9,269.9 L648.9,270.6 L649.9,270.2 L650.9,271.1 L651.9,271.4 L652.9,270.9 L653.9,270.3 L654.9,271.1 L655.9,271.1 L656.9,271.4 L657.9,271.1 L658.9,271.3 L659.9,271.6 L660.9,271.2 L661.9,271.1 L662.9,271.9 L663.9,270.9 L664.9,271.6 L665.9,271.2 L666.9,271.7 L668.0,270.8 L669.0,272.1 L670.0,271.2 L671.0,270.8 L672.0,271.1 L673.0,271.3 L674.0,270.8 L675.0,271.4 L676.0,271.4 L677.0,271.8 L678.0,271.4 L679.0,271.3 L680.0,271.2 L681.0,272.0 L682.0,272.3 L683.0,271.7 L684.0,271.3" fill="none" stroke="#111" stroke-width="1.2"/>
<line x1="482.6" y1="269.2" x2="684.8" y2="273.1" stroke="#2236e4" stroke-width="1.5"/>
<line x1="24.4" y1="11.0" x2="222.0" y2="11.0" stroke="#161616" stroke-width="1.6"/>
<line x1="24.4" y1="48.3" x2="222.0" y2="48.3" stroke="#161616" stroke-width="1.6"/>
<line x1="24.4" y1="85.6" x2="222.0" y2="85.6" stroke="#161616" stroke-width="1.6"/>
<line x1="24.4" y1="122.9" x2="222.0" y2="122.9" stroke="#161616" stroke-width="1.6"/>
<line x1="24.4" y1="160.1" x2="222.0" y2="160.1" stroke="#161616" stroke-width="1.6"/>
<line x1="24.4" y1="197.4" x2="222.0" y2="197.4" stroke="#161616" stroke-width="1.6"/>
<line x1="24.4" y1="234.7" x2="222.0" y2="234.7" stroke="#161616" stroke-width="1.6"/>
<line x1="24.4" y1="272.0" x2="222.0" y2="272.0" stroke="#161616" stroke-width="1.6"/>
<line x1="25.2" y1="10.2" x2="25.2" y2="272.8" stroke="#161616" stroke-width="1.6"/>
<line x1="221.2" y1="10.2" x2="221.2" y2="272.8" stroke="#161616" stroke-width="1.6"/>
<line x1="252.2" y1="10.8" x2="453.7" y2="10.8" stroke="#161616" stroke-width="1.6"/>
<line x1="252.2" y1="48.1" x2="453.7" y2="48.1" stroke="#161616" stroke-width="1.6"/>
<line x1="252.2" y1="85.4" x2="453.7" y2="85.4" stroke="#161616" stroke-width="1.6"/>
<line x1="252.2" y1="122.7" x2="453.7" y2="122.7" stroke="#161616" stroke-width="1.6"/>
<line x1="252.2" y1="159.9" x2="453.7" y2="159.9" stroke="#161616" stroke-width="1.6"/>
<line x1="252.2" y1="197.2" x2="453.7" y2="197.2" stroke="#161616" stroke-width="1.6"/>
<line x1="252.2" y1="234.5" x2="453.7" y2="234.5" stroke="#161616" stroke-width="1.6"/>
<line x1="252.2" y1="271.8" x2="453.7" y2="271.8" stroke="#161616" stroke-width="1.6"/>
<line x1="253.0" y1="10.0" x2="253.0" y2="272.6" stroke="#161616" stroke-width="1.6"/>
<line x1="452.9" y1="10.0" x2="452.9" y2="272.6" stroke="#161616" stroke-width="1.6"/>
<line x1="481.8" y1="10.3" x2="685.6" y2="10.3" stroke="#161616" stroke-width="1.6"/>
<line x1="481.8" y1="48.0" x2="685.6" y2="48.0" stroke="#161616" stroke-width="1.6"/>
<line x1="481.8" y1="85.7" x2="685.6" y2="85.7" stroke="#161616" stroke-width="1.6"/>
<line x1="481.8" y1="123.4" x2="685.6" y2="123.4" stroke="#161616" stroke-width="1.6"/>
<line x1="481.8" y1="161.1" x2="685.6" y2="161.1" stroke="#161616" stroke-width="1.6"/>
<line x1="481.8" y1="198.8" x2="685.6" y2="198.8" stroke="#161616" stroke-width="1.6"/>
<line x1="481.8" y1="236.5" x2="685.6" y2="236.5" stroke="#161616" stroke-width="1.6"/>
<line x1="481.8" y1="274.2" x2="685.6" y2="274.2" stroke="#161616" stroke-width="1.6"/>
<line x1="482.6" y1="9.5" x2="482.6" y2="275.0" stroke="#161616" stroke-width="1.6"/>
<line x1="684.8" y1="9.5" x2="684.8" y2="275.0" stroke="#161616" stroke-width="1.6"/>
<line x1="25.2" y1="272.0" x2="25.2" y2="274.6" stroke="#161616" stroke-width="1.4"/>
<line x1="47.0" y1="272.0" x2="47.0" y2="275.8" stroke="#161616" stroke-width="1.4"/>
<line x1="68.8" y1="272.0" x2="68.8" y2="274.6" stroke="#161616" stroke-width="1.4"/>
<line x1="90.5" y1="272.0" x2="90.5" y2="275.8" stroke="#161616" stroke-width="1.4"/>
<line x1="112.3" y1="272.0" x2="112.3" y2="274.6" stroke="#161616" stroke-width="1.4"/>
<line x1="134.1" y1="272.0" x2="134.1" y2="275.8" stroke="#161616" stroke-width="1.4"/>
<line x1="155.9" y1="272.0" x2="155.9" y2="274.6" stroke="#161616" stroke-width="1.4"/>
<line x1="177.6" y1="272.0" x2="177.6" y2="275.8" stroke="#161616" stroke-width="1.4"/>
<line x1="199.4" y1="272.0" x2="199.4" y2="274.6" stroke="#161616" stroke-width="1.4"/>
<line x1="221.2" y1="272.0" x2="221.2" y2="275.8" stroke="#161616" stroke-width="1.4"/>
<line x1="253.0" y1="271.8" x2="253.0" y2="275.6" stroke="#161616" stroke-width="1.4"/>
<line x1="273.0" y1="271.8" x2="273.0" y2="274.4" stroke="#161616" stroke-width="1.4"/>
<line x1="293.0" y1="271.8" x2="293.0" y2="275.6" stroke="#161616" stroke-width="1.4"/>
<line x1="313.0" y1="271.8" x2="313.0" y2="274.4" stroke="#161616" stroke-width="1.4"/>
<line x1="333.0" y1="271.8" x2="333.0" y2="275.6" stroke="#161616" stroke-width="1.4"/>
<line x1="352.9" y1="271.8" x2="352.9" y2="274.4" stroke="#161616" stroke-width="1.4"/>
<line x1="372.9" y1="271.8" x2="372.9" y2="275.6" stroke="#161616" stroke-width="1.4"/>
<line x1="392.9" y1="271.8" x2="392.9" y2="274.4" stroke="#161616" stroke-width="1.4"/>
<line x1="412.9" y1="271.8" x2="412.9" y2="275.6" stroke="#161616" stroke-width="1.4"/>
<line x1="432.9" y1="271.8" x2="432.9" y2="274.4" stroke="#161616" stroke-width="1.4"/>
<line x1="452.9" y1="271.8" x2="452.9" y2="275.6" stroke="#161616" stroke-width="1.4"/>
<line x1="488.5" y1="274.2" x2="488.5" y2="276.8" stroke="#161616" stroke-width="1.4"/>
<line x1="506.4" y1="274.2" x2="506.4" y2="278.0" stroke="#161616" stroke-width="1.4"/>
<line x1="524.2" y1="274.2" x2="524.2" y2="276.8" stroke="#161616" stroke-width="1.4"/>
<line x1="542.1" y1="274.2" x2="542.1" y2="278.0" stroke="#161616" stroke-width="1.4"/>
<line x1="559.9" y1="274.2" x2="559.9" y2="276.8" stroke="#161616" stroke-width="1.4"/>
<line x1="577.8" y1="274.2" x2="577.8" y2="278.0" stroke="#161616" stroke-width="1.4"/>
<line x1="595.6" y1="274.2" x2="595.6" y2="276.8" stroke="#161616" stroke-width="1.4"/>
<line x1="613.4" y1="274.2" x2="613.4" y2="278.0" stroke="#161616" stroke-width="1.4"/>
<line x1="631.3" y1="274.2" x2="631.3" y2="276.8" stroke="#161616" stroke-width="1.4"/>
<line x1="649.1" y1="274.2" x2="649.1" y2="278.0" stroke="#161616" stroke-width="1.4"/>
<line x1="667.0" y1="274.2" x2="667.0" y2="276.8" stroke="#161616" stroke-width="1.4"/>
<line x1="684.8" y1="274.2" x2="684.8" y2="278.0" stroke="#161616" stroke-width="1.4"/>
<text x="47.0" y="286.7" font-family="Liberation Sans" font-weight="bold" stroke="#141414" stroke-width="0.2" font-size="10" text-anchor="middle" fill="#141414">200</text>
<text x="90.5" y="286.7" font-family="Liberation Sans" font-weight="bold" stroke="#141414" stroke-width="0.2" font-size="10" text-anchor="middle" fill="#141414">400</text>
<text x="134.1" y="286.7" font-family="Liberation Sans" font-weight="bold" stroke="#141414" stroke-width="0.2" font-size="10" text-anchor="middle" fill="#141414">600</text>
<text x="177.6" y="286.7" font-family="Liberation Sans" font-weight="bold" stroke="#141414" stroke-width="0.2" font-size="10" text-anchor="middle" fill="#141414">800</text>
<text x="221.2" y="286.7" font-family="Liberation Sans" font-weight="bold" stroke="#141414" stroke-width="0.2" font-size="10" text-anchor="middle" fill="#141414">1000</text>
<text x="253.0" y="286" font-family="Liberation Sans" font-weight="bold" stroke="#141414" stroke-width="0.2" font-size="12.2" text-anchor="middle" fill="#141414">292</text>
<text x="293.0" y="286" font-family="Liberation Sans" font-weight="bold" stroke="#141414" stroke-width="0.2" font-size="12.2" text-anchor="middle" fill="#141414">290</text>
<text x="333.0" y="286" font-family="Liberation Sans" font-weight="bold" stroke="#141414" stroke-width="0.2" font-size="12.2" text-anchor="middle" fill="#141414">288</text>
<text x="372.9" y="286" font-family="Liberation Sans" font-weight="bold" stroke="#141414" stroke-width="0.2" font-size="12.2" text-anchor="middle" fill="#141414">286</text>
<text x="412.9" y="286" font-family="Liberation Sans" font-weight="bold" stroke="#141414" stroke-width="0.2" font-size="12.2" text-anchor="middle" fill="#141414">284</text>
<text x="452.9" y="286" font-family="Liberation Sans" font-weight="bold" stroke="#141414" stroke-width="0.2" font-size="12.2" text-anchor="middle" fill="#141414">282</text>
<text x="506.4" y="286.6" font-family="Liberation Sans" font-weight="bold" stroke="#141414" stroke-width="0.2" font-size="9.5" text-anchor="middle" fill="#141414">408</text>
<text x="542.1" y="286.6" font-family="Liberation Sans" font-weight="bold" stroke="#141414" stroke-width="0.2" font-size="9.5" text-anchor="middle" fill="#141414">405</text>
<text x="577.8" y="286.6" font-family="Liberation Sans" font-weight="bold" stroke="#141414" stroke-width="0.2" font-size="9.5" text-anchor="middle" fill="#141414">402</text>
<text x="613.4" y="286.6" font-family="Liberation Sans" font-weight="bold" stroke="#141414" stroke-width="0.2" font-size="9.5" text-anchor="middle" fill="#141414">399</text>
<text x="649.1" y="286.6" font-family="Liberation Sans" font-weight="bold" stroke="#141414" stroke-width="0.2" font-size="9.5" text-anchor="middle" fill="#141414">396</text>
<text x="684.8" y="286.6" font-family="Liberation Sans" font-weight="bold" stroke="#141414" stroke-width="0.2" font-size="9.5" text-anchor="middle" fill="#141414">393</text>
<text x="137" y="29.9" font-family="Liberation Serif" font-size="13.8" fill="#141414" stroke="#141414" stroke-width="0.12">HCS</text>
<text x="259" y="33.9" font-family="Liberation Serif" font-size="13.8" fill="#141414" stroke="#141414" stroke-width="0.12">HCS</text>
<text x="488.3" y="31.5" font-family="Liberation Serif" font-size="13.8" fill="#141414" stroke="#141414" stroke-width="0.12">HCS</text>
<text x="137" y="70.1" font-family="Liberation Serif" font-size="13.8" fill="#141414" stroke="#141414" stroke-width="0.12">N-HCS</text>
<text x="259" y="73.0" font-family="Liberation Serif" font-size="13.8" fill="#141414" stroke="#141414" stroke-width="0.12">N-HCS</text>
<text x="488.3" y="70.9" font-family="Liberation Serif" font-size="13.8" fill="#141414" stroke="#141414" stroke-width="0.12">N-HCS</text>
<text x="137" y="106.8" font-family="Liberation Serif" font-size="13.8" fill="#141414" stroke="#141414" stroke-width="0.12">G&amp;P N-HCS1</text>
<text x="259" y="110.3" font-family="Liberation Serif" font-size="13.8" fill="#141414" stroke="#141414" stroke-width="0.12">G&amp;P N-HCS1</text>
<text x="488.3" y="107.9" font-family="Liberation Serif" font-size="13.8" fill="#141414" stroke="#141414" stroke-width="0.12">G&amp;P N-HCS1</text>
<text x="137" y="142.4" font-family="Liberation Serif" font-size="13.8" fill="#141414" stroke="#141414" stroke-width="0.12">G&amp;P N-HCS2</text>
<text x="259" y="145.6" font-family="Liberation Serif" font-size="13.8" fill="#141414" stroke="#141414" stroke-width="0.12">G&amp;P N-HCS2</text>
<text x="488.3" y="143.7" font-family="Liberation Serif" font-size="13.8" fill="#141414" stroke="#141414" stroke-width="0.12">G&amp;P N-HCS2</text>
<text x="137" y="182.7" font-family="Liberation Serif" font-size="13.8" fill="#141414" stroke="#141414" stroke-width="0.12">G&amp;P N-HCS3</text>
<text x="259" y="186.5" font-family="Liberation Serif" font-size="13.8" fill="#141414" stroke="#141414" stroke-width="0.12">G&amp;P N-HCS3</text>
<text x="488.3" y="184.2" font-family="Liberation Serif" font-size="13.8" fill="#141414" stroke="#141414" stroke-width="0.12">G&amp;P N-HCS3</text>
<text x="137" y="217.8" font-family="Liberation Serif" font-size="13.8" fill="#141414" stroke="#141414" stroke-width="0.12">G&amp;P N-HCS4</text>
<text x="259" y="220.9" font-family="Liberation Serif" font-size="13.8" fill="#141414" stroke="#141414" stroke-width="0.12">G&amp;P N-HCS4</text>
<text x="488.3" y="219.0" font-family="Liberation Serif" font-size="13.8" fill="#141414" stroke="#141414" stroke-width="0.12">G&amp;P N-HCS4</text>
<text x="137" y="254.0" font-family="Liberation Serif" font-size="13.8" fill="#141414" stroke="#141414" stroke-width="0.12">G&amp;P N-HCS5</text>
<text x="259" y="258.9" font-family="Liberation Serif" font-size="13.8" fill="#141414" stroke="#141414" stroke-width="0.12">G&amp;P N-HCS5</text>
<text x="488.3" y="257.0" font-family="Liberation Serif" font-size="13.8" fill="#141414" stroke="#141414" stroke-width="0.12">G&amp;P N-HCS5</text>
<text x="596.7" y="60.4" font-family="Liberation Serif" font-size="12.6" fill="#141414" stroke-width="0.15" stroke="currentColor"><tspan fill="#2844f4" stroke="#2844f4">Gr N</tspan><tspan fill="#1a2a80" stroke="#1a2a80">:</tspan><tspan fill="#e22cb4" stroke="#e22cb4">Pr N</tspan><tspan stroke="#141414">=1.36</tspan></text>
<text x="596.7" y="97.3" font-family="Liberation Serif" font-size="12.6" fill="#141414" stroke-width="0.15" stroke="currentColor"><tspan fill="#2844f4" stroke="#2844f4">Gr N</tspan><tspan fill="#1a2a80" stroke="#1a2a80">:</tspan><tspan fill="#e22cb4" stroke="#e22cb4">Pr N</tspan><tspan stroke="#141414">=2.13</tspan></text>
<text x="596.7" y="134.6" font-family="Liberation Serif" font-size="12.6" fill="#141414" stroke-width="0.15" stroke="currentColor"><tspan fill="#2844f4" stroke="#2844f4">Gr N</tspan><tspan fill="#1a2a80" stroke="#1a2a80">:</tspan><tspan fill="#e22cb4" stroke="#e22cb4">Pr N</tspan><tspan stroke="#141414">=1.91</tspan></text>
<text x="596.7" y="171.6" font-family="Liberation Serif" font-size="12.6" fill="#141414" stroke-width="0.15" stroke="currentColor"><tspan fill="#2844f4" stroke="#2844f4">Gr N</tspan><tspan fill="#1a2a80" stroke="#1a2a80">:</tspan><tspan fill="#e22cb4" stroke="#e22cb4">Pr N</tspan><tspan stroke="#141414">=1.87</tspan></text>
<text x="596.7" y="209.6" font-family="Liberation Serif" font-size="12.6" fill="#141414" stroke-width="0.15" stroke="currentColor"><tspan fill="#2844f4" stroke="#2844f4">Gr N</tspan><tspan fill="#1a2a80" stroke="#1a2a80">:</tspan><tspan fill="#e22cb4" stroke="#e22cb4">Pr N</tspan><tspan stroke="#141414">=0.96</tspan></text>
<text x="596.7" y="247.0" font-family="Liberation Serif" font-size="12.6" fill="#141414" stroke-width="0.15" stroke="currentColor"><tspan fill="#2844f4" stroke="#2844f4">Gr N</tspan><tspan fill="#1a2a80" stroke="#1a2a80">:</tspan><tspan fill="#e22cb4" stroke="#e22cb4">Pr N</tspan><tspan stroke="#141414">=1.45</tspan></text>
<text x="419.3" y="25.6" font-family="Liberation Serif" font-size="13.4" fill="#141414">C 1s</text>
<text x="651.0" y="25.6" font-family="Liberation Serif" font-size="13.4" fill="#141414">N 1s</text>
<text x="67.5" y="249" font-family="Liberation Serif" font-size="14" fill="#141414" stroke="#141414" stroke-width="0.12">C</text>
<text x="85" y="256.2" font-family="Liberation Serif" font-size="14" fill="#141414" stroke="#141414" stroke-width="0.12">N</text>
<text x="114.8" y="257.9" font-family="Liberation Serif" font-size="14" fill="#141414" stroke="#141414" stroke-width="0.12">O</text>
<text x="125.5" y="305" font-family="Liberation Sans" font-weight="bold" stroke="#141414" stroke-width="0.2" font-size="10.9" text-anchor="middle" fill="#141414">Binding Energy (eV)</text>
<text x="347.5" y="305" font-family="Liberation Sans" font-weight="bold" stroke="#141414" stroke-width="0.2" font-size="11.8" text-anchor="middle" fill="#141414">Binding Energy (eV)</text>
<text x="583.3" y="305" font-family="Liberation Sans" font-weight="bold" stroke="#141414" stroke-width="0.2" font-size="11.85" text-anchor="middle" fill="#141414">Binding Energy (eV)</text>
<text transform="translate(11.6,147.75) rotate(-90)" font-family="Liberation Sans" font-weight="bold" stroke="#141414" stroke-width="0.2" font-size="11.0" text-anchor="middle" fill="#141414">Intensity (a.u.)</text>
<text transform="translate(243,140.5) rotate(-90)" font-family="Liberation Sans" font-weight="bold" stroke="#141414" stroke-width="0.2" font-size="11.65" text-anchor="middle" fill="#141414">Intensity (a.u.)</text>
<text transform="translate(472.2,145.6) rotate(-90)" font-family="Liberation Sans" font-weight="bold" stroke="#141414" stroke-width="0.2" font-size="11.9" text-anchor="middle" fill="#141414">Intensity (a.u.)</text>
<text x="7.5" y="16.6" font-family="Liberation Serif" font-size="21" fill="#141414" stroke="#141414" stroke-width="0.15">a</text>
<text x="234" y="16.7" font-family="Liberation Serif" font-size="22.3" fill="#141414" stroke="#141414" stroke-width="0.15">b</text>
<text x="465.5" y="16.6" font-family="Liberation Serif" font-size="21" fill="#141414" stroke="#141414" stroke-width="0.45">c</text>
</svg>
</body></html>
